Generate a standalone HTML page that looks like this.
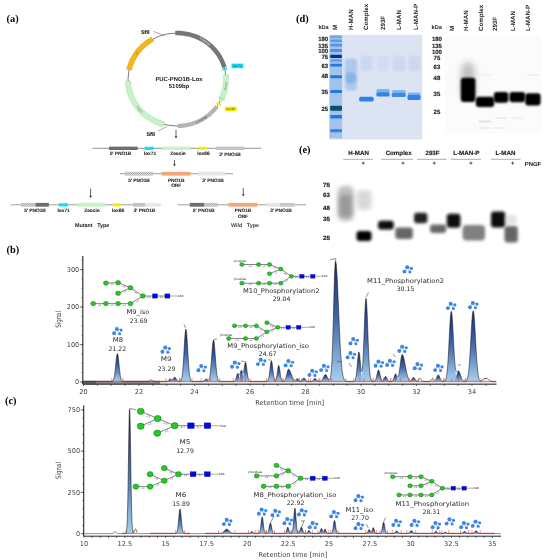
<!DOCTYPE html>
<html><head><meta charset="utf-8"><title>Figure</title>
<style>html,body{margin:0;padding:0;background:#fff;} body{width:550px;height:560px;overflow:hidden;} svg{display:block;}</style>
</head><body>
<svg width="550" height="560" viewBox="0 0 550 560" text-rendering="geometricPrecision">
<rect width="550" height="560" fill="#fff"/>

<defs>
<filter id="b05" x="-50%" y="-50%" width="200%" height="200%"><feGaussianBlur stdDeviation="0.5"/></filter>
<filter id="b07" x="-50%" y="-50%" width="200%" height="200%"><feGaussianBlur stdDeviation="0.7"/></filter>
<filter id="b08" x="-50%" y="-50%" width="200%" height="200%"><feGaussianBlur stdDeviation="0.8"/></filter>
<filter id="b1" x="-50%" y="-50%" width="200%" height="200%"><feGaussianBlur stdDeviation="1.1"/></filter>
<filter id="b13" x="-50%" y="-50%" width="200%" height="200%"><feGaussianBlur stdDeviation="1.35"/></filter>
<filter id="b2" x="-50%" y="-50%" width="200%" height="200%"><feGaussianBlur stdDeviation="2"/></filter>
<filter id="b3" x="-80%" y="-80%" width="260%" height="260%"><feGaussianBlur stdDeviation="3"/></filter>
<linearGradient id="pk" x1="0" y1="0" x2="0" y2="1">
  <stop offset="0" stop-color="#1b2870"/>
  <stop offset="0.45" stop-color="#3f63a8"/>
  <stop offset="1" stop-color="#a6d2ee"/>
</linearGradient>
<pattern id="chk" width="2" height="2" patternUnits="userSpaceOnUse">
  <rect width="2" height="2" fill="#d8d8d8"/>
  <rect width="1" height="1" fill="#b0b0b0"/>
  <rect x="1" y="1" width="1" height="1" fill="#b0b0b0"/>
</pattern>
<pattern id="chk2" width="2" height="2" patternUnits="userSpaceOnUse">
  <rect width="2" height="2" fill="#f0f0f0"/>
  <rect width="1" height="1" fill="#dcdcdc"/>
  <rect x="1" y="1" width="1" height="1" fill="#dcdcdc"/>
</pattern>
</defs>

<text x="6.5" y="22.0" font-size="10.4" font-weight="bold" text-anchor="start" fill="#000" font-family="'Liberation Serif', 'Times New Roman', serif" >(a)</text>
<text x="6.5" y="252.5" font-size="10.4" font-weight="bold" text-anchor="start" fill="#000" font-family="'Liberation Serif', 'Times New Roman', serif" >(b)</text>
<text x="5.0" y="404.0" font-size="10.4" font-weight="bold" text-anchor="start" fill="#000" font-family="'Liberation Serif', 'Times New Roman', serif" >(c)</text>
<text x="296.0" y="22.0" font-size="10.4" font-weight="bold" text-anchor="start" fill="#000" font-family="'Liberation Serif', 'Times New Roman', serif" >(d)</text>
<text x="299.0" y="153.0" font-size="10.4" font-weight="bold" text-anchor="start" fill="#000" font-family="'Liberation Serif', 'Times New Roman', serif" >(e)</text>
<ellipse cx="177" cy="79.5" rx="49" ry="46.5" fill="none" stroke="#5a5a5a" stroke-width="0.8"/>
<path d="M175.21,30.73 L176.93,30.70 L178.66,30.73 L180.38,30.81 L182.10,30.94 L183.81,31.13 L185.51,31.38 L187.21,31.68 L188.89,32.03 L190.56,32.44 L192.21,32.90 L193.85,33.41 L195.47,33.97 L197.07,34.59 L198.64,35.25 L200.19,35.97 L201.71,36.74 L203.21,37.55 L204.68,38.41 L206.11,39.32 L207.51,40.27 L208.88,41.27 L210.21,42.31 L211.51,43.39 L212.76,44.51 L213.98,45.68 L215.15,46.88 L216.28,48.12 L217.37,49.39 L218.41,50.70 L219.40,52.04 L220.35,53.41 L221.25,54.81 L222.09,56.23 L222.89,57.69 L223.63,59.17 L224.33,60.67 L224.96,62.19 L225.55,63.73 L226.08,65.29 L226.55,66.87 L222.11,68.06 L221.68,66.63 L221.20,65.22 L220.66,63.82 L220.08,62.44 L219.45,61.08 L218.78,59.74 L218.05,58.43 L217.28,57.13 L216.46,55.87 L215.60,54.62 L214.70,53.41 L213.75,52.23 L212.76,51.07 L211.73,49.95 L210.66,48.87 L209.56,47.81 L208.41,46.80 L207.24,45.82 L206.02,44.87 L204.78,43.97 L203.50,43.11 L202.19,42.28 L200.86,41.50 L199.50,40.77 L198.11,40.07 L196.70,39.42 L195.27,38.82 L193.81,38.26 L192.34,37.75 L190.85,37.29 L189.34,36.87 L187.82,36.50 L186.29,36.18 L184.75,35.91 L183.20,35.69 L181.64,35.52 L180.07,35.40 L178.51,35.32 L176.94,35.30 L175.37,35.33 Z" fill="#767676" stroke="none" stroke-width="0.4"/>
<path d="M228.22,74.38 L228.28,75.02 L228.34,75.66 L228.39,76.30 L228.43,76.94 L228.46,77.58 L228.48,78.22 L228.50,78.86 L228.50,79.50 L228.50,80.14 L228.48,80.78 L228.46,81.42 L228.43,82.06 L228.39,82.70 L228.34,83.34 L228.28,83.98 L228.22,84.62 L228.14,85.26 L228.06,85.90 L227.97,86.53 L227.87,87.17 L227.76,87.80 L227.64,88.43 L227.51,89.06 L227.37,89.69 L227.23,90.31 L227.08,90.94 L226.92,91.56 L226.75,92.18 L226.57,92.80 L226.38,93.42 L226.18,94.03 L225.98,94.64 L225.77,95.25 L225.55,95.86 L225.32,96.46 L225.08,97.06 L224.83,97.66 L224.58,98.25 L224.32,98.84 L224.05,99.43 L219.48,97.40 L219.72,96.87 L219.96,96.34 L220.19,95.80 L220.41,95.27 L220.63,94.73 L220.83,94.19 L221.03,93.64 L221.22,93.10 L221.41,92.55 L221.59,92.00 L221.75,91.44 L221.92,90.89 L222.07,90.33 L222.22,89.77 L222.35,89.21 L222.48,88.65 L222.61,88.08 L222.72,87.52 L222.83,86.95 L222.93,86.38 L223.02,85.81 L223.10,85.24 L223.18,84.67 L223.25,84.10 L223.30,83.53 L223.36,82.95 L223.40,82.38 L223.44,81.80 L223.46,81.23 L223.48,80.65 L223.50,80.08 L223.50,79.50 L223.50,78.92 L223.48,78.35 L223.46,77.77 L223.44,77.20 L223.40,76.62 L223.36,76.05 L223.30,75.47 L223.25,74.90 Z" fill="#c9f2c9" stroke="#8ccf8c" stroke-width="0.4"/>
<path d="M224.87,99.80 L220.06,101.69 L218.66,97.03 Z" fill="#c9f2c9" stroke="#8ccf8c" stroke-width="0.4"/>
<path d="M218.86,107.38 L218.16,108.31 L217.43,109.22 L216.68,110.12 L215.91,111.00 L215.12,111.86 L214.31,112.71 L213.48,113.53 L212.63,114.34 L211.75,115.13 L210.86,115.90 L209.95,116.65 L209.02,117.38 L208.07,118.08 L207.11,118.77 L206.13,119.43 L205.13,120.07 L204.12,120.69 L203.09,121.29 L202.05,121.86 L200.99,122.41 L199.92,122.94 L198.84,123.44 L197.74,123.92 L196.64,124.37 L195.52,124.80 L194.39,125.20 L193.26,125.58 L192.11,125.93 L190.96,126.25 L189.79,126.55 L188.63,126.83 L187.45,127.07 L186.27,127.29 L185.08,127.49 L183.89,127.66 L182.70,127.80 L181.50,127.91 L180.30,128.00 L179.10,128.06 L177.89,128.09 L177.82,123.89 L178.92,123.86 L180.03,123.81 L181.13,123.73 L182.23,123.62 L183.32,123.49 L184.42,123.34 L185.51,123.16 L186.59,122.96 L187.67,122.74 L188.74,122.49 L189.81,122.21 L190.87,121.91 L191.92,121.59 L192.96,121.25 L194.00,120.88 L195.02,120.49 L196.04,120.08 L197.04,119.64 L198.04,119.18 L199.02,118.70 L199.99,118.20 L200.94,117.68 L201.89,117.13 L202.82,116.57 L203.73,115.98 L204.63,115.37 L205.52,114.75 L206.39,114.10 L207.24,113.44 L208.08,112.75 L208.90,112.05 L209.70,111.33 L210.48,110.59 L211.24,109.84 L211.99,109.07 L212.72,108.28 L213.42,107.47 L214.11,106.65 L214.77,105.82 L215.42,104.97 Z" fill="#b4b4b4" stroke="none" stroke-width="0.4"/>
<path d="M162.78,126.70 L161.23,126.25 L159.69,125.76 L158.17,125.21 L156.67,124.63 L155.19,124.00 L153.73,123.33 L152.30,122.61 L150.89,121.85 L149.50,121.05 L148.15,120.21 L146.82,119.32 L145.52,118.40 L144.25,117.44 L143.01,116.44 L141.81,115.41 L140.64,114.34 L139.51,113.24 L138.41,112.10 L137.36,110.93 L136.34,109.73 L135.36,108.50 L134.42,107.24 L133.53,105.95 L132.68,104.64 L131.87,103.30 L131.11,101.94 L130.39,100.56 L129.72,99.16 L129.09,97.73 L128.51,96.29 L127.98,94.84 L127.50,93.36 L127.07,91.88 L126.68,90.38 L126.35,88.87 L126.06,87.35 L125.83,85.82 L125.65,84.29 L125.51,82.75 L125.43,81.21 L130.63,81.03 L130.70,82.41 L130.82,83.78 L130.99,85.15 L131.20,86.52 L131.45,87.88 L131.75,89.23 L132.10,90.57 L132.49,91.89 L132.92,93.21 L133.40,94.51 L133.92,95.80 L134.48,97.08 L135.09,98.33 L135.73,99.57 L136.42,100.78 L137.14,101.98 L137.91,103.15 L138.71,104.30 L139.56,105.43 L140.44,106.53 L141.35,107.60 L142.30,108.65 L143.29,109.66 L144.30,110.65 L145.36,111.61 L146.44,112.53 L147.55,113.42 L148.69,114.28 L149.86,115.11 L151.05,115.89 L152.27,116.65 L153.52,117.36 L154.79,118.04 L156.08,118.68 L157.39,119.29 L158.72,119.85 L160.07,120.37 L161.44,120.86 L162.82,121.30 L164.21,121.70 Z" fill="#c9f2c9" stroke="#8ccf8c" stroke-width="0.4"/>
<path d="M126.63,69.31 L126.86,68.31 L127.12,67.31 L127.40,66.32 L127.70,65.34 L128.02,64.36 L128.36,63.39 L128.73,62.42 L129.12,61.46 L129.52,60.51 L129.95,59.57 L130.40,58.64 L130.87,57.71 L131.36,56.80 L131.87,55.89 L132.40,55.00 L132.95,54.12 L133.52,53.24 L134.10,52.38 L134.71,51.54 L135.34,50.70 L135.98,49.87 L136.64,49.06 L137.32,48.27 L138.01,47.48 L138.73,46.71 L139.46,45.96 L140.20,45.22 L140.97,44.49 L141.75,43.78 L142.54,43.09 L143.35,42.41 L144.17,41.74 L145.01,41.10 L145.86,40.47 L146.73,39.86 L147.61,39.26 L148.50,38.69 L149.40,38.13 L150.32,37.59 L151.25,37.06 L153.75,41.39 L152.91,41.86 L152.08,42.35 L151.27,42.85 L150.46,43.37 L149.67,43.90 L148.89,44.45 L148.12,45.02 L147.36,45.60 L146.62,46.19 L145.89,46.80 L145.17,47.43 L144.47,48.06 L143.78,48.71 L143.10,49.38 L142.44,50.06 L141.80,50.75 L141.17,51.45 L140.56,52.17 L139.96,52.90 L139.38,53.64 L138.82,54.39 L138.27,55.15 L137.74,55.92 L137.23,56.71 L136.73,57.50 L136.25,58.30 L135.79,59.11 L135.35,59.94 L134.93,60.77 L134.52,61.60 L134.13,62.45 L133.77,63.30 L133.42,64.16 L133.09,65.03 L132.78,65.90 L132.48,66.78 L132.21,67.67 L131.96,68.56 L131.73,69.45 L131.52,70.35 Z" fill="#f2b61e" stroke="#d99a00" stroke-width="0.4"/>
<path d="M227.02,67.46 L227.04,67.51 L227.05,67.56 L227.06,67.61 L227.08,67.65 L227.09,67.70 L227.10,67.75 L227.11,67.80 L227.13,67.85 L227.14,67.90 L227.15,67.95 L227.17,68.00 L227.18,68.05 L227.19,68.10 L227.20,68.15 L227.22,68.20 L227.23,68.25 L227.24,68.30 L227.25,68.35 L227.27,68.40 L227.28,68.45 L227.29,68.51 L227.30,68.56 L227.31,68.61 L227.33,68.66 L227.34,68.71 L227.35,68.76 L227.36,68.81 L227.37,68.86 L227.38,68.91 L227.40,68.96 L227.41,69.01 L227.42,69.06 L227.43,69.11 L227.44,69.16 L227.45,69.21 L227.46,69.26 L227.48,69.31 L227.49,69.36 L227.50,69.41 L227.51,69.46 L222.42,70.52 L222.41,70.48 L222.40,70.43 L222.39,70.39 L222.38,70.34 L222.37,70.30 L222.36,70.25 L222.35,70.21 L222.34,70.16 L222.33,70.12 L222.32,70.07 L222.31,70.03 L222.30,69.98 L222.29,69.94 L222.28,69.89 L222.26,69.85 L222.25,69.80 L222.24,69.76 L222.23,69.71 L222.22,69.67 L222.21,69.62 L222.20,69.58 L222.19,69.54 L222.18,69.49 L222.17,69.45 L222.16,69.40 L222.14,69.36 L222.13,69.31 L222.12,69.27 L222.11,69.22 L222.10,69.18 L222.09,69.13 L222.08,69.09 L222.06,69.04 L222.05,69.00 L222.04,68.95 L222.03,68.91 L222.02,68.86 L222.01,68.82 L221.99,68.78 L221.98,68.73 Z" fill="#12e0f6" stroke="none" stroke-width="0.4"/>
<path d="M221.37,104.37 L221.34,104.42 L221.31,104.47 L221.28,104.52 L221.25,104.57 L221.22,104.62 L221.19,104.67 L221.16,104.72 L221.13,104.77 L221.09,104.82 L221.06,104.87 L221.03,104.91 L221.00,104.96 L220.97,105.01 L220.94,105.06 L220.91,105.11 L220.87,105.16 L220.84,105.21 L220.81,105.26 L220.78,105.31 L220.75,105.36 L220.71,105.41 L220.68,105.46 L220.65,105.50 L220.62,105.55 L220.58,105.60 L220.55,105.65 L220.52,105.70 L220.49,105.75 L220.46,105.80 L220.42,105.85 L220.39,105.89 L220.36,105.94 L220.32,105.99 L220.29,106.04 L220.26,106.09 L220.23,106.14 L220.19,106.19 L220.16,106.23 L220.13,106.28 L220.09,106.33 L215.91,103.59 L215.94,103.55 L215.97,103.51 L216.00,103.46 L216.03,103.42 L216.06,103.38 L216.09,103.33 L216.12,103.29 L216.15,103.24 L216.18,103.20 L216.21,103.16 L216.24,103.11 L216.27,103.07 L216.29,103.03 L216.32,102.98 L216.35,102.94 L216.38,102.89 L216.41,102.85 L216.44,102.81 L216.47,102.76 L216.50,102.72 L216.53,102.67 L216.56,102.63 L216.59,102.59 L216.61,102.54 L216.64,102.50 L216.67,102.45 L216.70,102.41 L216.73,102.37 L216.76,102.32 L216.78,102.28 L216.81,102.23 L216.84,102.19 L216.87,102.14 L216.90,102.10 L216.93,102.05 L216.95,102.01 L216.98,101.97 L217.01,101.92 L217.04,101.88 L217.07,101.83 Z" fill="#f4ec10" stroke="none" stroke-width="0.4"/>
<text x="141.0" y="33.5" font-size="5.4" font-weight="bold" text-anchor="start" fill="#222" font-family="'Liberation Sans', Arial, sans-serif" stroke="#222" stroke-width="0.15">SfiI</text>
<line x1="153.5" y1="31.5" x2="164" y2="35.2" stroke="#555" stroke-width="0.5"/>
<text x="146.5" y="136.0" font-size="5.4" font-weight="bold" text-anchor="start" fill="#222" font-family="'Liberation Sans', Arial, sans-serif" stroke="#222" stroke-width="0.15">SfiI</text>
<line x1="158" y1="131" x2="167" y2="126.5" stroke="#555" stroke-width="0.5"/>
<text x="179.0" y="81.0" font-size="5.9" font-weight="bold" text-anchor="middle" fill="#222" font-family="'Liberation Sans', Arial, sans-serif" >PUC-PNO1B-Lox</text>
<text x="179.0" y="87.6" font-size="5.9" font-weight="bold" text-anchor="middle" fill="#222" font-family="'Liberation Sans', Arial, sans-serif" >5109bp</text>
<rect x="231.5" y="63.6" width="12" height="4.6" fill="#12e0f6"/>
<text x="237.5" y="67.3" font-size="3.2" font-weight="normal" text-anchor="middle" fill="#1a4050" font-family="'Liberation Sans', Arial, sans-serif" >lox 71</text>
<rect x="224.8" y="106.6" width="12" height="4.6" fill="#f4ec10"/>
<text x="230.8" y="110.3" font-size="3.2" font-weight="normal" text-anchor="middle" fill="#404010" font-family="'Liberation Sans', Arial, sans-serif" >lox 66</text>
<text x="205.1" y="42.4" font-size="2.8" fill="#eee" text-anchor="middle" font-family="'Liberation Sans', Arial, sans-serif" transform="rotate(35 205.1 41.4)">5' PNO1B</text>
<text x="201.5" y="120.8" font-size="2.8" fill="#555" text-anchor="middle" font-family="'Liberation Sans', Arial, sans-serif" transform="rotate(-30 201.5 119.8)">3' PNO1B</text>
<text x="136.9" y="53.8" font-size="2.8" fill="#7a5a00" text-anchor="middle" font-family="'Liberation Sans', Arial, sans-serif" transform="rotate(-55 136.9 52.8)">ori</text>
<text x="139.5" y="110.4" font-size="2.8" fill="#4a7a4a" text-anchor="middle" font-family="'Liberation Sans', Arial, sans-serif" transform="rotate(50 139.5 109.4)">AmpR</text>
<text x="225.5" y="87.0" font-size="2.8" fill="#4a7a4a" text-anchor="middle" font-family="'Liberation Sans', Arial, sans-serif" transform="rotate(-80 225.5 86.0)">Zeocin</text>
<line x1="176" y1="130" x2="176" y2="136.7" stroke="#222" stroke-width="0.7"/>
<path d="M174.8,136.3 L177.2,136.3 L176,138.5 Z" fill="#222"/>
<line x1="92.5" y1="148.3" x2="261" y2="148.3" stroke="#666" stroke-width="0.7"/>
<rect x="109" y="146.60000000000002" width="28.599999999999994" height="3.4" fill="#6e6e6e"/>
<path d="M144.5,146.70000000000002 L152.0,146.70000000000002 L152.0,146.10000000000002 L154.5,148.3 L152.0,150.5 L152.0,149.9 L144.5,149.9 Z" fill="#12e0f6"/>
<rect x="162.4" y="146.60000000000002" width="27.599999999999994" height="3.4" fill="#c6f3c6"/>
<path d="M198.2,146.70000000000002 L204.8,146.70000000000002 L204.8,146.10000000000002 L207.3,148.3 L204.8,150.5 L204.8,149.9 L198.2,149.9 Z" fill="#f4ec10"/>
<rect x="216" y="146.60000000000002" width="28.5" height="3.4" fill="#c4c4c4"/>
<text x="120.5" y="155.2" font-size="4.8" font-weight="bold" text-anchor="middle" fill="#2a2a2a" font-family="'Liberation Sans', Arial, sans-serif" stroke="#2a2a2a" stroke-width="0.12">5' PNO1B</text>
<text x="150.0" y="155.0" font-size="4.8" font-weight="bold" text-anchor="middle" fill="#2a2a2a" font-family="'Liberation Sans', Arial, sans-serif" stroke="#2a2a2a" stroke-width="0.12">lox71</text>
<text x="178.0" y="155.2" font-size="4.8" font-weight="bold" text-anchor="middle" fill="#2a2a2a" font-family="'Liberation Sans', Arial, sans-serif" stroke="#2a2a2a" stroke-width="0.12">Zeocin</text>
<text x="203.5" y="155.0" font-size="4.8" font-weight="bold" text-anchor="middle" fill="#2a2a2a" font-family="'Liberation Sans', Arial, sans-serif" stroke="#2a2a2a" stroke-width="0.12">lox66</text>
<text x="230.0" y="155.5" font-size="4.8" font-weight="bold" text-anchor="middle" fill="#2a2a2a" font-family="'Liberation Sans', Arial, sans-serif" stroke="#2a2a2a" stroke-width="0.12">3' PNO1B</text>
<line x1="174.5" y1="160" x2="174.5" y2="164.7" stroke="#222" stroke-width="0.7"/>
<path d="M173.3,164.3 L175.7,164.3 L174.5,166.5 Z" fill="#222"/>
<line x1="120" y1="173.7" x2="233" y2="173.7" stroke="#777" stroke-width="0.7"/>
<rect x="124.7" y="171.79999999999998" width="28.299999999999997" height="3.8" fill="url(#chk)"/>
<rect x="161.5" y="171.79999999999998" width="28.900000000000006" height="3.8" fill="#f2a87a"/>
<rect x="198" y="171.79999999999998" width="27.400000000000006" height="3.8" fill="url(#chk2)"/>
<text x="139.0" y="181.5" font-size="4.8" font-weight="bold" text-anchor="middle" fill="#2a2a2a" font-family="'Liberation Sans', Arial, sans-serif" stroke="#2a2a2a" stroke-width="0.12">5' PNO1B</text>
<text x="176.2" y="181.5" font-size="4.8" font-weight="bold" text-anchor="middle" fill="#2a2a2a" font-family="'Liberation Sans', Arial, sans-serif" stroke="#2a2a2a" stroke-width="0.12">PNO1B</text>
<text x="176.2" y="187.0" font-size="4.8" font-weight="bold" text-anchor="middle" fill="#2a2a2a" font-family="'Liberation Sans', Arial, sans-serif" stroke="#2a2a2a" stroke-width="0.12">ORF</text>
<text x="213.0" y="181.5" font-size="4.8" font-weight="bold" text-anchor="middle" fill="#2a2a2a" font-family="'Liberation Sans', Arial, sans-serif" stroke="#2a2a2a" stroke-width="0.12">3' PNO1B</text>
<line x1="90.6" y1="188.5" x2="90.6" y2="196.2" stroke="#222" stroke-width="0.7"/>
<path d="M89.39999999999999,195.8 L91.8,195.8 L90.6,198 Z" fill="#222"/>
<line x1="243.3" y1="188" x2="243.3" y2="194.7" stroke="#222" stroke-width="0.7"/>
<path d="M242.10000000000002,194.3 L244.5,194.3 L243.3,196.5 Z" fill="#222"/>
<line x1="10.8" y1="204.8" x2="160.7" y2="204.8" stroke="#777" stroke-width="0.7"/>
<rect x="21" y="202.9" width="14.5" height="3.8" fill="url(#chk)"/>
<rect x="35.5" y="202.9" width="13.299999999999997" height="3.8" fill="#6e6e6e"/>
<path d="M58.7,203.20000000000002 L66.1,203.20000000000002 L66.1,202.60000000000002 L68.6,204.8 L66.1,207.0 L66.1,206.4 L58.7,206.4 Z" fill="#12e0f6"/>
<rect x="77.3" y="202.9" width="27.799999999999997" height="3.8" fill="#c6f3c6"/>
<path d="M112.8,203.20000000000002 L119.6,203.20000000000002 L119.6,202.60000000000002 L122.1,204.8 L119.6,207.0 L119.6,206.4 L112.8,206.4 Z" fill="#f4ec10"/>
<rect x="133" y="202.9" width="12.300000000000011" height="3.8" fill="#c4c4c4"/>
<rect x="145.3" y="202.9" width="13.899999999999977" height="3.8" fill="#e8e8e8"/>
<text x="35.0" y="212.0" font-size="4.8" font-weight="bold" text-anchor="middle" fill="#2a2a2a" font-family="'Liberation Sans', Arial, sans-serif" stroke="#2a2a2a" stroke-width="0.12">5' PNO1B</text>
<text x="63.6" y="212.0" font-size="4.8" font-weight="bold" text-anchor="middle" fill="#2a2a2a" font-family="'Liberation Sans', Arial, sans-serif" stroke="#2a2a2a" stroke-width="0.12">lox71</text>
<text x="92.0" y="212.0" font-size="4.8" font-weight="bold" text-anchor="middle" fill="#2a2a2a" font-family="'Liberation Sans', Arial, sans-serif" stroke="#2a2a2a" stroke-width="0.12">Zeocin</text>
<text x="118.0" y="212.0" font-size="4.8" font-weight="bold" text-anchor="middle" fill="#2a2a2a" font-family="'Liberation Sans', Arial, sans-serif" stroke="#2a2a2a" stroke-width="0.12">lox66</text>
<text x="144.5" y="212.0" font-size="4.8" font-weight="bold" text-anchor="middle" fill="#2a2a2a" font-family="'Liberation Sans', Arial, sans-serif" stroke="#2a2a2a" stroke-width="0.12">3' PNO1B</text>
<text x="75.0" y="226.6" font-size="5.4" font-weight="bold" text-anchor="start" fill="#222" font-family="'Liberation Sans', Arial, sans-serif" >Mutant&#160;&#160;&#160;Type</text>
<line x1="177.6" y1="204.8" x2="306" y2="204.8" stroke="#777" stroke-width="0.7"/>
<rect x="189.8" y="202.9" width="14.599999999999994" height="3.8" fill="#6e6e6e"/>
<rect x="204.4" y="202.9" width="13.400000000000006" height="3.8" fill="url(#chk)"/>
<rect x="228.5" y="202.9" width="28.80000000000001" height="3.8" fill="#f2a87a"/>
<rect x="266.7" y="202.9" width="13.300000000000011" height="3.8" fill="url(#chk2)"/>
<rect x="280" y="202.9" width="14.699999999999989" height="3.8" fill="#c8c8c8"/>
<text x="203.7" y="212.0" font-size="4.8" font-weight="bold" text-anchor="middle" fill="#2a2a2a" font-family="'Liberation Sans', Arial, sans-serif" stroke="#2a2a2a" stroke-width="0.12">5' PNO1B</text>
<text x="243.0" y="212.0" font-size="4.8" font-weight="bold" text-anchor="middle" fill="#2a2a2a" font-family="'Liberation Sans', Arial, sans-serif" stroke="#2a2a2a" stroke-width="0.12">PNO1B</text>
<text x="243.0" y="217.7" font-size="4.8" font-weight="bold" text-anchor="middle" fill="#2a2a2a" font-family="'Liberation Sans', Arial, sans-serif" stroke="#2a2a2a" stroke-width="0.12">ORF</text>
<text x="281.0" y="212.0" font-size="4.8" font-weight="bold" text-anchor="middle" fill="#2a2a2a" font-family="'Liberation Sans', Arial, sans-serif" stroke="#2a2a2a" stroke-width="0.12">3' PNO1B</text>
<text x="231.0" y="227.2" font-size="5.4" font-weight="bold" text-anchor="start" fill="#444" font-family="'Liberation Sans', Arial, sans-serif" >Wild&#160;&#160;&#160;Type</text>
<rect x="329" y="34.8" width="93.2" height="104.8" fill="#dce3f2"/>
<rect x="329.6" y="35.5" width="12.6" height="103" fill="#a3c2ec" filter="url(#b05)"/>
<rect x="330.2" y="35.599999999999994" width="11.8" height="2.4" rx="1" fill="#6ea6e8" filter="url(#b05)"/>
<rect x="330.2" y="39.400000000000006" width="11.8" height="2.6" rx="1" fill="#5e9ce8" filter="url(#b05)"/>
<rect x="330.2" y="43.7" width="11.8" height="2.8" rx="1" fill="#5596e6" filter="url(#b05)"/>
<rect x="330.2" y="49.1" width="11.8" height="2.8" rx="1" fill="#4a90e6" filter="url(#b05)"/>
<rect x="330.2" y="54.8" width="11.8" height="3.2" rx="1" fill="#0d2f96" filter="url(#b05)"/>
<rect x="330.2" y="59.4" width="11.8" height="2.0" rx="1" fill="#5a9ae4" filter="url(#b05)"/>
<rect x="330.2" y="63.699999999999996" width="11.8" height="2.8" rx="1" fill="#1f7ce6" filter="url(#b05)"/>
<rect x="330.2" y="75.3" width="11.8" height="3.0" rx="1" fill="#1c7ae6" filter="url(#b05)"/>
<rect x="330.2" y="89.9" width="11.8" height="3.0" rx="1" fill="#1c7ae6" filter="url(#b05)"/>
<rect x="330.2" y="105.8" width="11.8" height="5.0" rx="1" fill="#08506c" filter="url(#b05)"/>
<rect x="330.2" y="115.1" width="11.8" height="3.4" rx="1" fill="#2078e2" filter="url(#b05)"/>
<rect x="330.2" y="129.3" width="11.8" height="3.0" rx="1" fill="#3080e2" filter="url(#b05)"/>
<rect x="345" y="58.5" width="12" height="32" rx="4" fill="#a6c4ee" opacity="0.85" filter="url(#b1)"/>
<ellipse cx="350.8" cy="78" rx="5.4" ry="6" fill="#7eace8" opacity="0.75" filter="url(#b1)"/>
<rect x="376.3" y="89.10000000000001" width="13.4" height="3.6" rx="1.5" fill="#7fb2ee" filter="url(#b07)"/>
<rect x="391.8" y="90.1" width="14" height="3.0" rx="1.5" fill="#86b6ee" filter="url(#b07)"/>
<rect x="407.5" y="92.39999999999999" width="13" height="2.8" rx="1.5" fill="#86b6ee" filter="url(#b07)"/>
<rect x="359.2" y="96.8" width="14.4" height="4.6" rx="1.5" fill="#2a82ea" filter="url(#b07)"/>
<rect x="376.3" y="92.30000000000001" width="13.4" height="4.2" rx="1.5" fill="#2f84ea" filter="url(#b07)"/>
<rect x="391.8" y="92.7" width="14" height="4.4" rx="1.5" fill="#3a8aea" filter="url(#b07)"/>
<rect x="407.5" y="94.80000000000001" width="13" height="5.2" rx="1.5" fill="#2f84ea" filter="url(#b07)"/>
<rect x="360.6" y="56" width="12" height="15" rx="3" fill="#b4c8ec" opacity="0.4" filter="url(#b1)"/>
<rect x="377" y="56" width="12" height="15" rx="3" fill="#b4c8ec" opacity="0.22" filter="url(#b1)"/>
<rect x="393" y="56" width="12" height="15" rx="3" fill="#b4c8ec" opacity="0.4" filter="url(#b1)"/>
<rect x="408.5" y="56" width="12" height="15" rx="3" fill="#b4c8ec" opacity="0.4" filter="url(#b1)"/>
<text x="328.2" y="40.9" font-size="6.0" font-weight="bold" text-anchor="end" fill="#222" font-family="'Liberation Sans', Arial, sans-serif" stroke="#222" stroke-width="0.15">180</text>
<text x="328.2" y="47.5" font-size="6.0" font-weight="bold" text-anchor="end" fill="#222" font-family="'Liberation Sans', Arial, sans-serif" stroke="#222" stroke-width="0.15">135</text>
<text x="328.2" y="53.2" font-size="6.0" font-weight="bold" text-anchor="end" fill="#222" font-family="'Liberation Sans', Arial, sans-serif" stroke="#222" stroke-width="0.15">100</text>
<text x="328.2" y="59.3" font-size="6.0" font-weight="bold" text-anchor="end" fill="#222" font-family="'Liberation Sans', Arial, sans-serif" stroke="#222" stroke-width="0.15">75</text>
<text x="328.2" y="68.1" font-size="6.0" font-weight="bold" text-anchor="end" fill="#222" font-family="'Liberation Sans', Arial, sans-serif" stroke="#222" stroke-width="0.15">63</text>
<text x="328.2" y="77.8" font-size="6.0" font-weight="bold" text-anchor="end" fill="#222" font-family="'Liberation Sans', Arial, sans-serif" stroke="#222" stroke-width="0.15">48</text>
<text x="328.2" y="94.2" font-size="6.0" font-weight="bold" text-anchor="end" fill="#222" font-family="'Liberation Sans', Arial, sans-serif" stroke="#222" stroke-width="0.15">35</text>
<text x="328.2" y="110.8" font-size="6.0" font-weight="bold" text-anchor="end" fill="#222" font-family="'Liberation Sans', Arial, sans-serif" stroke="#222" stroke-width="0.15">25</text>
<text x="318.4" y="29.0" font-size="5.6" font-weight="bold" text-anchor="start" fill="#222" font-family="'Liberation Sans', Arial, sans-serif" >kDa</text>
<text x="337.4" y="30" font-size="6.2" font-weight="bold" fill="#222" font-family="'Liberation Sans', Arial, sans-serif" transform="rotate(-90 337.4 30)">M</text>
<text x="353.3" y="30" font-size="6.2" font-weight="bold" fill="#222" font-family="'Liberation Sans', Arial, sans-serif" transform="rotate(-90 353.3 30)">H-MAN</text>
<text x="368.3" y="30" font-size="6.2" font-weight="bold" fill="#222" font-family="'Liberation Sans', Arial, sans-serif" transform="rotate(-90 368.3 30)">Complex</text>
<text x="385" y="30" font-size="6.2" font-weight="bold" fill="#222" font-family="'Liberation Sans', Arial, sans-serif" transform="rotate(-90 385 30)">293F</text>
<text x="401.1" y="30" font-size="6.2" font-weight="bold" fill="#222" font-family="'Liberation Sans', Arial, sans-serif" transform="rotate(-90 401.1 30)">L-MAN</text>
<text x="417.6" y="30" font-size="6.2" font-weight="bold" fill="#222" font-family="'Liberation Sans', Arial, sans-serif" transform="rotate(-90 417.6 30)">L-MAN-P</text>
<rect x="445" y="36" width="96" height="97" fill="#fbfbfb"/>
<path d="M461,72 C462,58 474,58 475,72 L475,96 L461,96 Z" fill="#888" opacity="0.5" filter="url(#b3)"/>
<rect x="460.8" y="77.8" width="14.6" height="24.2" rx="3" fill="#000" filter="url(#b1)"/>
<rect x="475.8" y="96.8" width="18.4" height="10.2" rx="3" fill="#000" filter="url(#b1)"/>
<rect x="493.8" y="92.0" width="14.6" height="10.8" rx="3" fill="#000" filter="url(#b1)"/>
<rect x="509.4" y="92.0" width="15.8" height="10.2" rx="3" fill="#000" filter="url(#b1)"/>
<rect x="525.2" y="93.2" width="15.4" height="12.4" rx="3" fill="#000" filter="url(#b1)"/>
<rect x="479" y="120.5" width="12" height="2" fill="#888" opacity="0.22" filter="url(#b05)"/>
<rect x="495" y="117" width="12" height="2" fill="#888" opacity="0.1" filter="url(#b05)"/>
<rect x="511" y="117" width="12" height="2" fill="#888" opacity="0.08" filter="url(#b05)"/>
<rect x="479" y="127" width="12" height="2" fill="#888" opacity="0.1" filter="url(#b05)"/>
<rect x="494" y="127" width="12" height="2" fill="#888" opacity="0.08" filter="url(#b05)"/>
<rect x="527" y="74" width="12" height="2" fill="#888" opacity="0.08" filter="url(#b05)"/>
<rect x="479" y="74" width="12" height="2" fill="#888" opacity="0.06" filter="url(#b05)"/>
<text x="436.9" y="41.4" font-size="6.0" font-weight="bold" text-anchor="middle" fill="#222" font-family="'Liberation Sans', Arial, sans-serif" stroke="#222" stroke-width="0.15">180</text>
<text x="436.9" y="47.5" font-size="6.0" font-weight="bold" text-anchor="middle" fill="#222" font-family="'Liberation Sans', Arial, sans-serif" stroke="#222" stroke-width="0.15">135</text>
<text x="436.9" y="53.7" font-size="6.0" font-weight="bold" text-anchor="middle" fill="#222" font-family="'Liberation Sans', Arial, sans-serif" stroke="#222" stroke-width="0.15">100</text>
<text x="436.9" y="59.8" font-size="6.0" font-weight="bold" text-anchor="middle" fill="#222" font-family="'Liberation Sans', Arial, sans-serif" stroke="#222" stroke-width="0.15">75</text>
<text x="436.9" y="69.0" font-size="6.0" font-weight="bold" text-anchor="middle" fill="#222" font-family="'Liberation Sans', Arial, sans-serif" stroke="#222" stroke-width="0.15">63</text>
<text x="436.9" y="79.8" font-size="6.0" font-weight="bold" text-anchor="middle" fill="#222" font-family="'Liberation Sans', Arial, sans-serif" stroke="#222" stroke-width="0.15">48</text>
<text x="436.9" y="96.2" font-size="6.0" font-weight="bold" text-anchor="middle" fill="#222" font-family="'Liberation Sans', Arial, sans-serif" stroke="#222" stroke-width="0.15">35</text>
<text x="436.9" y="113.9" font-size="6.0" font-weight="bold" text-anchor="middle" fill="#222" font-family="'Liberation Sans', Arial, sans-serif" stroke="#222" stroke-width="0.15">25</text>
<text x="431.6" y="29.2" font-size="5.6" font-weight="bold" text-anchor="start" fill="#222" font-family="'Liberation Sans', Arial, sans-serif" >kDa</text>
<text x="454" y="31" font-size="6.2" font-weight="bold" fill="#222" font-family="'Liberation Sans', Arial, sans-serif" transform="rotate(-90 454 31)">M</text>
<text x="468.4" y="31" font-size="6.2" font-weight="bold" fill="#222" font-family="'Liberation Sans', Arial, sans-serif" transform="rotate(-90 468.4 31)">H-MAN</text>
<text x="483.2" y="31" font-size="6.2" font-weight="bold" fill="#222" font-family="'Liberation Sans', Arial, sans-serif" transform="rotate(-90 483.2 31)">Complex</text>
<text x="497.4" y="31" font-size="6.2" font-weight="bold" fill="#222" font-family="'Liberation Sans', Arial, sans-serif" transform="rotate(-90 497.4 31)">293F</text>
<text x="514.9" y="31" font-size="6.2" font-weight="bold" fill="#222" font-family="'Liberation Sans', Arial, sans-serif" transform="rotate(-90 514.9 31)">L-MAN</text>
<text x="529.6" y="31" font-size="6.2" font-weight="bold" fill="#222" font-family="'Liberation Sans', Arial, sans-serif" transform="rotate(-90 529.6 31)">L-MAN-P</text>
<text x="358.6" y="155.2" font-size="6.2" font-weight="bold" text-anchor="middle" fill="#222" font-family="'Liberation Sans', Arial, sans-serif" stroke="#222" stroke-width="0.15">H-MAN</text>
<text x="398.7" y="155.2" font-size="6.2" font-weight="bold" text-anchor="middle" fill="#222" font-family="'Liberation Sans', Arial, sans-serif" stroke="#222" stroke-width="0.15">Complex</text>
<text x="432.5" y="155.2" font-size="6.2" font-weight="bold" text-anchor="middle" fill="#222" font-family="'Liberation Sans', Arial, sans-serif" stroke="#222" stroke-width="0.15">293F</text>
<text x="466.3" y="155.2" font-size="6.2" font-weight="bold" text-anchor="middle" fill="#222" font-family="'Liberation Sans', Arial, sans-serif" stroke="#222" stroke-width="0.15">L-MAN-P</text>
<text x="505.4" y="155.2" font-size="6.2" font-weight="bold" text-anchor="middle" fill="#222" font-family="'Liberation Sans', Arial, sans-serif" stroke="#222" stroke-width="0.15">L-MAN</text>
<line x1="343.2" y1="159.3" x2="372.7" y2="159.3" stroke="#777" stroke-width="0.6"/>
<line x1="381" y1="159.3" x2="413" y2="159.3" stroke="#777" stroke-width="0.6"/>
<line x1="417" y1="159.3" x2="446.6" y2="159.3" stroke="#777" stroke-width="0.6"/>
<line x1="450.7" y1="159.3" x2="481" y2="159.3" stroke="#777" stroke-width="0.6"/>
<line x1="490.8" y1="159.3" x2="520.6" y2="159.3" stroke="#777" stroke-width="0.6"/>
<text x="363.3" y="165.0" font-size="5.8" font-weight="bold" text-anchor="middle" fill="#222" font-family="'Liberation Sans', Arial, sans-serif" >+</text>
<text x="403.0" y="165.0" font-size="5.8" font-weight="bold" text-anchor="middle" fill="#222" font-family="'Liberation Sans', Arial, sans-serif" >+</text>
<text x="434.3" y="165.0" font-size="5.8" font-weight="bold" text-anchor="middle" fill="#222" font-family="'Liberation Sans', Arial, sans-serif" >+</text>
<text x="471.0" y="165.0" font-size="5.8" font-weight="bold" text-anchor="middle" fill="#222" font-family="'Liberation Sans', Arial, sans-serif" >+</text>
<text x="512.8" y="165.0" font-size="5.8" font-weight="bold" text-anchor="middle" fill="#222" font-family="'Liberation Sans', Arial, sans-serif" >+</text>
<text x="524.8" y="165.9" font-size="5.9" font-weight="bold" text-anchor="start" fill="#222" font-family="'Liberation Sans', Arial, sans-serif" >PNGF</text>
<text x="323.0" y="187.1" font-size="6.2" font-weight="bold" text-anchor="start" fill="#222" font-family="'Liberation Sans', Arial, sans-serif" stroke="#222" stroke-width="0.2">75</text>
<text x="323.0" y="196.7" font-size="6.2" font-weight="bold" text-anchor="start" fill="#222" font-family="'Liberation Sans', Arial, sans-serif" stroke="#222" stroke-width="0.2">63</text>
<text x="323.0" y="210.1" font-size="6.2" font-weight="bold" text-anchor="start" fill="#222" font-family="'Liberation Sans', Arial, sans-serif" stroke="#222" stroke-width="0.2">48</text>
<text x="323.0" y="221.1" font-size="6.2" font-weight="bold" text-anchor="start" fill="#222" font-family="'Liberation Sans', Arial, sans-serif" stroke="#222" stroke-width="0.2">35</text>
<text x="323.0" y="239.8" font-size="6.2" font-weight="bold" text-anchor="start" fill="#222" font-family="'Liberation Sans', Arial, sans-serif" stroke="#222" stroke-width="0.2">25</text>
<rect x="337.5" y="186" width="16.3" height="35" rx="6" fill="#8a8a8a" opacity="0.55" filter="url(#b2)"/>
<rect x="339" y="195" width="13" height="22" rx="4" fill="#666" opacity="0.4" filter="url(#b2)"/>
<rect x="356.5" y="190" width="15" height="20" rx="5" fill="#aaa" opacity="0.45" filter="url(#b2)"/>
<rect x="356.5" y="231" width="15" height="10" rx="3" fill="#000" filter="url(#b13)"/>
<rect x="378" y="220.7" width="15.8" height="8.7" rx="3" fill="#0a0a0a" filter="url(#b13)"/>
<rect x="395.3" y="227.5" width="17.5" height="11.5" rx="3" fill="#666" filter="url(#b13)"/>
<rect x="414" y="212.8" width="13.4" height="10.5" rx="3" fill="#222" filter="url(#b13)"/>
<rect x="430" y="224.6" width="16.2" height="8.5" rx="3" fill="#666" filter="url(#b13)"/>
<rect x="446.8" y="213.8" width="13.6" height="14" rx="3" fill="#111" filter="url(#b13)"/>
<rect x="462.6" y="225" width="22.4" height="15.6" rx="4" fill="#808080" filter="url(#b13)"/>
<rect x="491" y="211.6" width="14.2" height="16" rx="3" fill="#111" filter="url(#b13)"/>
<rect x="504.5" y="226" width="13.3" height="16.6" rx="3" fill="#666" filter="url(#b13)"/>
<rect x="505" y="215" width="12" height="10" rx="3" fill="#ccc" opacity="0.5" filter="url(#b13)"/>
<rect x="82.8" y="381.6" width="413.7" height="2.599999999999966" fill="#e6e6e6"/>
<rect x="82.8" y="380.8" width="77.2" height="3.3999999999999657" fill="#8c8c8c"/>
<rect x="82.8" y="380.8" width="13.200000000000003" height="3.3999999999999657" fill="#666"/>
<path d="M112.12,381.6 L112.12,381.43 L112.47,381.28 L112.82,381.00 L113.18,380.54 L113.53,379.81 L113.88,378.71 L114.23,377.15 L114.58,375.05 L114.94,372.39 L115.29,369.21 L115.64,365.69 L115.99,362.08 L116.34,358.70 L116.70,355.94 L117.05,354.13 L117.40,353.50 L117.75,354.13 L118.10,355.94 L118.46,358.70 L118.81,362.08 L119.16,365.69 L119.51,369.21 L119.86,372.39 L120.22,375.05 L120.57,377.15 L120.92,378.71 L121.27,379.81 L121.62,380.54 L121.98,381.00 L122.33,381.28 L122.68,381.43 L122.68,381.6 Z" fill="url(#pk)"/>
<path d="M166.14,381.6 L166.14,381.59 L166.42,381.57 L166.69,381.55 L166.97,381.51 L167.25,381.45 L167.53,381.36 L167.80,381.24 L168.08,381.06 L168.36,380.85 L168.64,380.59 L168.91,380.30 L169.19,380.00 L169.47,379.73 L169.75,379.50 L170.02,379.35 L170.30,379.30 L170.58,379.35 L170.85,379.50 L171.13,379.73 L171.41,380.00 L171.69,380.30 L171.96,380.59 L172.24,380.85 L172.52,381.06 L172.80,381.24 L173.07,381.36 L173.35,381.45 L173.63,381.51 L173.91,381.55 L174.18,381.57 L174.46,381.59 L174.46,381.6 Z" fill="url(#pk)"/>
<path d="M169.90,381.6 L169.90,381.57 L170.22,381.55 L170.54,381.51 L170.86,381.44 L171.18,381.33 L171.50,381.16 L171.82,380.92 L172.14,380.60 L172.46,380.19 L172.78,379.70 L173.10,379.17 L173.42,378.61 L173.74,378.10 L174.06,377.67 L174.38,377.40 L174.70,377.30 L175.02,377.40 L175.34,377.67 L175.66,378.10 L175.98,378.61 L176.30,379.17 L176.62,379.70 L176.94,380.19 L177.26,380.60 L177.58,380.92 L177.90,381.16 L178.22,381.33 L178.54,381.44 L178.86,381.51 L179.18,381.55 L179.50,381.57 L179.50,381.6 Z" fill="url(#pk)"/>
<path d="M180.14,381.6 L180.14,381.29 L180.52,380.99 L180.91,380.48 L181.29,379.61 L181.68,378.25 L182.06,376.20 L182.44,373.27 L182.83,369.34 L183.21,364.35 L183.60,358.41 L183.98,351.82 L184.36,345.05 L184.75,338.74 L185.13,333.58 L185.52,330.18 L185.90,329.00 L186.28,330.18 L186.67,333.58 L187.05,338.74 L187.44,345.05 L187.82,351.82 L188.20,358.41 L188.59,364.35 L188.97,369.34 L189.36,373.27 L189.74,376.20 L190.12,378.25 L190.51,379.61 L190.89,380.48 L191.28,380.99 L191.66,381.29 L191.66,381.6 Z" fill="url(#pk)"/>
<path d="M201.42,381.6 L201.42,381.59 L201.72,381.57 L202.02,381.55 L202.32,381.51 L202.61,381.45 L202.91,381.36 L203.21,381.24 L203.51,381.06 L203.81,380.85 L204.11,380.59 L204.41,380.30 L204.71,380.00 L205.00,379.73 L205.30,379.50 L205.60,379.35 L205.90,379.30 L206.20,379.35 L206.50,379.50 L206.80,379.73 L207.09,380.00 L207.39,380.30 L207.69,380.59 L207.99,380.85 L208.29,381.06 L208.59,381.24 L208.89,381.36 L209.19,381.45 L209.48,381.51 L209.78,381.55 L210.08,381.57 L210.38,381.59 L210.38,381.6 Z" fill="url(#pk)"/>
<path d="M207.74,381.6 L207.74,381.35 L208.12,381.12 L208.51,380.71 L208.89,380.03 L209.28,378.95 L209.66,377.33 L210.04,375.01 L210.43,371.90 L210.81,367.96 L211.20,363.26 L211.58,358.05 L211.96,352.70 L212.35,347.70 L212.73,343.62 L213.12,340.94 L213.50,340.00 L213.88,340.94 L214.27,343.62 L214.65,347.70 L215.04,352.70 L215.42,358.05 L215.80,363.26 L216.19,367.96 L216.57,371.90 L216.96,375.01 L217.34,377.33 L217.72,378.95 L218.11,380.03 L218.49,380.71 L218.88,381.12 L219.26,381.35 L219.26,381.6 Z" fill="url(#pk)"/>
<path d="M233.64,381.6 L233.64,381.55 L233.92,381.51 L234.19,381.43 L234.47,381.29 L234.75,381.08 L235.03,380.77 L235.30,380.32 L235.58,379.71 L235.86,378.94 L236.14,378.03 L236.41,377.01 L236.69,375.97 L236.97,375.00 L237.25,374.20 L237.52,373.68 L237.80,373.50 L238.08,373.68 L238.35,374.20 L238.63,375.00 L238.91,375.97 L239.19,377.01 L239.46,378.03 L239.74,378.94 L240.02,379.71 L240.30,380.32 L240.57,380.77 L240.85,381.08 L241.13,381.29 L241.41,381.43 L241.68,381.51 L241.96,381.55 L241.96,381.6 Z" fill="url(#pk)"/>
<path d="M237.56,381.6 L237.56,381.53 L237.82,381.47 L238.07,381.36 L238.33,381.18 L238.58,380.89 L238.84,380.46 L239.10,379.84 L239.35,379.01 L239.61,377.96 L239.86,376.71 L240.12,375.32 L240.38,373.89 L240.63,372.56 L240.89,371.47 L241.14,370.75 L241.40,370.50 L241.66,370.75 L241.91,371.47 L242.17,372.56 L242.42,373.89 L242.68,375.32 L242.94,376.71 L243.19,377.96 L243.45,379.01 L243.70,379.84 L243.96,380.46 L244.22,380.89 L244.47,381.18 L244.73,381.36 L244.98,381.47 L245.24,381.53 L245.24,381.6 Z" fill="url(#pk)"/>
<path d="M241.02,381.6 L241.02,381.49 L241.32,381.38 L241.62,381.19 L241.92,380.88 L242.21,380.38 L242.51,379.64 L242.81,378.58 L243.11,377.15 L243.41,375.34 L243.71,373.18 L244.01,370.79 L244.31,368.33 L244.60,366.04 L244.90,364.16 L245.20,362.93 L245.50,362.50 L245.80,362.93 L246.10,364.16 L246.40,366.04 L246.69,368.33 L246.99,370.79 L247.29,373.18 L247.59,375.34 L247.89,377.15 L248.19,378.58 L248.49,379.64 L248.79,380.38 L249.08,380.88 L249.38,381.19 L249.68,381.38 L249.98,381.49 L249.98,381.6 Z" fill="url(#pk)"/>
<path d="M266.92,381.6 L266.92,381.48 L267.22,381.36 L267.52,381.16 L267.82,380.82 L268.11,380.29 L268.41,379.48 L268.71,378.34 L269.01,376.80 L269.31,374.85 L269.61,372.52 L269.91,369.94 L270.21,367.29 L270.50,364.81 L270.80,362.79 L271.10,361.46 L271.40,361.00 L271.70,361.46 L272.00,362.79 L272.30,364.81 L272.59,367.29 L272.89,369.94 L273.19,372.52 L273.49,374.85 L273.79,376.80 L274.09,378.34 L274.39,379.48 L274.69,380.29 L274.98,380.82 L275.28,381.16 L275.58,381.36 L275.88,381.48 L275.88,381.6 Z" fill="url(#pk)"/>
<path d="M274.54,381.6 L274.54,381.50 L274.82,381.41 L275.09,381.26 L275.37,380.99 L275.65,380.57 L275.93,379.95 L276.20,379.05 L276.48,377.85 L276.76,376.32 L277.04,374.50 L277.31,372.48 L277.59,370.41 L277.87,368.48 L278.15,366.90 L278.42,365.86 L278.70,365.50 L278.98,365.86 L279.25,366.90 L279.53,368.48 L279.81,370.41 L280.09,372.48 L280.36,374.50 L280.64,376.32 L280.92,377.85 L281.20,379.05 L281.47,379.95 L281.75,380.57 L282.03,380.99 L282.31,381.26 L282.58,381.41 L282.86,381.50 L282.86,381.6 Z" fill="url(#pk)"/>
<path d="M283.06,381.6 L283.06,381.53 L283.53,381.43 L284.00,381.23 L284.47,380.85 L284.95,380.21 L285.42,379.20 L285.89,377.79 L286.36,375.98 L286.83,373.94 L287.30,371.92 L287.77,370.28 L288.25,369.34 L288.72,369.24 L289.19,369.59 L289.66,370.28 L290.13,371.24 L290.60,372.40 L291.07,373.68 L291.55,374.98 L292.02,376.23 L292.49,377.37 L292.96,378.37 L293.43,379.20 L293.90,379.88 L294.38,380.40 L294.85,380.78 L295.32,381.06 L295.79,381.26 L296.26,381.39 L296.73,381.47 L297.20,381.53 L297.20,381.6 Z" fill="url(#pk)"/>
<path d="M293.14,381.6 L293.14,381.58 L293.42,381.57 L293.69,381.54 L293.97,381.49 L294.25,381.42 L294.53,381.31 L294.80,381.16 L295.08,380.95 L295.36,380.68 L295.64,380.37 L295.91,380.01 L296.19,379.65 L296.47,379.32 L296.75,379.04 L297.02,378.86 L297.30,378.80 L297.58,378.86 L297.85,379.04 L298.13,379.32 L298.41,379.65 L298.69,380.01 L298.96,380.37 L299.24,380.68 L299.52,380.95 L299.80,381.16 L300.07,381.31 L300.35,381.42 L300.63,381.49 L300.91,381.54 L301.18,381.57 L301.46,381.58 L301.46,381.6 Z" fill="url(#pk)"/>
<path d="M299.84,381.6 L299.84,381.58 L300.12,381.56 L300.39,381.52 L300.67,381.46 L300.95,381.37 L301.23,381.23 L301.50,381.03 L301.78,380.76 L302.06,380.42 L302.34,380.01 L302.61,379.56 L302.89,379.10 L303.17,378.67 L303.45,378.31 L303.72,378.08 L304.00,378.00 L304.28,378.08 L304.55,378.31 L304.83,378.67 L305.11,379.10 L305.39,379.56 L305.66,380.01 L305.94,380.42 L306.22,380.76 L306.50,381.03 L306.77,381.23 L307.05,381.37 L307.33,381.46 L307.61,381.52 L307.88,381.56 L308.16,381.58 L308.16,381.6 Z" fill="url(#pk)"/>
<path d="M310.52,381.6 L310.52,381.58 L310.82,381.56 L311.12,381.53 L311.42,381.48 L311.71,381.40 L312.01,381.28 L312.31,381.11 L312.61,380.88 L312.91,380.58 L313.21,380.23 L313.51,379.84 L313.81,379.45 L314.10,379.07 L314.40,378.77 L314.70,378.57 L315.00,378.50 L315.30,378.57 L315.60,378.77 L315.90,379.07 L316.19,379.45 L316.49,379.84 L316.79,380.23 L317.09,380.58 L317.39,380.88 L317.69,381.11 L317.99,381.28 L318.29,381.40 L318.58,381.48 L318.88,381.53 L319.18,381.56 L319.48,381.58 L319.48,381.6 Z" fill="url(#pk)"/>
<path d="M319.32,381.6 L319.32,381.56 L319.73,381.52 L320.13,381.45 L320.54,381.33 L320.94,381.15 L321.35,380.87 L321.75,380.48 L322.16,379.95 L322.56,379.27 L322.97,378.47 L323.37,377.58 L323.78,376.67 L324.18,375.81 L324.59,375.12 L324.99,374.66 L325.40,374.50 L325.81,374.66 L326.21,375.12 L326.62,375.81 L327.02,376.67 L327.43,377.58 L327.83,378.47 L328.24,379.27 L328.64,379.95 L329.05,380.48 L329.45,380.87 L329.86,381.15 L330.26,381.33 L330.67,381.45 L331.07,381.52 L331.48,381.56 L331.48,381.6 Z" fill="url(#pk)"/>
<path d="M329.42,381.6 L329.42,380.88 L329.95,379.92 L330.47,377.95 L331.00,374.29 L331.53,368.04 L332.05,358.30 L332.58,344.53 L333.11,326.98 L333.64,307.09 L334.16,287.47 L334.69,271.49 L335.22,262.34 L335.74,261.39 L336.27,264.81 L336.80,271.49 L337.32,280.87 L337.85,292.17 L338.38,304.55 L338.90,317.19 L339.43,329.35 L339.96,340.46 L340.49,350.17 L341.01,358.30 L341.54,364.84 L342.07,369.90 L342.59,373.67 L343.12,376.39 L343.65,378.28 L344.17,379.54 L344.70,380.36 L345.23,380.88 L345.23,381.6 Z" fill="url(#pk)"/>
<path d="M354.10,381.6 L354.10,381.42 L354.42,381.26 L354.74,380.97 L355.06,380.48 L355.38,379.71 L355.70,378.56 L356.02,376.91 L356.34,374.70 L356.66,371.89 L356.98,368.55 L357.30,364.84 L357.62,361.03 L357.94,357.48 L358.26,354.58 L358.58,352.67 L358.90,352.00 L359.22,352.67 L359.54,354.58 L359.86,357.48 L360.18,361.03 L360.50,364.84 L360.82,368.55 L361.14,371.89 L361.46,374.70 L361.78,376.91 L362.10,378.56 L362.42,379.71 L362.74,380.48 L363.06,380.97 L363.38,381.26 L363.70,381.42 L363.70,381.6 Z" fill="url(#pk)"/>
<path d="M360.24,381.6 L360.24,381.10 L360.62,380.64 L361.01,379.82 L361.39,378.46 L361.78,376.29 L362.16,373.04 L362.54,368.41 L362.93,362.18 L363.31,354.29 L363.70,344.88 L364.08,334.44 L364.46,323.72 L364.85,313.73 L365.23,305.55 L365.62,300.17 L366.00,298.30 L366.38,300.17 L366.77,305.55 L367.15,313.73 L367.54,323.72 L367.92,334.44 L368.30,344.88 L368.69,354.29 L369.07,362.18 L369.46,368.41 L369.84,373.04 L370.22,376.29 L370.61,378.46 L370.99,379.82 L371.38,380.64 L371.76,381.10 L371.76,381.6 Z" fill="url(#pk)"/>
<path d="M373.70,381.6 L373.70,381.53 L374.02,381.47 L374.34,381.35 L374.66,381.16 L374.98,380.86 L375.30,380.41 L375.62,379.76 L375.94,378.90 L376.26,377.80 L376.58,376.49 L376.90,375.03 L377.22,373.54 L377.54,372.15 L377.86,371.01 L378.18,370.26 L378.50,370.00 L378.82,370.26 L379.14,371.01 L379.46,372.15 L379.78,373.54 L380.10,375.03 L380.42,376.49 L380.74,377.80 L381.06,378.90 L381.38,379.76 L381.70,380.41 L382.02,380.86 L382.34,381.16 L382.66,381.35 L382.98,381.47 L383.30,381.53 L383.30,381.6 Z" fill="url(#pk)"/>
<path d="M381.12,381.6 L381.12,381.57 L381.42,381.54 L381.72,381.49 L382.02,381.41 L382.31,381.28 L382.61,381.08 L382.91,380.79 L383.21,380.41 L383.51,379.93 L383.81,379.35 L384.11,378.71 L384.41,378.06 L384.70,377.44 L385.00,376.94 L385.30,376.61 L385.60,376.50 L385.90,376.61 L386.20,376.94 L386.50,377.44 L386.79,378.06 L387.09,378.71 L387.39,379.35 L387.69,379.93 L387.99,380.41 L388.29,380.79 L388.59,381.08 L388.89,381.28 L389.18,381.41 L389.48,381.49 L389.78,381.54 L390.08,381.57 L390.08,381.6 Z" fill="url(#pk)"/>
<path d="M391.12,381.6 L391.12,381.55 L391.42,381.51 L391.72,381.44 L392.02,381.31 L392.31,381.12 L392.61,380.82 L392.91,380.40 L393.21,379.83 L393.51,379.11 L393.81,378.25 L394.11,377.30 L394.41,376.32 L394.70,375.41 L395.00,374.66 L395.30,374.17 L395.60,374.00 L395.90,374.17 L396.20,374.66 L396.50,375.41 L396.79,376.32 L397.09,377.30 L397.39,378.25 L397.69,379.11 L397.99,379.83 L398.29,380.40 L398.59,380.82 L398.89,381.12 L399.18,381.31 L399.48,381.44 L399.78,381.51 L400.08,381.55 L400.08,381.6 Z" fill="url(#pk)"/>
<path d="M395.80,381.6 L395.80,381.44 L396.33,381.23 L396.87,380.83 L397.40,380.08 L397.93,378.82 L398.47,376.85 L399.00,374.07 L399.53,370.46 L400.07,366.26 L400.60,361.92 L401.13,358.09 L401.67,355.45 L402.20,354.50 L402.73,354.92 L403.27,356.16 L403.80,358.09 L404.33,360.55 L404.87,363.34 L405.40,366.26 L405.93,369.11 L406.47,371.74 L407.00,374.07 L407.53,376.02 L408.07,377.60 L408.60,378.82 L409.13,379.72 L409.67,380.38 L410.20,380.83 L410.73,381.13 L411.27,381.32 L411.80,381.44 L411.80,381.6 Z" fill="url(#pk)"/>
<path d="M409.12,381.6 L409.12,381.58 L409.42,381.55 L409.72,381.51 L410.02,381.45 L410.31,381.34 L410.61,381.18 L410.91,380.95 L411.21,380.64 L411.51,380.26 L411.81,379.79 L412.11,379.28 L412.41,378.75 L412.70,378.26 L413.00,377.86 L413.30,377.59 L413.60,377.50 L413.90,377.59 L414.20,377.86 L414.50,378.26 L414.79,378.75 L415.09,379.28 L415.39,379.79 L415.69,380.26 L415.99,380.64 L416.29,380.95 L416.59,381.18 L416.89,381.34 L417.18,381.45 L417.48,381.51 L417.78,381.55 L418.08,381.58 L418.08,381.6 Z" fill="url(#pk)"/>
<path d="M433.18,381.6 L433.18,381.56 L433.52,381.52 L433.86,381.46 L434.20,381.35 L434.55,381.18 L434.89,380.92 L435.23,380.56 L435.57,380.06 L435.91,379.44 L436.25,378.69 L436.59,377.86 L436.93,377.01 L437.28,376.22 L437.62,375.57 L437.96,375.15 L438.30,375.00 L438.64,375.15 L438.98,375.57 L439.32,376.22 L439.67,377.01 L440.01,377.86 L440.35,378.69 L440.69,379.44 L441.03,380.06 L441.37,380.56 L441.71,380.92 L442.05,381.18 L442.40,381.35 L442.74,381.46 L443.08,381.52 L443.42,381.56 L443.42,381.6 Z" fill="url(#pk)"/>
<path d="M444.58,381.6 L444.58,381.18 L445.03,380.79 L445.48,380.10 L445.92,378.94 L446.37,377.11 L446.82,374.37 L447.27,370.45 L447.72,365.19 L448.16,358.52 L448.61,350.57 L449.06,341.74 L449.51,332.68 L449.96,324.24 L450.40,317.32 L450.85,312.78 L451.30,311.20 L451.75,312.78 L452.20,317.32 L452.64,324.24 L453.09,332.68 L453.54,341.74 L453.99,350.57 L454.44,358.52 L454.88,365.19 L455.33,370.45 L455.78,374.37 L456.23,377.11 L456.68,378.94 L457.12,380.10 L457.57,380.79 L458.02,381.18 L458.02,381.6 Z" fill="url(#pk)"/>
<path d="M452.10,381.6 L452.10,381.54 L452.53,381.48 L452.95,381.37 L453.38,381.20 L453.81,380.92 L454.23,380.51 L454.66,379.92 L455.09,379.13 L455.51,378.12 L455.94,376.93 L456.37,375.60 L456.79,374.23 L457.22,372.96 L457.65,371.92 L458.07,371.24 L458.50,371.00 L458.93,371.24 L459.35,371.92 L459.78,372.96 L460.21,374.23 L460.63,375.60 L461.06,376.93 L461.49,378.12 L461.91,379.13 L462.34,379.92 L462.77,380.51 L463.19,380.92 L463.62,381.20 L464.05,381.37 L464.47,381.48 L464.90,381.54 L464.90,381.6 Z" fill="url(#pk)"/>
<path d="M465.84,381.6 L465.84,381.18 L466.33,380.78 L466.82,380.08 L467.31,378.92 L467.80,377.08 L468.29,374.32 L468.78,370.38 L469.27,365.07 L469.77,358.35 L470.26,350.35 L470.75,341.46 L471.24,332.34 L471.73,323.83 L472.22,316.87 L472.71,312.30 L473.20,310.70 L473.69,312.30 L474.18,316.87 L474.67,323.83 L475.16,332.34 L475.65,341.46 L476.14,350.35 L476.63,358.35 L477.13,365.07 L477.62,370.38 L478.11,374.32 L478.60,377.08 L479.09,378.92 L479.58,380.08 L480.07,380.78 L480.56,381.18 L480.56,381.6 Z" fill="url(#pk)"/>
<line x1="96" y1="381.3" x2="496" y2="381.3" stroke="#e05050" stroke-width="0.9"/>
<path d="M83.80,381.60 L84.05,381.60 L84.30,381.60 L84.55,381.60 L84.80,381.60 L85.05,381.60 L85.30,381.60 L85.55,381.60 L85.80,381.60 L86.05,381.60 L86.30,381.60 L86.55,381.60 L86.80,381.60 L87.05,381.60 L87.30,381.60 L87.55,381.60 L87.80,381.60 L88.05,381.60 L88.30,381.60 L88.55,381.60 L88.80,381.60 L89.05,381.60 L89.30,381.60 L89.55,381.60 L89.80,381.60 L90.05,381.60 L90.30,381.60 L90.55,381.60 L90.80,381.60 L91.05,381.60 L91.30,381.60 L91.55,381.60 L91.80,381.60 L92.05,381.60 L92.30,381.60 L92.55,381.60 L92.80,381.60 L93.05,381.60 L93.30,381.60 L93.55,381.60 L93.80,381.60 L94.05,381.60 L94.30,381.60 L94.55,381.60 L94.80,381.60 L95.05,381.60 L95.30,381.60 L95.55,381.60 L95.80,381.60 L96.05,381.60 L96.30,381.60 L96.55,381.60 L96.80,381.60 L97.05,381.60 L97.30,381.60 L97.55,381.60 L97.80,381.60 L98.05,381.60 L98.30,381.60 L98.55,381.60 L98.80,381.60 L99.05,381.60 L99.30,381.60 L99.55,381.60 L99.80,381.60 L100.05,381.60 L100.30,381.60 L100.55,381.60 L100.80,381.60 L101.05,381.60 L101.30,381.60 L101.55,381.60 L101.80,381.60 L102.05,381.60 L102.30,381.60 L102.55,381.60 L102.80,381.60 L103.05,381.60 L103.30,381.60 L103.55,381.60 L103.80,381.60 L104.05,381.60 L104.30,381.60 L104.55,381.60 L104.80,381.60 L105.05,381.60 L105.30,381.60 L105.55,381.60 L105.80,381.60 L106.05,381.60 L106.30,381.60 L106.55,381.60 L106.80,381.60 L107.05,381.60 L107.30,381.60 L107.55,381.60 L107.80,381.60 L108.05,381.60 L108.30,381.60 L108.55,381.60 L108.80,381.60 L109.05,381.60 L109.30,381.60 L109.55,381.60 L109.80,381.60 L110.05,381.60 L110.30,381.60 L110.55,381.59 L110.80,381.59 L111.05,381.58 L111.30,381.57 L111.55,381.55 L111.80,381.51 L112.05,381.45 L112.30,381.36 L112.55,381.23 L112.80,381.02 L113.05,380.73 L113.30,380.32 L113.55,379.75 L113.80,379.00 L114.05,378.02 L114.30,376.79 L114.55,375.28 L114.80,373.48 L115.05,371.41 L115.30,369.10 L115.55,366.61 L115.80,364.04 L116.05,361.49 L116.30,359.10 L116.55,356.99 L116.80,355.30 L117.05,354.13 L117.30,353.55 L117.55,353.62 L117.80,354.31 L118.05,355.60 L118.30,357.38 L118.55,359.56 L118.80,361.99 L119.05,364.56 L119.30,367.12 L119.55,369.58 L119.80,371.84 L120.05,373.86 L120.30,375.60 L120.55,377.06 L120.80,378.24 L121.05,379.17 L121.30,379.88 L121.55,380.41 L121.80,380.80 L122.05,381.07 L122.30,381.26 L122.55,381.38 L122.80,381.47 L123.05,381.52 L123.30,381.55 L123.55,381.57 L123.80,381.58 L124.05,381.59 L124.30,381.60 L124.55,381.60 L124.80,381.60 L125.05,381.60 L125.30,381.60 L125.55,381.60 L125.80,381.60 L126.05,381.60 L126.30,381.60 L126.55,381.60 L126.80,381.60 L127.05,381.60 L127.30,381.60 L127.55,381.60 L127.80,381.60 L128.05,381.60 L128.30,381.60 L128.55,381.60 L128.80,381.60 L129.05,381.60 L129.30,381.60 L129.55,381.60 L129.80,381.60 L130.05,381.60 L130.30,381.60 L130.55,381.60 L130.80,381.60 L131.05,381.60 L131.30,381.60 L131.55,381.60 L131.80,381.60 L132.05,381.60 L132.30,381.60 L132.55,381.60 L132.80,381.60 L133.05,381.60 L133.30,381.60 L133.55,381.60 L133.80,381.60 L134.05,381.60 L134.30,381.60 L134.55,381.60 L134.80,381.60 L135.05,381.60 L135.30,381.60 L135.55,381.60 L135.80,381.60 L136.05,381.60 L136.30,381.60 L136.55,381.60 L136.80,381.60 L137.05,381.60 L137.30,381.60 L137.55,381.60 L137.80,381.60 L138.05,381.60 L138.30,381.60 L138.55,381.60 L138.80,381.60 L139.05,381.60 L139.30,381.60 L139.55,381.60 L139.80,381.60 L140.05,381.60 L140.30,381.60 L140.55,381.60 L140.80,381.60 L141.05,381.60 L141.30,381.60 L141.55,381.60 L141.80,381.60 L142.05,381.60 L142.30,381.60 L142.55,381.60 L142.80,381.60 L143.05,381.60 L143.30,381.60 L143.55,381.60 L143.80,381.60 L144.05,381.60 L144.30,381.60 L144.55,381.60 L144.80,381.60 L145.05,381.60 L145.30,381.60 L145.55,381.60 L145.80,381.60 L146.05,381.59 L146.30,381.59 L146.55,381.58 L146.80,381.57 L147.05,381.55 L147.30,381.52 L147.55,381.49 L147.80,381.44 L148.05,381.37 L148.30,381.28 L148.55,381.18 L148.80,381.05 L149.05,380.91 L149.30,380.76 L149.55,380.60 L149.80,380.44 L150.05,380.29 L150.30,380.17 L150.55,380.07 L150.80,380.01 L151.05,380.00 L151.30,380.03 L151.55,380.10 L151.80,380.21 L152.05,380.35 L152.30,380.50 L152.55,380.66 L152.80,380.82 L153.05,380.97 L153.30,381.11 L153.55,381.22 L153.80,381.32 L154.05,381.40 L154.30,381.46 L154.55,381.50 L154.80,381.54 L155.05,381.56 L155.30,381.57 L155.55,381.58 L155.80,381.59 L156.05,381.59 L156.30,381.60 L156.55,381.60 L156.80,381.60 L157.05,381.60 L157.30,381.60 L157.55,381.60 L157.80,381.60 L158.05,381.60 L158.30,381.60 L158.55,381.60 L158.80,381.60 L159.05,381.60 L159.30,381.60 L159.55,381.60 L159.80,381.60 L160.05,381.60 L160.30,381.60 L160.55,381.60 L160.80,381.60 L161.05,381.60 L161.30,381.60 L161.55,381.60 L161.80,381.60 L162.05,381.60 L162.30,381.60 L162.55,381.60 L162.80,381.60 L163.05,381.60 L163.30,381.60 L163.55,381.60 L163.80,381.60 L164.05,381.60 L164.30,381.60 L164.55,381.60 L164.80,381.60 L165.05,381.60 L165.30,381.60 L165.55,381.60 L165.80,381.59 L166.05,381.59 L166.30,381.58 L166.55,381.56 L166.80,381.54 L167.05,381.50 L167.30,381.44 L167.55,381.35 L167.80,381.24 L168.05,381.09 L168.30,380.90 L168.55,380.67 L168.80,380.42 L169.05,380.15 L169.30,379.88 L169.55,379.64 L169.80,379.44 L170.05,379.31 L170.30,379.24 L170.55,379.25 L170.80,379.32 L171.05,379.43 L171.30,379.56 L171.55,379.68 L171.80,379.75 L172.05,379.77 L172.30,379.70 L172.55,379.55 L172.80,379.31 L173.05,379.01 L173.30,378.66 L173.55,378.29 L173.80,377.95 L174.05,377.65 L174.30,377.43 L174.55,377.31 L174.80,377.30 L175.05,377.41 L175.30,377.63 L175.55,377.94 L175.80,378.31 L176.05,378.73 L176.30,379.17 L176.55,379.59 L176.80,379.99 L177.05,380.34 L177.30,380.64 L177.55,380.89 L177.80,381.09 L178.05,381.24 L178.30,381.35 L178.55,381.43 L178.80,381.48 L179.05,381.50 L179.30,381.50 L179.55,381.47 L179.80,381.42 L180.05,381.33 L180.30,381.18 L180.55,380.96 L180.80,380.65 L181.05,380.20 L181.30,379.59 L181.55,378.76 L181.80,377.67 L182.05,376.26 L182.30,374.48 L182.55,372.29 L182.80,369.66 L183.05,366.58 L183.30,363.07 L183.55,359.17 L183.80,354.97 L184.05,350.58 L184.30,346.17 L184.55,341.90 L184.80,337.96 L185.05,334.55 L185.30,331.84 L185.55,329.99 L185.80,329.08 L186.05,329.18 L186.30,330.28 L186.55,332.32 L186.80,335.18 L187.05,338.71 L187.30,342.73 L187.55,347.04 L187.80,351.47 L188.05,355.83 L188.30,359.98 L188.55,363.80 L188.80,367.23 L189.05,370.22 L189.30,372.76 L189.55,374.87 L189.80,376.57 L190.05,377.91 L190.30,378.95 L190.55,379.73 L190.80,380.31 L191.05,380.72 L191.30,381.02 L191.55,381.22 L191.80,381.36 L192.05,381.45 L192.30,381.51 L192.55,381.54 L192.80,381.57 L193.05,381.58 L193.30,381.59 L193.55,381.59 L193.80,381.60 L194.05,381.60 L194.30,381.60 L194.55,381.60 L194.80,381.60 L195.05,381.60 L195.30,381.60 L195.55,381.60 L195.80,381.60 L196.05,381.60 L196.30,381.60 L196.55,381.60 L196.80,381.60 L197.05,381.60 L197.30,381.60 L197.55,381.60 L197.80,381.60 L198.05,381.60 L198.30,381.60 L198.55,381.60 L198.80,381.60 L199.05,381.60 L199.30,381.60 L199.55,381.60 L199.80,381.60 L200.05,381.60 L200.30,381.60 L200.55,381.60 L200.80,381.60 L201.05,381.59 L201.30,381.59 L201.55,381.58 L201.80,381.57 L202.05,381.55 L202.30,381.52 L202.55,381.47 L202.80,381.40 L203.05,381.31 L203.30,381.19 L203.55,381.04 L203.80,380.85 L204.05,380.64 L204.30,380.40 L204.55,380.16 L204.80,379.91 L205.05,379.69 L205.30,379.50 L205.55,379.37 L205.80,379.30 L206.05,379.31 L206.30,379.38 L206.55,379.51 L206.80,379.69 L207.05,379.89 L207.30,380.09 L207.55,380.28 L207.80,380.41 L208.05,380.47 L208.30,380.43 L208.55,380.27 L208.80,379.95 L209.05,379.46 L209.30,378.75 L209.55,377.78 L209.80,376.52 L210.05,374.94 L210.30,373.02 L210.55,370.73 L210.80,368.09 L211.05,365.12 L211.30,361.89 L211.55,358.47 L211.80,354.97 L212.05,351.53 L212.30,348.29 L212.55,345.41 L212.80,343.03 L213.05,341.28 L213.30,340.26 L213.55,340.02 L213.80,340.57 L214.05,341.90 L214.30,343.91 L214.55,346.51 L214.80,349.55 L215.05,352.89 L215.30,356.37 L215.55,359.85 L215.80,363.21 L216.05,366.35 L216.30,369.19 L216.55,371.70 L216.80,373.85 L217.05,375.65 L217.30,377.12 L217.55,378.29 L217.80,379.20 L218.05,379.90 L218.30,380.41 L218.55,380.79 L218.80,381.05 L219.05,381.24 L219.30,381.37 L219.55,381.45 L219.80,381.51 L220.05,381.54 L220.30,381.57 L220.55,381.58 L220.80,381.59 L221.05,381.59 L221.30,381.60 L221.55,381.60 L221.80,381.60 L222.05,381.60 L222.30,381.60 L222.55,381.60 L222.80,381.60 L223.05,381.60 L223.30,381.60 L223.55,381.60 L223.80,381.60 L224.05,381.60 L224.30,381.60 L224.55,381.60 L224.80,381.60 L225.05,381.60 L225.30,381.60 L225.55,381.60 L225.80,381.60 L226.05,381.60 L226.30,381.60 L226.55,381.60 L226.80,381.60 L227.05,381.60 L227.30,381.60 L227.55,381.60 L227.80,381.60 L228.05,381.60 L228.30,381.60 L228.55,381.60 L228.80,381.60 L229.05,381.60 L229.30,381.60 L229.55,381.60 L229.80,381.60 L230.05,381.60 L230.30,381.60 L230.55,381.60 L230.80,381.60 L231.05,381.60 L231.30,381.60 L231.55,381.60 L231.80,381.60 L232.05,381.60 L232.30,381.60 L232.55,381.60 L232.80,381.60 L233.05,381.59 L233.30,381.58 L233.55,381.56 L233.80,381.53 L234.05,381.47 L234.30,381.38 L234.55,381.24 L234.80,381.03 L235.05,380.74 L235.30,380.33 L235.55,379.79 L235.80,379.12 L236.05,378.33 L236.30,377.44 L236.55,376.50 L236.80,375.57 L237.05,374.73 L237.30,374.05 L237.55,373.58 L237.80,373.38 L238.05,373.42 L238.30,373.68 L238.55,374.08 L238.80,374.51 L239.05,374.87 L239.30,375.04 L239.55,374.94 L239.80,374.55 L240.05,373.88 L240.30,373.01 L240.55,372.06 L240.80,371.17 L241.05,370.48 L241.30,370.11 L241.55,370.10 L241.80,370.45 L242.05,371.06 L242.30,371.80 L242.55,372.50 L242.80,373.00 L243.05,373.15 L243.30,372.87 L243.55,372.13 L243.80,370.96 L244.05,369.46 L244.30,367.77 L244.55,366.07 L244.80,364.54 L245.05,363.35 L245.30,362.64 L245.55,362.48 L245.80,362.92 L246.05,363.91 L246.30,365.37 L246.55,367.18 L246.80,369.19 L247.05,371.25 L247.30,373.24 L247.55,375.06 L247.80,376.65 L248.05,377.96 L248.30,379.02 L248.55,379.82 L248.80,380.41 L249.05,380.83 L249.30,381.12 L249.55,381.31 L249.80,381.43 L250.05,381.50 L250.30,381.55 L250.55,381.57 L250.80,381.59 L251.05,381.59 L251.30,381.60 L251.55,381.60 L251.80,381.60 L252.05,381.60 L252.30,381.60 L252.55,381.60 L252.80,381.60 L253.05,381.60 L253.30,381.60 L253.55,381.60 L253.80,381.60 L254.05,381.60 L254.30,381.60 L254.55,381.60 L254.80,381.60 L255.05,381.60 L255.30,381.60 L255.55,381.60 L255.80,381.60 L256.05,381.60 L256.30,381.60 L256.55,381.60 L256.80,381.60 L257.05,381.60 L257.30,381.60 L257.55,381.60 L257.80,381.60 L258.05,381.60 L258.30,381.60 L258.55,381.60 L258.80,381.60 L259.05,381.60 L259.30,381.60 L259.55,381.60 L259.80,381.60 L260.05,381.60 L260.30,381.60 L260.55,381.60 L260.80,381.60 L261.05,381.60 L261.30,381.60 L261.55,381.60 L261.80,381.60 L262.05,381.60 L262.30,381.60 L262.55,381.60 L262.80,381.60 L263.05,381.60 L263.30,381.60 L263.55,381.60 L263.80,381.60 L264.05,381.60 L264.30,381.60 L264.55,381.60 L264.80,381.60 L265.05,381.60 L265.30,381.60 L265.55,381.60 L265.80,381.59 L266.05,381.59 L266.30,381.57 L266.55,381.55 L266.80,381.51 L267.05,381.44 L267.30,381.32 L267.55,381.13 L267.80,380.84 L268.05,380.42 L268.30,379.83 L268.55,379.01 L268.80,377.93 L269.05,376.56 L269.30,374.91 L269.55,373.00 L269.80,370.88 L270.05,368.66 L270.30,366.47 L270.55,364.47 L270.80,362.81 L271.05,361.63 L271.30,361.05 L271.55,361.12 L271.80,361.82 L272.05,363.10 L272.30,364.85 L272.55,366.90 L272.80,369.10 L273.05,371.31 L273.30,373.40 L273.55,375.26 L273.80,376.85 L274.05,378.14 L274.30,379.14 L274.55,379.86 L274.80,380.34 L275.05,380.60 L275.30,380.65 L275.55,380.49 L275.80,380.12 L276.05,379.50 L276.30,378.63 L276.55,377.48 L276.80,376.05 L277.05,374.40 L277.30,372.58 L277.55,370.71 L277.80,368.93 L278.05,367.39 L278.30,366.24 L278.55,365.61 L278.80,365.55 L279.05,366.07 L279.30,367.13 L279.55,368.60 L279.80,370.34 L280.05,372.21 L280.30,374.05 L280.55,375.75 L280.80,377.23 L281.05,378.46 L281.30,379.42 L281.55,380.14 L281.80,380.66 L282.05,381.01 L282.30,381.24 L282.55,381.37 L282.80,381.44 L283.05,381.47 L283.30,381.45 L283.55,381.41 L283.80,381.32 L284.05,381.19 L284.30,381.01 L284.55,380.77 L284.80,380.44 L285.05,380.02 L285.30,379.49 L285.55,378.85 L285.80,378.09 L286.05,377.21 L286.30,376.23 L286.55,375.18 L286.80,374.08 L287.05,372.98 L287.30,371.93 L287.55,370.99 L287.80,370.21 L288.05,369.63 L288.30,369.29 L288.55,369.20 L288.80,369.28 L289.05,369.45 L289.30,369.72 L289.55,370.09 L289.80,370.54 L290.05,371.06 L290.30,371.64 L290.55,372.27 L290.80,372.93 L291.05,373.61 L291.30,374.30 L291.55,374.99 L291.80,375.66 L292.05,376.31 L292.30,376.93 L292.55,377.50 L292.80,378.04 L293.05,378.53 L293.30,378.96 L293.55,379.34 L293.80,379.67 L294.05,379.93 L294.30,380.13 L294.55,380.26 L294.80,380.31 L295.05,380.29 L295.30,380.20 L295.55,380.04 L295.80,379.82 L296.05,379.57 L296.30,379.31 L296.55,379.07 L296.80,378.88 L297.05,378.76 L297.30,378.73 L297.55,378.80 L297.80,378.96 L298.05,379.20 L298.30,379.50 L298.55,379.82 L298.80,380.15 L299.05,380.46 L299.30,380.73 L299.55,380.96 L299.80,381.14 L300.05,381.26 L300.30,381.34 L300.55,381.37 L300.80,381.35 L301.05,381.28 L301.30,381.16 L301.55,380.98 L301.80,380.73 L302.05,380.43 L302.30,380.07 L302.55,379.67 L302.80,379.25 L303.05,378.84 L303.30,378.49 L303.55,378.21 L303.80,378.04 L304.05,378.00 L304.30,378.09 L304.55,378.31 L304.80,378.62 L305.05,379.00 L305.30,379.42 L305.55,379.83 L305.80,380.22 L306.05,380.56 L306.30,380.85 L306.55,381.07 L306.80,381.25 L307.05,381.37 L307.30,381.46 L307.55,381.51 L307.80,381.55 L308.05,381.57 L308.30,381.58 L308.55,381.59 L308.80,381.60 L309.05,381.60 L309.30,381.60 L309.55,381.60 L309.80,381.60 L310.05,381.59 L310.30,381.59 L310.55,381.58 L310.80,381.57 L311.05,381.54 L311.30,381.51 L311.55,381.45 L311.80,381.37 L312.05,381.26 L312.30,381.12 L312.55,380.93 L312.80,380.70 L313.05,380.42 L313.30,380.12 L313.55,379.79 L313.80,379.45 L314.05,379.14 L314.30,378.86 L314.55,378.66 L314.80,378.53 L315.05,378.50 L315.30,378.57 L315.55,378.73 L315.80,378.97 L316.05,379.26 L316.30,379.59 L316.55,379.92 L316.80,380.24 L317.05,380.54 L317.30,380.80 L317.55,381.01 L317.80,381.18 L318.05,381.31 L318.30,381.40 L318.55,381.46 L318.80,381.51 L319.05,381.53 L319.30,381.53 L319.55,381.52 L319.80,381.50 L320.05,381.46 L320.30,381.40 L320.55,381.33 L320.80,381.22 L321.05,381.08 L321.30,380.91 L321.55,380.69 L321.80,380.42 L322.05,380.10 L322.30,379.72 L322.55,379.29 L322.80,378.82 L323.05,378.30 L323.30,377.75 L323.55,377.18 L323.80,376.62 L324.05,376.08 L324.30,375.60 L324.55,375.18 L324.80,374.85 L325.05,374.62 L325.30,374.51 L325.55,374.52 L325.80,374.66 L326.05,374.90 L326.30,375.25 L326.55,375.69 L326.80,376.18 L327.05,376.72 L327.30,377.28 L327.55,377.84 L327.80,378.37 L328.05,378.86 L328.30,379.29 L328.55,379.65 L328.80,379.93 L329.05,380.10 L329.30,380.15 L329.55,380.05 L329.80,379.77 L330.05,379.27 L330.30,378.49 L330.55,377.37 L330.80,375.82 L331.05,373.75 L331.30,371.06 L331.55,367.67 L331.80,363.47 L332.05,358.39 L332.30,352.39 L332.55,345.46 L332.80,337.66 L333.05,329.08 L333.30,319.91 L333.55,310.38 L333.80,300.78 L334.05,291.47 L334.30,282.81 L334.55,275.17 L334.80,268.91 L335.05,264.34 L335.30,261.67 L335.55,261.02 L335.80,261.59 L336.05,262.96 L336.30,265.10 L336.55,267.98 L336.80,271.54 L337.05,275.70 L337.30,280.39 L337.55,285.53 L337.80,291.02 L338.05,296.77 L338.30,302.69 L338.55,308.69 L338.80,314.69 L339.05,320.61 L339.30,326.39 L339.55,331.95 L339.80,337.25 L340.05,342.25 L340.30,346.93 L340.55,351.25 L340.80,355.22 L341.05,358.82 L341.30,362.06 L341.55,364.95 L341.80,367.51 L342.05,369.76 L342.30,371.72 L342.55,373.41 L342.80,374.85 L343.05,376.08 L343.30,377.11 L343.55,377.98 L343.80,378.70 L344.05,379.29 L344.30,379.77 L344.55,380.16 L344.80,380.48 L345.05,380.73 L345.30,380.93 L345.55,381.09 L345.80,381.21 L346.05,381.31 L346.30,381.38 L346.55,381.44 L346.80,381.48 L347.05,381.51 L347.30,381.54 L347.55,381.55 L347.80,381.57 L348.05,381.58 L348.30,381.58 L348.55,381.59 L348.80,381.59 L349.05,381.59 L349.30,381.60 L349.55,381.60 L349.80,381.60 L350.05,381.60 L350.30,381.60 L350.55,381.60 L350.80,381.60 L351.05,381.60 L351.30,381.60 L351.55,381.60 L351.80,381.60 L352.05,381.60 L352.30,381.60 L352.55,381.60 L352.80,381.59 L353.05,381.59 L353.30,381.57 L353.55,381.55 L353.80,381.51 L354.05,381.44 L354.30,381.33 L354.55,381.16 L354.80,380.89 L355.05,380.50 L355.30,379.94 L355.55,379.16 L355.80,378.10 L356.05,376.73 L356.30,375.01 L356.55,372.92 L356.80,370.49 L357.05,367.76 L357.30,364.84 L357.55,361.86 L357.80,358.98 L358.05,356.39 L358.30,354.27 L358.55,352.78 L358.80,352.04 L359.05,352.10 L359.30,352.95 L359.55,354.52 L359.80,356.66 L360.05,359.18 L360.30,361.90 L360.55,364.59 L360.80,367.05 L361.05,369.10 L361.30,370.61 L361.55,371.46 L361.80,371.56 L362.05,370.84 L362.30,369.26 L362.55,366.80 L362.80,363.44 L363.05,359.21 L363.30,354.16 L363.55,348.37 L363.80,341.99 L364.05,335.20 L364.30,328.23 L364.55,321.36 L364.80,314.89 L365.05,309.12 L365.30,304.36 L365.55,300.86 L365.80,298.81 L366.05,298.33 L366.30,299.45 L366.55,302.10 L366.80,306.13 L367.05,311.33 L367.30,317.42 L367.55,324.11 L367.80,331.08 L368.05,338.05 L368.30,344.78 L368.55,351.06 L368.80,356.76 L369.05,361.78 L369.30,366.08 L369.55,369.69 L369.80,372.63 L370.05,374.97 L370.30,376.80 L370.55,378.19 L370.80,379.22 L371.05,379.97 L371.30,380.51 L371.55,380.88 L371.80,381.14 L372.05,381.31 L372.30,381.42 L372.55,381.48 L372.80,381.53 L373.05,381.55 L373.30,381.55 L373.55,381.54 L373.80,381.51 L374.05,381.45 L374.30,381.37 L374.55,381.24 L374.80,381.05 L375.05,380.78 L375.30,380.41 L375.55,379.92 L375.80,379.30 L376.05,378.54 L376.30,377.64 L376.55,376.62 L376.80,375.50 L377.05,374.33 L377.30,373.18 L377.55,372.11 L377.80,371.20 L378.05,370.51 L378.30,370.10 L378.55,370.01 L378.80,370.23 L379.05,370.75 L379.30,371.54 L379.55,372.52 L379.80,373.63 L380.05,374.80 L380.30,375.95 L380.55,377.03 L380.80,378.01 L381.05,378.84 L381.30,379.52 L381.55,380.05 L381.80,380.44 L382.05,380.69 L382.30,380.81 L382.55,380.82 L382.80,380.72 L383.05,380.51 L383.30,380.21 L383.55,379.81 L383.80,379.35 L384.05,378.82 L384.30,378.28 L384.55,377.75 L384.80,377.27 L385.05,376.88 L385.30,376.62 L385.55,376.50 L385.80,376.55 L386.05,376.76 L386.30,377.10 L386.55,377.55 L386.80,378.07 L387.05,378.62 L387.30,379.16 L387.55,379.67 L387.80,380.12 L388.05,380.50 L388.30,380.81 L388.55,381.05 L388.80,381.23 L389.05,381.36 L389.30,381.44 L389.55,381.50 L389.80,381.54 L390.05,381.56 L390.30,381.58 L390.55,381.58 L390.80,381.57 L391.05,381.56 L391.30,381.53 L391.55,381.48 L391.80,381.41 L392.05,381.29 L392.30,381.13 L392.55,380.89 L392.80,380.57 L393.05,380.15 L393.30,379.63 L393.55,379.00 L393.80,378.27 L394.05,377.48 L394.30,376.65 L394.55,375.85 L394.80,375.12 L395.05,374.52 L395.30,374.10 L395.55,373.90 L395.80,373.92 L396.05,374.14 L396.30,374.54 L396.55,375.06 L396.80,375.63 L397.05,376.17 L397.30,376.62 L397.55,376.90 L397.80,376.98 L398.05,376.81 L398.30,376.37 L398.55,375.65 L398.80,374.65 L399.05,373.40 L399.30,371.90 L399.55,370.19 L399.80,368.32 L400.05,366.34 L400.30,364.31 L400.55,362.30 L400.80,360.38 L401.05,358.63 L401.30,357.11 L401.55,355.89 L401.80,355.04 L402.05,354.58 L402.30,354.51 L402.55,354.68 L402.80,355.04 L403.05,355.57 L403.30,356.26 L403.55,357.11 L403.80,358.09 L404.05,359.19 L404.30,360.39 L404.55,361.66 L404.80,362.98 L405.05,364.34 L405.30,365.71 L405.55,367.07 L405.80,368.41 L406.05,369.71 L406.30,370.95 L406.55,372.13 L406.80,373.24 L407.05,374.26 L407.30,375.21 L407.55,376.07 L407.80,376.85 L408.05,377.55 L408.30,378.17 L408.55,378.71 L408.80,379.18 L409.05,379.58 L409.30,379.92 L409.55,380.19 L409.80,380.40 L410.05,380.55 L410.30,380.64 L410.55,380.65 L410.80,380.60 L411.05,380.47 L411.30,380.26 L411.55,379.99 L411.80,379.64 L412.05,379.26 L412.30,378.84 L412.55,378.43 L412.80,378.06 L413.05,377.77 L413.30,377.56 L413.55,377.48 L413.80,377.53 L414.05,377.70 L414.30,377.97 L414.55,378.34 L414.80,378.76 L415.05,379.20 L415.30,379.63 L415.55,380.04 L415.80,380.40 L416.05,380.70 L416.30,380.93 L416.55,381.10 L416.80,381.20 L417.05,381.24 L417.30,381.21 L417.55,381.11 L417.80,380.94 L418.05,380.69 L418.30,380.38 L418.55,380.00 L418.80,379.59 L419.05,379.19 L419.30,378.82 L419.55,378.52 L419.80,378.35 L420.05,378.30 L420.30,378.40 L420.55,378.63 L420.80,378.96 L421.05,379.35 L421.30,379.76 L421.55,380.17 L421.80,380.53 L422.05,380.83 L422.30,381.07 L422.55,381.25 L422.80,381.38 L423.05,381.47 L423.30,381.52 L423.55,381.56 L423.80,381.58 L424.05,381.59 L424.30,381.59 L424.55,381.60 L424.80,381.60 L425.05,381.60 L425.30,381.60 L425.55,381.60 L425.80,381.60 L426.05,381.60 L426.30,381.60 L426.55,381.60 L426.80,381.60 L427.05,381.60 L427.30,381.60 L427.55,381.60 L427.80,381.60 L428.05,381.60 L428.30,381.59 L428.55,381.59 L428.80,381.57 L429.05,381.55 L429.30,381.51 L429.55,381.45 L429.80,381.35 L430.05,381.21 L430.30,381.02 L430.55,380.77 L430.80,380.46 L431.05,380.11 L431.30,379.72 L431.55,379.33 L431.80,378.98 L432.05,378.71 L432.30,378.54 L432.55,378.49 L432.80,378.58 L433.05,378.78 L433.30,379.07 L433.55,379.41 L433.80,379.75 L434.05,380.06 L434.30,380.30 L434.55,380.46 L434.80,380.50 L435.05,380.44 L435.30,380.26 L435.55,379.97 L435.80,379.58 L436.05,379.11 L436.30,378.56 L436.55,377.96 L436.80,377.34 L437.05,376.73 L437.30,376.17 L437.55,375.69 L437.80,375.31 L438.05,375.08 L438.30,375.00 L438.55,375.08 L438.80,375.31 L439.05,375.69 L439.30,376.17 L439.55,376.74 L439.80,377.35 L440.05,377.97 L440.30,378.58 L440.55,379.14 L440.80,379.65 L441.05,380.09 L441.30,380.46 L441.55,380.76 L441.80,380.99 L442.05,381.17 L442.30,381.30 L442.55,381.39 L442.80,381.45 L443.05,381.49 L443.30,381.50 L443.55,381.49 L443.80,381.46 L444.05,381.41 L444.30,381.32 L444.55,381.19 L444.80,381.01 L445.05,380.76 L445.30,380.41 L445.55,379.94 L445.80,379.32 L446.05,378.51 L446.30,377.46 L446.55,376.15 L446.80,374.51 L447.05,372.52 L447.30,370.13 L447.55,367.31 L447.80,364.05 L448.05,360.34 L448.30,356.22 L448.55,351.73 L448.80,346.94 L449.05,341.94 L449.30,336.87 L449.55,331.85 L449.80,327.05 L450.05,322.63 L450.30,318.74 L450.55,315.55 L450.80,313.16 L451.05,311.69 L451.30,311.18 L451.55,311.67 L451.80,313.13 L452.05,315.49 L452.30,318.66 L452.55,322.50 L452.80,326.87 L453.05,331.59 L453.30,336.51 L453.55,341.45 L453.80,346.27 L454.05,350.84 L454.30,355.06 L454.55,358.84 L454.80,362.13 L455.05,364.91 L455.30,367.18 L455.55,368.95 L455.80,370.25 L456.05,371.14 L456.30,371.68 L456.55,371.92 L456.80,371.93 L457.05,371.79 L457.30,371.56 L457.55,371.29 L457.80,371.04 L458.05,370.86 L458.30,370.78 L458.55,370.82 L458.80,371.00 L459.05,371.32 L459.30,371.77 L459.55,372.33 L459.80,373.00 L460.05,373.74 L460.30,374.52 L460.55,375.33 L460.80,376.13 L461.05,376.90 L461.30,377.62 L461.55,378.29 L461.80,378.88 L462.05,379.41 L462.30,379.86 L462.55,380.23 L462.80,380.55 L463.05,380.80 L463.30,381.00 L463.55,381.15 L463.80,381.27 L464.05,381.35 L464.30,381.40 L464.55,381.43 L464.80,381.44 L465.05,381.42 L465.30,381.37 L465.55,381.30 L465.80,381.19 L466.05,381.03 L466.30,380.81 L466.55,380.51 L466.80,380.12 L467.05,379.61 L467.30,378.96 L467.55,378.13 L467.80,377.10 L468.05,375.82 L468.30,374.27 L468.55,372.42 L468.80,370.23 L469.05,367.68 L469.30,364.76 L469.55,361.47 L469.80,357.82 L470.05,353.84 L470.30,349.58 L470.55,345.09 L470.80,340.47 L471.05,335.80 L471.30,331.20 L471.55,326.79 L471.80,322.69 L472.05,319.03 L472.30,315.93 L472.55,313.48 L472.80,311.76 L473.05,310.85 L473.30,310.77 L473.55,311.52 L473.80,313.07 L474.05,315.38 L474.30,318.36 L474.55,321.92 L474.80,325.94 L475.05,330.29 L475.30,334.87 L475.55,339.53 L475.80,344.17 L476.05,348.70 L476.30,353.01 L476.55,357.05 L476.80,360.77 L477.05,364.12 L477.30,367.11 L477.55,369.73 L477.80,371.98 L478.05,373.89 L478.30,375.49 L478.55,376.81 L478.80,377.87 L479.05,378.72 L479.30,379.38 L479.55,379.88 L479.80,380.25 L480.05,380.52 L480.30,380.70 L480.55,380.80 L480.80,380.85 L481.05,380.85 L481.30,380.81 L481.55,380.74 L481.80,380.64 L482.05,380.52 L482.30,380.37 L482.55,380.21 L482.80,380.04 L483.05,379.86 L483.30,379.67 L483.55,379.48 L483.80,379.29 L484.05,379.11 L484.30,378.93 L484.55,378.77 L484.80,378.63 L485.05,378.51 L485.30,378.42 L485.55,378.35 L485.80,378.31 L486.05,378.30 L486.30,378.32 L486.55,378.37 L486.80,378.45 L487.05,378.56 L487.30,378.69 L487.55,378.84 L487.80,379.00 L488.05,379.18 L488.30,379.37 L488.55,379.56 L488.80,379.75 L489.05,379.94 L489.30,380.13 L489.55,380.30 L489.80,380.47 L490.05,380.62 L490.30,380.76 L490.55,380.89 L490.80,381.00 L491.05,381.10 L491.30,381.19 L491.55,381.26 L491.80,381.33 L492.05,381.38 L492.30,381.42 L492.55,381.46 L492.80,381.49 L493.05,381.52 L493.30,381.54 L493.55,381.55 L493.80,381.56 L494.05,381.57 L494.30,381.58 L494.55,381.59 L494.80,381.59 L495.05,381.59 L495.30,381.59 L495.55,381.60 L495.80,381.60 L496.05,381.60 L496.30,381.60" fill="none" stroke="#151515" stroke-width="0.55"/>
<line x1="111.79" y1="378.1" x2="111.79" y2="381.6" stroke="#d83030" stroke-width="0.5"/>
<line x1="123.01" y1="378.1" x2="123.01" y2="381.6" stroke="#d83030" stroke-width="0.5"/>
<line x1="165.88" y1="378.1" x2="165.88" y2="381.6" stroke="#d83030" stroke-width="0.5"/>
<line x1="174.72" y1="378.1" x2="174.72" y2="381.6" stroke="#d83030" stroke-width="0.5"/>
<line x1="169.60" y1="378.1" x2="169.60" y2="381.6" stroke="#d83030" stroke-width="0.5"/>
<line x1="179.80" y1="378.1" x2="179.80" y2="381.6" stroke="#d83030" stroke-width="0.5"/>
<line x1="179.78" y1="378.1" x2="179.78" y2="381.6" stroke="#d83030" stroke-width="0.5"/>
<line x1="192.02" y1="378.1" x2="192.02" y2="381.6" stroke="#d83030" stroke-width="0.5"/>
<line x1="201.14" y1="378.1" x2="201.14" y2="381.6" stroke="#d83030" stroke-width="0.5"/>
<line x1="210.66" y1="378.1" x2="210.66" y2="381.6" stroke="#d83030" stroke-width="0.5"/>
<line x1="207.38" y1="378.1" x2="207.38" y2="381.6" stroke="#d83030" stroke-width="0.5"/>
<line x1="219.62" y1="378.1" x2="219.62" y2="381.6" stroke="#d83030" stroke-width="0.5"/>
<line x1="233.38" y1="378.1" x2="233.38" y2="381.6" stroke="#d83030" stroke-width="0.5"/>
<line x1="242.22" y1="378.1" x2="242.22" y2="381.6" stroke="#d83030" stroke-width="0.5"/>
<line x1="237.32" y1="378.1" x2="237.32" y2="381.6" stroke="#d83030" stroke-width="0.5"/>
<line x1="245.48" y1="378.1" x2="245.48" y2="381.6" stroke="#d83030" stroke-width="0.5"/>
<line x1="240.74" y1="378.1" x2="240.74" y2="381.6" stroke="#d83030" stroke-width="0.5"/>
<line x1="250.26" y1="378.1" x2="250.26" y2="381.6" stroke="#d83030" stroke-width="0.5"/>
<line x1="266.64" y1="378.1" x2="266.64" y2="381.6" stroke="#d83030" stroke-width="0.5"/>
<line x1="276.16" y1="378.1" x2="276.16" y2="381.6" stroke="#d83030" stroke-width="0.5"/>
<line x1="274.28" y1="378.1" x2="274.28" y2="381.6" stroke="#d83030" stroke-width="0.5"/>
<line x1="283.12" y1="378.1" x2="283.12" y2="381.6" stroke="#d83030" stroke-width="0.5"/>
<line x1="282.72" y1="378.1" x2="282.72" y2="381.6" stroke="#d83030" stroke-width="0.5"/>
<line x1="297.75" y1="378.1" x2="297.75" y2="381.6" stroke="#d83030" stroke-width="0.5"/>
<line x1="292.88" y1="378.1" x2="292.88" y2="381.6" stroke="#d83030" stroke-width="0.5"/>
<line x1="301.72" y1="378.1" x2="301.72" y2="381.6" stroke="#d83030" stroke-width="0.5"/>
<line x1="299.58" y1="378.1" x2="299.58" y2="381.6" stroke="#d83030" stroke-width="0.5"/>
<line x1="308.42" y1="378.1" x2="308.42" y2="381.6" stroke="#d83030" stroke-width="0.5"/>
<line x1="310.24" y1="378.1" x2="310.24" y2="381.6" stroke="#d83030" stroke-width="0.5"/>
<line x1="319.76" y1="378.1" x2="319.76" y2="381.6" stroke="#d83030" stroke-width="0.5"/>
<line x1="318.94" y1="378.1" x2="318.94" y2="381.6" stroke="#d83030" stroke-width="0.5"/>
<line x1="331.86" y1="378.1" x2="331.86" y2="381.6" stroke="#d83030" stroke-width="0.5"/>
<line x1="329.04" y1="378.1" x2="329.04" y2="381.6" stroke="#d83030" stroke-width="0.5"/>
<line x1="345.84" y1="378.1" x2="345.84" y2="381.6" stroke="#d83030" stroke-width="0.5"/>
<line x1="353.80" y1="378.1" x2="353.80" y2="381.6" stroke="#d83030" stroke-width="0.5"/>
<line x1="364.00" y1="378.1" x2="364.00" y2="381.6" stroke="#d83030" stroke-width="0.5"/>
<line x1="359.88" y1="378.1" x2="359.88" y2="381.6" stroke="#d83030" stroke-width="0.5"/>
<line x1="372.12" y1="378.1" x2="372.12" y2="381.6" stroke="#d83030" stroke-width="0.5"/>
<line x1="373.40" y1="378.1" x2="373.40" y2="381.6" stroke="#d83030" stroke-width="0.5"/>
<line x1="383.60" y1="378.1" x2="383.60" y2="381.6" stroke="#d83030" stroke-width="0.5"/>
<line x1="380.84" y1="378.1" x2="380.84" y2="381.6" stroke="#d83030" stroke-width="0.5"/>
<line x1="390.36" y1="378.1" x2="390.36" y2="381.6" stroke="#d83030" stroke-width="0.5"/>
<line x1="390.84" y1="378.1" x2="390.84" y2="381.6" stroke="#d83030" stroke-width="0.5"/>
<line x1="400.36" y1="378.1" x2="400.36" y2="381.6" stroke="#d83030" stroke-width="0.5"/>
<line x1="395.40" y1="378.1" x2="395.40" y2="381.6" stroke="#d83030" stroke-width="0.5"/>
<line x1="412.40" y1="378.1" x2="412.40" y2="381.6" stroke="#d83030" stroke-width="0.5"/>
<line x1="408.84" y1="378.1" x2="408.84" y2="381.6" stroke="#d83030" stroke-width="0.5"/>
<line x1="418.36" y1="378.1" x2="418.36" y2="381.6" stroke="#d83030" stroke-width="0.5"/>
<line x1="432.86" y1="378.1" x2="432.86" y2="381.6" stroke="#d83030" stroke-width="0.5"/>
<line x1="443.74" y1="378.1" x2="443.74" y2="381.6" stroke="#d83030" stroke-width="0.5"/>
<line x1="444.16" y1="378.1" x2="444.16" y2="381.6" stroke="#d83030" stroke-width="0.5"/>
<line x1="458.44" y1="378.1" x2="458.44" y2="381.6" stroke="#d83030" stroke-width="0.5"/>
<line x1="451.70" y1="378.1" x2="451.70" y2="381.6" stroke="#d83030" stroke-width="0.5"/>
<line x1="465.30" y1="378.1" x2="465.30" y2="381.6" stroke="#d83030" stroke-width="0.5"/>
<line x1="465.38" y1="378.1" x2="465.38" y2="381.6" stroke="#d83030" stroke-width="0.5"/>
<line x1="481.02" y1="378.1" x2="481.02" y2="381.6" stroke="#d83030" stroke-width="0.5"/>
<line x1="82.8" y1="384.2" x2="496.5" y2="384.2" stroke="#222" stroke-width="1.0"/>
<line x1="82.8" y1="256" x2="82.8" y2="384.2" stroke="#222" stroke-width="1.1"/>
<line x1="83.50" y1="384.2" x2="83.50" y2="386.0" stroke="#222" stroke-width="0.6"/>
<line x1="97.38" y1="384.2" x2="97.38" y2="386.0" stroke="#222" stroke-width="0.6"/>
<line x1="111.25" y1="384.2" x2="111.25" y2="386.0" stroke="#222" stroke-width="0.6"/>
<line x1="125.12" y1="384.2" x2="125.12" y2="386.0" stroke="#222" stroke-width="0.6"/>
<line x1="139.00" y1="384.2" x2="139.00" y2="386.0" stroke="#222" stroke-width="0.6"/>
<line x1="152.88" y1="384.2" x2="152.88" y2="386.0" stroke="#222" stroke-width="0.6"/>
<line x1="166.75" y1="384.2" x2="166.75" y2="386.0" stroke="#222" stroke-width="0.6"/>
<line x1="180.62" y1="384.2" x2="180.62" y2="386.0" stroke="#222" stroke-width="0.6"/>
<line x1="194.50" y1="384.2" x2="194.50" y2="386.0" stroke="#222" stroke-width="0.6"/>
<line x1="208.38" y1="384.2" x2="208.38" y2="386.0" stroke="#222" stroke-width="0.6"/>
<line x1="222.25" y1="384.2" x2="222.25" y2="386.0" stroke="#222" stroke-width="0.6"/>
<line x1="236.12" y1="384.2" x2="236.12" y2="386.0" stroke="#222" stroke-width="0.6"/>
<line x1="250.00" y1="384.2" x2="250.00" y2="386.0" stroke="#222" stroke-width="0.6"/>
<line x1="263.88" y1="384.2" x2="263.88" y2="386.0" stroke="#222" stroke-width="0.6"/>
<line x1="277.75" y1="384.2" x2="277.75" y2="386.0" stroke="#222" stroke-width="0.6"/>
<line x1="291.62" y1="384.2" x2="291.62" y2="386.0" stroke="#222" stroke-width="0.6"/>
<line x1="305.50" y1="384.2" x2="305.50" y2="386.0" stroke="#222" stroke-width="0.6"/>
<line x1="319.38" y1="384.2" x2="319.38" y2="386.0" stroke="#222" stroke-width="0.6"/>
<line x1="333.25" y1="384.2" x2="333.25" y2="386.0" stroke="#222" stroke-width="0.6"/>
<line x1="347.12" y1="384.2" x2="347.12" y2="386.0" stroke="#222" stroke-width="0.6"/>
<line x1="361.00" y1="384.2" x2="361.00" y2="386.0" stroke="#222" stroke-width="0.6"/>
<line x1="374.88" y1="384.2" x2="374.88" y2="386.0" stroke="#222" stroke-width="0.6"/>
<line x1="388.75" y1="384.2" x2="388.75" y2="386.0" stroke="#222" stroke-width="0.6"/>
<line x1="402.62" y1="384.2" x2="402.62" y2="386.0" stroke="#222" stroke-width="0.6"/>
<line x1="416.50" y1="384.2" x2="416.50" y2="386.0" stroke="#222" stroke-width="0.6"/>
<line x1="430.38" y1="384.2" x2="430.38" y2="386.0" stroke="#222" stroke-width="0.6"/>
<line x1="444.25" y1="384.2" x2="444.25" y2="386.0" stroke="#222" stroke-width="0.6"/>
<line x1="458.12" y1="384.2" x2="458.12" y2="386.0" stroke="#222" stroke-width="0.6"/>
<line x1="472.00" y1="384.2" x2="472.00" y2="386.0" stroke="#222" stroke-width="0.6"/>
<line x1="485.88" y1="384.2" x2="485.88" y2="386.0" stroke="#222" stroke-width="0.6"/>
<line x1="81.3" y1="382.00" x2="82.8" y2="382.00" stroke="#222" stroke-width="0.5"/>
<line x1="81.3" y1="372.62" x2="82.8" y2="372.62" stroke="#222" stroke-width="0.5"/>
<line x1="81.3" y1="363.25" x2="82.8" y2="363.25" stroke="#222" stroke-width="0.5"/>
<line x1="81.3" y1="353.88" x2="82.8" y2="353.88" stroke="#222" stroke-width="0.5"/>
<line x1="81.3" y1="344.50" x2="82.8" y2="344.50" stroke="#222" stroke-width="0.5"/>
<line x1="81.3" y1="335.12" x2="82.8" y2="335.12" stroke="#222" stroke-width="0.5"/>
<line x1="81.3" y1="325.75" x2="82.8" y2="325.75" stroke="#222" stroke-width="0.5"/>
<line x1="81.3" y1="316.38" x2="82.8" y2="316.38" stroke="#222" stroke-width="0.5"/>
<line x1="81.3" y1="307.00" x2="82.8" y2="307.00" stroke="#222" stroke-width="0.5"/>
<line x1="81.3" y1="297.62" x2="82.8" y2="297.62" stroke="#222" stroke-width="0.5"/>
<line x1="81.3" y1="288.25" x2="82.8" y2="288.25" stroke="#222" stroke-width="0.5"/>
<line x1="81.3" y1="278.88" x2="82.8" y2="278.88" stroke="#222" stroke-width="0.5"/>
<line x1="81.3" y1="269.50" x2="82.8" y2="269.50" stroke="#222" stroke-width="0.5"/>
<line x1="81.3" y1="260.12" x2="82.8" y2="260.12" stroke="#222" stroke-width="0.5"/>
<line x1="79.8" y1="382.00" x2="82.8" y2="382.00" stroke="#222" stroke-width="0.6"/>
<text x="79.3" y="384.3" font-size="6.6" text-anchor="end" fill="#444" font-family="'DejaVu Sans', 'Liberation Sans', sans-serif">0</text>
<line x1="79.8" y1="344.60" x2="82.8" y2="344.60" stroke="#222" stroke-width="0.6"/>
<text x="79.3" y="346.9" font-size="6.6" text-anchor="end" fill="#444" font-family="'DejaVu Sans', 'Liberation Sans', sans-serif">100</text>
<line x1="79.8" y1="307.10" x2="82.8" y2="307.10" stroke="#222" stroke-width="0.6"/>
<text x="79.3" y="309.4" font-size="6.6" text-anchor="end" fill="#444" font-family="'DejaVu Sans', 'Liberation Sans', sans-serif">200</text>
<line x1="79.8" y1="269.60" x2="82.8" y2="269.60" stroke="#222" stroke-width="0.6"/>
<text x="79.3" y="271.9" font-size="6.6" text-anchor="end" fill="#444" font-family="'DejaVu Sans', 'Liberation Sans', sans-serif">300</text>
<text x="83.5" y="393.7" font-size="6.6" text-anchor="middle" fill="#444" font-family="'DejaVu Sans', 'Liberation Sans', sans-serif">20</text>
<text x="139.0" y="393.7" font-size="6.6" text-anchor="middle" fill="#444" font-family="'DejaVu Sans', 'Liberation Sans', sans-serif">22</text>
<text x="194.5" y="393.7" font-size="6.6" text-anchor="middle" fill="#444" font-family="'DejaVu Sans', 'Liberation Sans', sans-serif">24</text>
<text x="250.0" y="393.7" font-size="6.6" text-anchor="middle" fill="#444" font-family="'DejaVu Sans', 'Liberation Sans', sans-serif">26</text>
<text x="305.5" y="393.7" font-size="6.6" text-anchor="middle" fill="#444" font-family="'DejaVu Sans', 'Liberation Sans', sans-serif">28</text>
<text x="361.0" y="393.7" font-size="6.6" text-anchor="middle" fill="#444" font-family="'DejaVu Sans', 'Liberation Sans', sans-serif">30</text>
<text x="416.5" y="393.7" font-size="6.6" text-anchor="middle" fill="#444" font-family="'DejaVu Sans', 'Liberation Sans', sans-serif">32</text>
<text x="472.0" y="393.7" font-size="6.6" text-anchor="middle" fill="#444" font-family="'DejaVu Sans', 'Liberation Sans', sans-serif">34</text>
<text x="289.7" y="404.6" font-size="6.8" text-anchor="middle" fill="#444" font-family="'DejaVu Sans', 'Liberation Sans', sans-serif" textLength="69" lengthAdjust="spacingAndGlyphs">Retention time [min]</text>
<text x="60.6" y="319.4" font-size="7.4" text-anchor="middle" fill="#444" font-family="'DejaVu Sans', 'Liberation Sans', sans-serif" textLength="16.8" lengthAdjust="spacingAndGlyphs" transform="rotate(-90 60.6 319.4)">Signal</text>
<path d="M126.08,533.6 L126.08,532.85 L126.31,532.15 L126.55,530.92 L126.78,528.87 L127.02,525.62 L127.25,520.73 L127.49,513.76 L127.72,504.39 L127.96,492.51 L128.19,478.37 L128.43,462.66 L128.66,446.54 L128.90,431.50 L129.13,419.20 L129.37,411.12 L129.60,408.30 L129.83,411.12 L130.07,419.20 L130.30,431.50 L130.54,446.54 L130.77,462.66 L131.01,478.37 L131.24,492.51 L131.48,504.39 L131.71,513.76 L131.95,520.73 L132.18,525.62 L132.42,528.87 L132.65,530.92 L132.89,532.15 L133.12,532.85 L133.12,533.6 Z" fill="url(#pk)"/>
<path d="M175.84,533.6 L175.84,533.45 L176.12,533.32 L176.39,533.07 L176.67,532.67 L176.95,532.03 L177.23,531.07 L177.50,529.71 L177.78,527.87 L178.06,525.53 L178.34,522.76 L178.61,519.67 L178.89,516.51 L179.17,513.56 L179.45,511.14 L179.72,509.55 L180.00,509.00 L180.28,509.55 L180.55,511.14 L180.83,513.56 L181.11,516.51 L181.39,519.67 L181.66,522.76 L181.94,525.53 L182.22,527.87 L182.50,529.71 L182.77,531.07 L183.05,532.03 L183.33,532.67 L183.61,533.07 L183.88,533.32 L184.16,533.45 L184.16,533.6 Z" fill="url(#pk)"/>
<path d="M219.02,533.6 L219.02,533.57 L219.53,533.55 L220.04,533.51 L220.56,533.43 L221.07,533.32 L221.58,533.15 L222.09,532.90 L222.60,532.57 L223.12,532.16 L223.63,531.66 L224.14,531.11 L224.65,530.54 L225.16,530.01 L225.68,529.58 L226.19,529.30 L226.70,529.20 L227.21,529.30 L227.72,529.58 L228.24,530.01 L228.75,530.54 L229.26,531.11 L229.77,531.66 L230.28,532.16 L230.80,532.57 L231.31,532.90 L231.82,533.15 L232.33,533.32 L232.84,533.43 L233.36,533.51 L233.87,533.55 L234.38,533.57 L234.38,533.6 Z" fill="url(#pk)"/>
<path d="M248.60,533.6 L248.60,533.59 L248.81,533.58 L249.03,533.56 L249.24,533.52 L249.45,533.47 L249.67,533.38 L249.88,533.27 L250.09,533.11 L250.31,532.91 L250.52,532.67 L250.73,532.41 L250.95,532.14 L251.16,531.89 L251.37,531.68 L251.59,531.55 L251.80,531.50 L252.01,531.55 L252.23,531.68 L252.44,531.89 L252.65,532.14 L252.87,532.41 L253.08,532.67 L253.29,532.91 L253.51,533.11 L253.72,533.27 L253.93,533.38 L254.15,533.47 L254.36,533.52 L254.57,533.56 L254.79,533.58 L255.00,533.59 L255.00,533.6 Z" fill="url(#pk)"/>
<path d="M258.68,533.6 L258.68,533.50 L258.91,533.41 L259.15,533.24 L259.38,532.97 L259.62,532.53 L259.85,531.87 L260.09,530.94 L260.32,529.68 L260.56,528.09 L260.79,526.19 L261.03,524.09 L261.26,521.93 L261.50,519.91 L261.73,518.26 L261.97,517.18 L262.20,516.80 L262.43,517.18 L262.67,518.26 L262.90,519.91 L263.14,521.93 L263.37,524.09 L263.61,526.19 L263.84,528.09 L264.08,529.68 L264.31,530.94 L264.55,531.87 L264.78,532.53 L265.02,532.97 L265.25,533.24 L265.49,533.41 L265.72,533.50 L265.72,533.6 Z" fill="url(#pk)"/>
<path d="M266.56,533.6 L266.56,533.54 L266.82,533.48 L267.07,533.38 L267.33,533.20 L267.58,532.93 L267.84,532.52 L268.10,531.94 L268.35,531.15 L268.61,530.16 L268.86,528.97 L269.12,527.66 L269.38,526.30 L269.63,525.04 L269.89,524.01 L270.14,523.34 L270.40,523.10 L270.66,523.34 L270.91,524.01 L271.17,525.04 L271.42,526.30 L271.68,527.66 L271.94,528.97 L272.19,530.16 L272.45,531.15 L272.70,531.94 L272.96,532.52 L273.22,532.93 L273.47,533.20 L273.73,533.38 L273.98,533.48 L274.24,533.54 L274.24,533.6 Z" fill="url(#pk)"/>
<path d="M284.60,533.6 L284.60,533.56 L284.81,533.53 L285.03,533.46 L285.24,533.36 L285.45,533.19 L285.67,532.94 L285.88,532.59 L286.09,532.11 L286.31,531.50 L286.52,530.78 L286.73,529.98 L286.95,529.15 L287.16,528.39 L287.37,527.76 L287.59,527.34 L287.80,527.20 L288.01,527.34 L288.23,527.76 L288.44,528.39 L288.65,529.15 L288.87,529.98 L289.08,530.78 L289.29,531.50 L289.51,532.11 L289.72,532.59 L289.93,532.94 L290.15,533.19 L290.36,533.36 L290.57,533.46 L290.79,533.53 L291.00,533.56 L291.00,533.6 Z" fill="url(#pk)"/>
<path d="M291.38,533.6 L291.38,533.45 L291.61,533.31 L291.85,533.06 L292.08,532.64 L292.32,531.98 L292.55,530.98 L292.79,529.56 L293.02,527.66 L293.26,525.24 L293.49,522.36 L293.73,519.16 L293.96,515.88 L294.20,512.82 L294.43,510.32 L294.67,508.67 L294.90,508.10 L295.13,508.67 L295.37,510.32 L295.60,512.82 L295.84,515.88 L296.07,519.16 L296.31,522.36 L296.54,525.24 L296.78,527.66 L297.01,529.56 L297.25,530.98 L297.48,531.98 L297.72,532.64 L297.95,533.06 L298.19,533.31 L298.42,533.45 L298.42,533.6 Z" fill="url(#pk)"/>
<path d="M297.56,533.6 L297.56,533.56 L297.82,533.53 L298.07,533.46 L298.33,533.36 L298.58,533.19 L298.84,532.94 L299.10,532.59 L299.35,532.11 L299.61,531.50 L299.86,530.78 L300.12,529.98 L300.38,529.15 L300.63,528.39 L300.89,527.76 L301.14,527.34 L301.40,527.20 L301.66,527.34 L301.91,527.76 L302.17,528.39 L302.42,529.15 L302.68,529.98 L302.94,530.78 L303.19,531.50 L303.45,532.11 L303.70,532.59 L303.96,532.94 L304.22,533.19 L304.47,533.36 L304.73,533.46 L304.98,533.53 L305.24,533.56 L305.24,533.6 Z" fill="url(#pk)"/>
<path d="M305.80,533.6 L305.80,533.58 L306.01,533.56 L306.23,533.53 L306.44,533.48 L306.65,533.40 L306.87,533.28 L307.08,533.11 L307.29,532.88 L307.51,532.58 L307.72,532.23 L307.93,531.84 L308.15,531.45 L308.36,531.07 L308.57,530.77 L308.79,530.57 L309.00,530.50 L309.21,530.57 L309.43,530.77 L309.64,531.07 L309.85,531.45 L310.07,531.84 L310.28,532.23 L310.49,532.58 L310.71,532.88 L310.92,533.11 L311.13,533.28 L311.35,533.40 L311.56,533.48 L311.77,533.53 L311.99,533.56 L312.20,533.58 L312.20,533.6 Z" fill="url(#pk)"/>
<path d="M318.20,533.6 L318.20,533.57 L318.41,533.54 L318.63,533.49 L318.84,533.41 L319.05,533.28 L319.27,533.08 L319.48,532.79 L319.69,532.41 L319.91,531.93 L320.12,531.35 L320.33,530.71 L320.55,530.06 L320.76,529.44 L320.97,528.94 L321.19,528.61 L321.40,528.50 L321.61,528.61 L321.83,528.94 L322.04,529.44 L322.25,530.06 L322.47,530.71 L322.68,531.35 L322.89,531.93 L323.11,532.41 L323.32,532.79 L323.53,533.08 L323.75,533.28 L323.96,533.41 L324.17,533.49 L324.39,533.54 L324.60,533.57 L324.60,533.6 Z" fill="url(#pk)"/>
<path d="M321.80,533.6 L321.80,533.57 L322.01,533.55 L322.23,533.51 L322.44,533.43 L322.65,533.32 L322.87,533.15 L323.08,532.90 L323.29,532.57 L323.51,532.16 L323.72,531.66 L323.93,531.11 L324.15,530.54 L324.36,530.01 L324.57,529.58 L324.79,529.30 L325.00,529.20 L325.21,529.30 L325.43,529.58 L325.64,530.01 L325.85,530.54 L326.07,531.11 L326.28,531.66 L326.49,532.16 L326.71,532.57 L326.92,532.90 L327.13,533.15 L327.35,533.32 L327.56,533.43 L327.77,533.51 L327.99,533.55 L328.20,533.57 L328.20,533.6 Z" fill="url(#pk)"/>
<path d="M330.98,533.6 L330.98,533.52 L331.21,533.45 L331.45,533.32 L331.68,533.10 L331.92,532.76 L332.15,532.24 L332.39,531.51 L332.62,530.52 L332.86,529.27 L333.09,527.78 L333.33,526.13 L333.56,524.43 L333.80,522.84 L334.03,521.55 L334.27,520.70 L334.50,520.40 L334.73,520.70 L334.97,521.55 L335.20,522.84 L335.44,524.43 L335.67,526.13 L335.91,527.78 L336.14,529.27 L336.38,530.52 L336.61,531.51 L336.85,532.24 L337.08,532.76 L337.32,533.10 L337.55,533.32 L337.79,533.45 L338.02,533.52 L338.02,533.6 Z" fill="url(#pk)"/>
<path d="M365.90,533.6 L365.90,533.58 L366.11,533.55 L366.33,533.51 L366.54,533.45 L366.75,533.34 L366.97,533.18 L367.18,532.95 L367.39,532.64 L367.61,532.26 L367.82,531.79 L368.03,531.28 L368.25,530.75 L368.46,530.26 L368.67,529.86 L368.89,529.59 L369.10,529.50 L369.31,529.59 L369.53,529.86 L369.74,530.26 L369.95,530.75 L370.17,531.28 L370.38,531.79 L370.59,532.26 L370.81,532.64 L371.02,532.95 L371.23,533.18 L371.45,533.34 L371.66,533.45 L371.87,533.51 L372.09,533.55 L372.30,533.58 L372.30,533.6 Z" fill="url(#pk)"/>
<path d="M370.10,533.6 L370.10,533.56 L370.31,533.53 L370.53,533.47 L370.74,533.38 L370.95,533.22 L371.17,532.99 L371.38,532.67 L371.59,532.22 L371.81,531.67 L372.02,531.00 L372.23,530.26 L372.45,529.50 L372.66,528.79 L372.87,528.21 L373.09,527.83 L373.30,527.70 L373.51,527.83 L373.73,528.21 L373.94,528.79 L374.15,529.50 L374.37,530.26 L374.58,531.00 L374.79,531.67 L375.01,532.22 L375.22,532.67 L375.43,532.99 L375.65,533.22 L375.86,533.38 L376.07,533.47 L376.29,533.53 L376.50,533.56 L376.50,533.6 Z" fill="url(#pk)"/>
<path d="M380.08,533.6 L380.08,533.53 L380.31,533.47 L380.55,533.36 L380.78,533.17 L381.02,532.87 L381.25,532.43 L381.49,531.80 L381.72,530.94 L381.96,529.86 L382.19,528.58 L382.43,527.15 L382.66,525.68 L382.90,524.31 L383.13,523.19 L383.37,522.46 L383.60,522.20 L383.83,522.46 L384.07,523.19 L384.30,524.31 L384.54,525.68 L384.77,527.15 L385.01,528.58 L385.24,529.86 L385.48,530.94 L385.71,531.80 L385.95,532.43 L386.18,532.87 L386.42,533.17 L386.65,533.36 L386.89,533.47 L387.12,533.53 L387.12,533.6 Z" fill="url(#pk)"/>
<path d="M392.54,533.6 L392.54,533.58 L392.82,533.57 L393.09,533.54 L393.37,533.50 L393.65,533.43 L393.93,533.33 L394.20,533.19 L394.48,532.99 L394.76,532.75 L395.04,532.45 L395.31,532.13 L395.59,531.79 L395.87,531.48 L396.15,531.23 L396.42,531.06 L396.70,531.00 L396.98,531.06 L397.25,531.23 L397.53,531.48 L397.81,531.79 L398.09,532.13 L398.36,532.45 L398.64,532.75 L398.92,532.99 L399.20,533.19 L399.47,533.33 L399.75,533.43 L400.03,533.50 L400.31,533.54 L400.58,533.57 L400.86,533.58 L400.86,533.6 Z" fill="url(#pk)"/>
<path d="M407.14,533.6 L407.14,533.58 L407.42,533.57 L407.69,533.54 L407.97,533.49 L408.25,533.42 L408.53,533.30 L408.80,533.14 L409.08,532.92 L409.36,532.65 L409.64,532.32 L409.91,531.96 L410.19,531.58 L410.47,531.24 L410.75,530.95 L411.02,530.77 L411.30,530.70 L411.58,530.77 L411.85,530.95 L412.13,531.24 L412.41,531.58 L412.69,531.96 L412.96,532.32 L413.24,532.65 L413.52,532.92 L413.80,533.14 L414.07,533.30 L414.35,533.42 L414.63,533.49 L414.91,533.54 L415.18,533.57 L415.46,533.58 L415.46,533.6 Z" fill="url(#pk)"/>
<path d="M432.48,533.6 L432.48,533.59 L432.71,533.57 L432.95,533.55 L433.18,533.52 L433.42,533.46 L433.65,533.37 L433.89,533.25 L434.12,533.09 L434.36,532.88 L434.59,532.63 L434.83,532.35 L435.06,532.07 L435.30,531.81 L435.53,531.59 L435.77,531.45 L436.00,531.40 L436.23,531.45 L436.47,531.59 L436.70,531.81 L436.94,532.07 L437.17,532.35 L437.41,532.63 L437.64,532.88 L437.88,533.09 L438.11,533.25 L438.35,533.37 L438.58,533.46 L438.82,533.52 L439.05,533.55 L439.29,533.57 L439.52,533.59 L439.52,533.6 Z" fill="url(#pk)"/>
<path d="M442.10,533.6 L442.10,533.59 L442.31,533.58 L442.53,533.57 L442.74,533.55 L442.95,533.51 L443.17,533.46 L443.38,533.38 L443.59,533.27 L443.81,533.14 L444.02,532.98 L444.23,532.81 L444.45,532.63 L444.66,532.46 L444.87,532.32 L445.09,532.23 L445.30,532.20 L445.51,532.23 L445.73,532.32 L445.94,532.46 L446.15,532.63 L446.37,532.81 L446.58,532.98 L446.79,533.14 L447.01,533.27 L447.22,533.38 L447.43,533.46 L447.65,533.51 L447.86,533.55 L448.07,533.57 L448.29,533.58 L448.50,533.59 L448.50,533.6 Z" fill="url(#pk)"/>
<path d="M460.66,533.6 L460.66,533.59 L460.92,533.57 L461.17,533.55 L461.43,533.52 L461.68,533.46 L461.94,533.37 L462.20,533.25 L462.45,533.09 L462.71,532.88 L462.96,532.63 L463.22,532.35 L463.48,532.07 L463.73,531.81 L463.99,531.59 L464.24,531.45 L464.50,531.40 L464.76,531.45 L465.01,531.59 L465.27,531.81 L465.52,532.07 L465.78,532.35 L466.04,532.63 L466.29,532.88 L466.55,533.09 L466.80,533.25 L467.06,533.37 L467.32,533.46 L467.57,533.52 L467.83,533.55 L468.08,533.57 L468.34,533.59 L468.34,533.6 Z" fill="url(#pk)"/>
<path d="M472.26,533.6 L472.26,533.58 L472.52,533.57 L472.77,533.54 L473.03,533.49 L473.28,533.42 L473.54,533.30 L473.80,533.14 L474.05,532.92 L474.31,532.65 L474.56,532.32 L474.82,531.96 L475.08,531.58 L475.33,531.24 L475.59,530.95 L475.84,530.77 L476.10,530.70 L476.36,530.77 L476.61,530.95 L476.87,531.24 L477.12,531.58 L477.38,531.96 L477.64,532.32 L477.89,532.65 L478.15,532.92 L478.40,533.14 L478.66,533.30 L478.92,533.42 L479.17,533.49 L479.43,533.54 L479.68,533.57 L479.94,533.58 L479.94,533.6 Z" fill="url(#pk)"/>
<line x1="122" y1="533.3000000000001" x2="137" y2="533.3000000000001" stroke="#e05050" stroke-width="0.9"/>
<line x1="150" y1="533.3000000000001" x2="190" y2="533.3000000000001" stroke="#e05050" stroke-width="0.9"/>
<line x1="205" y1="533.3000000000001" x2="495" y2="533.3000000000001" stroke="#e05050" stroke-width="0.9"/>
<path d="M84.70,533.60 L84.95,533.60 L85.20,533.60 L85.45,533.60 L85.70,533.60 L85.95,533.60 L86.20,533.60 L86.45,533.60 L86.70,533.60 L86.95,533.60 L87.20,533.60 L87.45,533.60 L87.70,533.60 L87.95,533.60 L88.20,533.60 L88.45,533.60 L88.70,533.60 L88.95,533.60 L89.20,533.60 L89.45,533.60 L89.70,533.60 L89.95,533.60 L90.20,533.60 L90.45,533.60 L90.70,533.60 L90.95,533.60 L91.20,533.60 L91.45,533.60 L91.70,533.60 L91.95,533.60 L92.20,533.60 L92.45,533.60 L92.70,533.60 L92.95,533.60 L93.20,533.60 L93.45,533.60 L93.70,533.60 L93.95,533.60 L94.20,533.60 L94.45,533.60 L94.70,533.60 L94.95,533.60 L95.20,533.60 L95.45,533.60 L95.70,533.60 L95.95,533.60 L96.20,533.60 L96.45,533.60 L96.70,533.60 L96.95,533.60 L97.20,533.60 L97.45,533.60 L97.70,533.60 L97.95,533.60 L98.20,533.60 L98.45,533.60 L98.70,533.60 L98.95,533.60 L99.20,533.60 L99.45,533.60 L99.70,533.60 L99.95,533.60 L100.20,533.60 L100.45,533.60 L100.70,533.60 L100.95,533.60 L101.20,533.60 L101.45,533.60 L101.70,533.60 L101.95,533.60 L102.20,533.60 L102.45,533.60 L102.70,533.60 L102.95,533.60 L103.20,533.60 L103.45,533.60 L103.70,533.60 L103.95,533.60 L104.20,533.60 L104.45,533.60 L104.70,533.60 L104.95,533.60 L105.20,533.60 L105.45,533.60 L105.70,533.60 L105.95,533.60 L106.20,533.60 L106.45,533.60 L106.70,533.60 L106.95,533.60 L107.20,533.60 L107.45,533.60 L107.70,533.60 L107.95,533.60 L108.20,533.60 L108.45,533.60 L108.70,533.60 L108.95,533.60 L109.20,533.60 L109.45,533.60 L109.70,533.60 L109.95,533.60 L110.20,533.60 L110.45,533.60 L110.70,533.59 L110.95,533.59 L111.20,533.58 L111.45,533.56 L111.70,533.54 L111.95,533.50 L112.20,533.44 L112.45,533.37 L112.70,533.27 L112.95,533.14 L113.20,532.99 L113.45,532.81 L113.70,532.63 L113.95,532.45 L114.20,532.28 L114.45,532.14 L114.70,532.04 L114.95,532.00 L115.20,532.02 L115.45,532.09 L115.70,532.22 L115.95,532.37 L116.20,532.56 L116.45,532.74 L116.70,532.92 L116.95,533.08 L117.20,533.22 L117.45,533.33 L117.70,533.41 L117.95,533.48 L118.20,533.52 L118.45,533.55 L118.70,533.57 L118.95,533.58 L119.20,533.59 L119.45,533.60 L119.70,533.60 L119.95,533.60 L120.20,533.60 L120.45,533.60 L120.70,533.60 L120.95,533.60 L121.20,533.60 L121.45,533.60 L121.70,533.60 L121.95,533.60 L122.20,533.60 L122.45,533.60 L122.70,533.60 L122.95,533.60 L123.20,533.60 L123.45,533.60 L123.70,533.60 L123.95,533.60 L124.20,533.60 L124.45,533.60 L124.70,533.59 L124.95,533.58 L125.20,533.56 L125.45,533.50 L125.70,533.37 L125.95,533.09 L126.20,532.54 L126.45,531.52 L126.70,529.72 L126.95,526.72 L127.20,522.01 L127.45,515.05 L127.70,505.41 L127.95,492.92 L128.20,477.85 L128.45,461.05 L128.70,443.94 L128.95,428.37 L129.20,416.32 L129.45,409.46 L129.70,408.82 L129.95,414.48 L130.20,425.62 L130.45,440.64 L130.70,457.60 L130.95,474.60 L131.20,490.10 L131.45,503.14 L131.70,513.34 L131.95,520.80 L132.20,525.91 L132.45,529.19 L132.70,531.14 L132.95,532.20 L133.20,532.67 L133.45,532.74 L133.70,532.53 L133.95,532.11 L134.20,531.52 L134.45,530.83 L134.70,530.11 L134.95,529.47 L135.20,529.01 L135.45,528.81 L135.70,528.90 L135.95,529.26 L136.20,529.84 L136.45,530.54 L136.70,531.26 L136.95,531.92 L137.20,532.47 L137.45,532.88 L137.70,533.17 L137.95,533.36 L138.20,533.47 L138.45,533.54 L138.70,533.57 L138.95,533.59 L139.20,533.59 L139.45,533.60 L139.70,533.60 L139.95,533.60 L140.20,533.60 L140.45,533.60 L140.70,533.60 L140.95,533.60 L141.20,533.60 L141.45,533.60 L141.70,533.60 L141.95,533.60 L142.20,533.60 L142.45,533.60 L142.70,533.60 L142.95,533.60 L143.20,533.60 L143.45,533.60 L143.70,533.60 L143.95,533.60 L144.20,533.60 L144.45,533.60 L144.70,533.60 L144.95,533.60 L145.20,533.60 L145.45,533.60 L145.70,533.60 L145.95,533.60 L146.20,533.60 L146.45,533.60 L146.70,533.60 L146.95,533.60 L147.20,533.60 L147.45,533.60 L147.70,533.60 L147.95,533.60 L148.20,533.60 L148.45,533.60 L148.70,533.60 L148.95,533.60 L149.20,533.60 L149.45,533.60 L149.70,533.60 L149.95,533.60 L150.20,533.60 L150.45,533.60 L150.70,533.60 L150.95,533.60 L151.20,533.60 L151.45,533.60 L151.70,533.60 L151.95,533.60 L152.20,533.60 L152.45,533.60 L152.70,533.60 L152.95,533.60 L153.20,533.60 L153.45,533.60 L153.70,533.60 L153.95,533.60 L154.20,533.60 L154.45,533.60 L154.70,533.60 L154.95,533.60 L155.20,533.60 L155.45,533.60 L155.70,533.60 L155.95,533.60 L156.20,533.60 L156.45,533.60 L156.70,533.60 L156.95,533.60 L157.20,533.60 L157.45,533.60 L157.70,533.60 L157.95,533.60 L158.20,533.60 L158.45,533.60 L158.70,533.60 L158.95,533.60 L159.20,533.60 L159.45,533.60 L159.70,533.60 L159.95,533.60 L160.20,533.60 L160.45,533.60 L160.70,533.60 L160.95,533.60 L161.20,533.60 L161.45,533.60 L161.70,533.60 L161.95,533.60 L162.20,533.60 L162.45,533.60 L162.70,533.60 L162.95,533.60 L163.20,533.60 L163.45,533.60 L163.70,533.60 L163.95,533.60 L164.20,533.60 L164.45,533.60 L164.70,533.60 L164.95,533.60 L165.20,533.60 L165.45,533.60 L165.70,533.60 L165.95,533.60 L166.20,533.60 L166.45,533.60 L166.70,533.60 L166.95,533.60 L167.20,533.60 L167.45,533.60 L167.70,533.60 L167.95,533.60 L168.20,533.60 L168.45,533.60 L168.70,533.60 L168.95,533.60 L169.20,533.60 L169.45,533.60 L169.70,533.60 L169.95,533.60 L170.20,533.60 L170.45,533.60 L170.70,533.60 L170.95,533.60 L171.20,533.60 L171.45,533.60 L171.70,533.60 L171.95,533.60 L172.20,533.60 L172.45,533.60 L172.70,533.60 L172.95,533.60 L173.20,533.60 L173.45,533.60 L173.70,533.60 L173.95,533.60 L174.20,533.60 L174.45,533.60 L174.70,533.59 L174.95,533.59 L175.20,533.57 L175.45,533.55 L175.70,533.50 L175.95,533.41 L176.20,533.26 L176.45,533.01 L176.70,532.62 L176.95,532.03 L177.20,531.18 L177.45,530.01 L177.70,528.46 L177.95,526.50 L178.20,524.17 L178.45,521.52 L178.70,518.68 L178.95,515.85 L179.20,513.24 L179.45,511.11 L179.70,509.65 L179.95,509.02 L180.20,509.29 L180.45,510.43 L180.70,512.32 L180.95,514.76 L181.20,517.53 L181.45,520.39 L181.70,523.14 L181.95,525.61 L182.20,527.72 L182.45,529.43 L182.70,530.75 L182.95,531.73 L183.20,532.41 L183.45,532.87 L183.70,533.17 L183.95,533.36 L184.20,533.47 L184.45,533.53 L184.70,533.56 L184.95,533.58 L185.20,533.59 L185.45,533.60 L185.70,533.60 L185.95,533.60 L186.20,533.60 L186.45,533.60 L186.70,533.60 L186.95,533.60 L187.20,533.60 L187.45,533.60 L187.70,533.60 L187.95,533.60 L188.20,533.60 L188.45,533.60 L188.70,533.60 L188.95,533.60 L189.20,533.60 L189.45,533.60 L189.70,533.60 L189.95,533.60 L190.20,533.60 L190.45,533.60 L190.70,533.60 L190.95,533.60 L191.20,533.60 L191.45,533.60 L191.70,533.60 L191.95,533.60 L192.20,533.60 L192.45,533.60 L192.70,533.60 L192.95,533.60 L193.20,533.60 L193.45,533.60 L193.70,533.60 L193.95,533.60 L194.20,533.60 L194.45,533.60 L194.70,533.60 L194.95,533.60 L195.20,533.60 L195.45,533.60 L195.70,533.60 L195.95,533.60 L196.20,533.60 L196.45,533.60 L196.70,533.60 L196.95,533.60 L197.20,533.60 L197.45,533.60 L197.70,533.60 L197.95,533.60 L198.20,533.60 L198.45,533.60 L198.70,533.60 L198.95,533.60 L199.20,533.60 L199.45,533.60 L199.70,533.60 L199.95,533.60 L200.20,533.60 L200.45,533.60 L200.70,533.60 L200.95,533.60 L201.20,533.60 L201.45,533.60 L201.70,533.60 L201.95,533.60 L202.20,533.60 L202.45,533.60 L202.70,533.60 L202.95,533.60 L203.20,533.60 L203.45,533.60 L203.70,533.60 L203.95,533.60 L204.20,533.60 L204.45,533.60 L204.70,533.60 L204.95,533.60 L205.20,533.60 L205.45,533.60 L205.70,533.60 L205.95,533.60 L206.20,533.60 L206.45,533.60 L206.70,533.60 L206.95,533.60 L207.20,533.60 L207.45,533.60 L207.70,533.60 L207.95,533.60 L208.20,533.60 L208.45,533.60 L208.70,533.60 L208.95,533.60 L209.20,533.60 L209.45,533.60 L209.70,533.60 L209.95,533.60 L210.20,533.60 L210.45,533.60 L210.70,533.60 L210.95,533.60 L211.20,533.60 L211.45,533.60 L211.70,533.60 L211.95,533.60 L212.20,533.60 L212.45,533.60 L212.70,533.60 L212.95,533.60 L213.20,533.60 L213.45,533.60 L213.70,533.60 L213.95,533.60 L214.20,533.60 L214.45,533.60 L214.70,533.60 L214.95,533.60 L215.20,533.60 L215.45,533.60 L215.70,533.60 L215.95,533.60 L216.20,533.60 L216.45,533.60 L216.70,533.60 L216.95,533.60 L217.20,533.60 L217.45,533.60 L217.70,533.60 L217.95,533.59 L218.20,533.59 L218.45,533.59 L218.70,533.58 L218.95,533.58 L219.20,533.57 L219.45,533.55 L219.70,533.54 L219.95,533.52 L220.20,533.49 L220.45,533.45 L220.70,533.41 L220.95,533.35 L221.20,533.28 L221.45,533.20 L221.70,533.10 L221.95,532.98 L222.20,532.84 L222.45,532.68 L222.70,532.50 L222.95,532.30 L223.20,532.08 L223.45,531.84 L223.70,531.59 L223.95,531.32 L224.20,531.04 L224.45,530.76 L224.70,530.49 L224.95,530.23 L225.20,529.98 L225.45,529.76 L225.70,529.57 L225.95,529.41 L226.20,529.29 L226.45,529.22 L226.70,529.20 L226.95,529.22 L227.20,529.29 L227.45,529.41 L227.70,529.57 L227.95,529.76 L228.20,529.98 L228.45,530.23 L228.70,530.49 L228.95,530.76 L229.20,531.04 L229.45,531.32 L229.70,531.59 L229.95,531.84 L230.20,532.08 L230.45,532.30 L230.70,532.50 L230.95,532.68 L231.20,532.84 L231.45,532.98 L231.70,533.10 L231.95,533.20 L232.20,533.28 L232.45,533.35 L232.70,533.41 L232.95,533.45 L233.20,533.49 L233.45,533.52 L233.70,533.54 L233.95,533.55 L234.20,533.57 L234.45,533.58 L234.70,533.58 L234.95,533.59 L235.20,533.59 L235.45,533.59 L235.70,533.60 L235.95,533.60 L236.20,533.60 L236.45,533.60 L236.70,533.60 L236.95,533.60 L237.20,533.60 L237.45,533.60 L237.70,533.60 L237.95,533.60 L238.20,533.60 L238.45,533.60 L238.70,533.60 L238.95,533.60 L239.20,533.60 L239.45,533.60 L239.70,533.60 L239.95,533.60 L240.20,533.60 L240.45,533.60 L240.70,533.60 L240.95,533.60 L241.20,533.60 L241.45,533.60 L241.70,533.60 L241.95,533.60 L242.20,533.60 L242.45,533.60 L242.70,533.60 L242.95,533.60 L243.20,533.60 L243.45,533.60 L243.70,533.60 L243.95,533.60 L244.20,533.60 L244.45,533.60 L244.70,533.60 L244.95,533.60 L245.20,533.60 L245.45,533.60 L245.70,533.60 L245.95,533.60 L246.20,533.60 L246.45,533.60 L246.70,533.60 L246.95,533.60 L247.20,533.60 L247.45,533.60 L247.70,533.60 L247.95,533.60 L248.20,533.60 L248.45,533.59 L248.70,533.58 L248.95,533.56 L249.20,533.53 L249.45,533.47 L249.70,533.37 L249.95,533.22 L250.20,533.02 L250.45,532.76 L250.70,532.45 L250.95,532.14 L251.20,531.85 L251.45,531.62 L251.70,531.51 L251.95,531.52 L252.20,531.66 L252.45,531.90 L252.70,532.20 L252.95,532.52 L253.20,532.81 L253.45,533.06 L253.70,533.25 L253.95,533.39 L254.20,533.48 L254.45,533.54 L254.70,533.57 L254.95,533.59 L255.20,533.59 L255.45,533.60 L255.70,533.60 L255.95,533.60 L256.20,533.60 L256.45,533.60 L256.70,533.60 L256.95,533.60 L257.20,533.60 L257.45,533.60 L257.70,533.60 L257.95,533.59 L258.20,533.58 L258.45,533.55 L258.70,533.49 L258.95,533.39 L259.20,533.19 L259.45,532.86 L259.70,532.33 L259.95,531.53 L260.20,530.38 L260.45,528.86 L260.70,526.97 L260.95,524.79 L261.20,522.49 L261.45,520.28 L261.70,518.45 L261.95,517.23 L262.20,516.80 L262.45,517.23 L262.70,518.45 L262.95,520.28 L263.20,522.49 L263.45,524.79 L263.70,526.97 L263.95,528.86 L264.20,530.38 L264.45,531.53 L264.70,532.33 L264.95,532.86 L265.20,533.19 L265.45,533.38 L265.70,533.49 L265.95,533.54 L266.20,533.55 L266.45,533.54 L266.70,533.51 L266.95,533.43 L267.20,533.30 L267.45,533.09 L267.70,532.76 L267.95,532.29 L268.20,531.64 L268.45,530.80 L268.70,529.75 L268.95,528.54 L269.20,527.23 L269.45,525.92 L269.70,524.74 L269.95,523.81 L270.20,523.24 L270.45,523.11 L270.70,523.42 L270.95,524.15 L271.20,525.19 L271.45,526.44 L271.70,527.76 L271.95,529.04 L272.20,530.19 L272.45,531.16 L272.70,531.93 L272.95,532.50 L273.20,532.91 L273.45,533.18 L273.70,533.36 L273.95,533.47 L274.20,533.53 L274.45,533.56 L274.70,533.58 L274.95,533.59 L275.20,533.60 L275.45,533.60 L275.70,533.60 L275.95,533.60 L276.20,533.60 L276.45,533.60 L276.70,533.60 L276.95,533.60 L277.20,533.60 L277.45,533.60 L277.70,533.60 L277.95,533.60 L278.20,533.60 L278.45,533.60 L278.70,533.60 L278.95,533.60 L279.20,533.60 L279.45,533.60 L279.70,533.60 L279.95,533.60 L280.20,533.60 L280.45,533.60 L280.70,533.60 L280.95,533.60 L281.20,533.60 L281.45,533.60 L281.70,533.60 L281.95,533.60 L282.20,533.60 L282.45,533.60 L282.70,533.60 L282.95,533.60 L283.20,533.60 L283.45,533.60 L283.70,533.60 L283.95,533.60 L284.20,533.59 L284.45,533.58 L284.70,533.55 L284.95,533.49 L285.20,533.38 L285.45,533.20 L285.70,532.89 L285.95,532.44 L286.20,531.82 L286.45,531.03 L286.70,530.11 L286.95,529.14 L287.20,528.25 L287.45,527.58 L287.70,527.23 L287.95,527.27 L288.20,527.69 L288.45,528.42 L288.70,529.33 L288.95,530.30 L289.20,531.20 L289.45,531.96 L289.70,532.55 L289.95,532.96 L290.20,533.24 L290.45,533.40 L290.70,533.49 L290.95,533.51 L291.20,533.49 L291.45,533.41 L291.70,533.23 L291.95,532.90 L292.20,532.35 L292.45,531.47 L292.70,530.15 L292.95,528.30 L293.20,525.87 L293.45,522.90 L293.70,519.54 L293.95,516.04 L294.20,512.77 L294.45,510.15 L294.70,508.52 L294.95,508.13 L295.20,509.03 L295.45,511.10 L295.70,514.03 L295.95,517.43 L296.20,520.92 L296.45,524.15 L296.70,526.91 L296.95,529.10 L297.20,530.72 L297.45,531.84 L297.70,532.55 L297.95,532.95 L298.20,533.13 L298.45,533.15 L298.70,533.03 L298.95,532.77 L299.20,532.40 L299.45,531.89 L299.70,531.25 L299.95,530.52 L300.20,529.72 L300.45,528.92 L300.70,528.20 L300.95,527.63 L301.20,527.29 L301.45,527.21 L301.70,527.40 L301.95,527.84 L302.20,528.48 L302.45,529.24 L302.70,530.04 L302.95,530.82 L303.20,531.52 L303.45,532.11 L303.70,532.58 L303.95,532.93 L304.20,533.18 L304.45,533.35 L304.70,533.45 L304.95,533.52 L305.20,533.56 L305.45,533.57 L305.70,533.58 L305.95,533.57 L306.20,533.54 L306.45,533.48 L306.70,533.38 L306.95,533.22 L307.20,532.99 L307.45,532.67 L307.70,532.27 L307.95,531.81 L308.20,531.35 L308.45,530.94 L308.70,530.64 L308.95,530.50 L309.20,530.56 L309.45,530.80 L309.70,531.17 L309.95,531.63 L310.20,532.09 L310.45,532.52 L310.70,532.87 L310.95,533.14 L311.20,533.32 L311.45,533.45 L311.70,533.52 L311.95,533.56 L312.20,533.58 L312.45,533.59 L312.70,533.60 L312.95,533.60 L313.20,533.60 L313.45,533.60 L313.70,533.60 L313.95,533.60 L314.20,533.60 L314.45,533.60 L314.70,533.60 L314.95,533.60 L315.20,533.60 L315.45,533.60 L315.70,533.60 L315.95,533.60 L316.20,533.60 L316.45,533.60 L316.70,533.60 L316.95,533.60 L317.20,533.60 L317.45,533.60 L317.70,533.59 L317.95,533.59 L318.20,533.57 L318.45,533.53 L318.70,533.47 L318.95,533.35 L319.20,533.15 L319.45,532.84 L319.70,532.40 L319.95,531.82 L320.20,531.12 L320.45,530.35 L320.70,529.61 L320.95,528.99 L321.20,528.60 L321.45,528.50 L321.70,528.71 L321.95,529.17 L322.20,529.81 L322.45,530.49 L322.70,531.10 L322.95,531.53 L323.20,531.72 L323.45,531.65 L323.70,531.35 L323.95,530.87 L324.20,530.30 L324.45,529.77 L324.70,529.37 L324.95,529.20 L325.20,529.28 L325.45,529.62 L325.70,530.16 L325.95,530.80 L326.20,531.46 L326.45,532.06 L326.70,532.56 L326.95,532.94 L327.20,533.21 L327.45,533.38 L327.70,533.49 L327.95,533.54 L328.20,533.57 L328.45,533.59 L328.70,533.60 L328.95,533.60 L329.20,533.60 L329.45,533.60 L329.70,533.60 L329.95,533.60 L330.20,533.59 L330.45,533.58 L330.70,533.57 L330.95,533.53 L331.20,533.45 L331.45,533.32 L331.70,533.08 L331.95,532.70 L332.20,532.12 L332.45,531.28 L332.70,530.14 L332.95,528.71 L333.20,527.03 L333.45,525.23 L333.70,523.47 L333.95,521.95 L334.20,520.88 L334.45,520.41 L334.70,520.62 L334.95,521.46 L335.20,522.82 L335.45,524.51 L335.70,526.32 L335.95,528.06 L336.20,529.60 L336.45,530.86 L336.70,531.81 L336.95,532.50 L337.20,532.95 L337.45,533.24 L337.70,533.41 L337.95,533.50 L338.20,533.55 L338.45,533.58 L338.70,533.59 L338.95,533.60 L339.20,533.60 L339.45,533.60 L339.70,533.60 L339.95,533.60 L340.20,533.60 L340.45,533.60 L340.70,533.60 L340.95,533.60 L341.20,533.60 L341.45,533.60 L341.70,533.60 L341.95,533.60 L342.20,533.60 L342.45,533.60 L342.70,533.60 L342.95,533.60 L343.20,533.60 L343.45,533.60 L343.70,533.60 L343.95,533.60 L344.20,533.60 L344.45,533.60 L344.70,533.60 L344.95,533.60 L345.20,533.60 L345.45,533.60 L345.70,533.60 L345.95,533.60 L346.20,533.60 L346.45,533.60 L346.70,533.60 L346.95,533.60 L347.20,533.60 L347.45,533.60 L347.70,533.60 L347.95,533.60 L348.20,533.60 L348.45,533.60 L348.70,533.60 L348.95,533.60 L349.20,533.60 L349.45,533.60 L349.70,533.60 L349.95,533.60 L350.20,533.60 L350.45,533.60 L350.70,533.60 L350.95,533.60 L351.20,533.60 L351.45,533.60 L351.70,533.60 L351.95,533.60 L352.20,533.60 L352.45,533.60 L352.70,533.60 L352.95,533.60 L353.20,533.60 L353.45,533.60 L353.70,533.60 L353.95,533.60 L354.20,533.60 L354.45,533.60 L354.70,533.60 L354.95,533.60 L355.20,533.60 L355.45,533.60 L355.70,533.60 L355.95,533.60 L356.20,533.60 L356.45,533.60 L356.70,533.60 L356.95,533.60 L357.20,533.60 L357.45,533.60 L357.70,533.60 L357.95,533.60 L358.20,533.60 L358.45,533.60 L358.70,533.60 L358.95,533.60 L359.20,533.60 L359.45,533.60 L359.70,533.60 L359.95,533.60 L360.20,533.60 L360.45,533.60 L360.70,533.60 L360.95,533.60 L361.20,533.60 L361.45,533.60 L361.70,533.60 L361.95,533.60 L362.20,533.60 L362.45,533.60 L362.70,533.60 L362.95,533.60 L363.20,533.60 L363.45,533.60 L363.70,533.60 L363.95,533.60 L364.20,533.60 L364.45,533.60 L364.70,533.60 L364.95,533.60 L365.20,533.60 L365.45,533.59 L365.70,533.59 L365.95,533.57 L366.20,533.54 L366.45,533.48 L366.70,533.37 L366.95,533.19 L367.20,532.93 L367.45,532.55 L367.70,532.06 L367.95,531.48 L368.20,530.87 L368.45,530.28 L368.70,529.82 L368.95,529.55 L369.20,529.52 L369.45,529.74 L369.70,530.17 L369.95,530.72 L370.20,531.31 L370.45,531.85 L370.70,532.26 L370.95,532.49 L371.20,532.50 L371.45,532.28 L371.70,531.82 L371.95,531.16 L372.20,530.34 L372.45,529.47 L372.70,528.67 L372.95,528.05 L373.20,527.73 L373.45,527.77 L373.70,528.15 L373.95,528.82 L374.20,529.66 L374.45,530.55 L374.70,531.39 L374.95,532.09 L375.20,532.63 L375.45,533.02 L375.70,533.27 L375.95,533.42 L376.20,533.51 L376.45,533.56 L376.70,533.58 L376.95,533.59 L377.20,533.60 L377.45,533.60 L377.70,533.60 L377.95,533.60 L378.20,533.60 L378.45,533.60 L378.70,533.60 L378.95,533.60 L379.20,533.60 L379.45,533.59 L379.70,533.58 L379.95,533.55 L380.20,533.50 L380.45,533.41 L380.70,533.25 L380.95,532.97 L381.20,532.55 L381.45,531.91 L381.70,531.04 L381.95,529.90 L382.20,528.53 L382.45,527.00 L382.70,525.44 L382.95,524.03 L383.20,522.93 L383.45,522.31 L383.70,522.25 L383.95,522.76 L384.20,523.78 L384.45,525.14 L384.70,526.69 L384.95,528.23 L385.20,529.64 L385.45,530.83 L385.70,531.76 L385.95,532.44 L386.20,532.90 L386.45,533.20 L386.70,533.39 L386.95,533.49 L387.20,533.55 L387.45,533.58 L387.70,533.59 L387.95,533.60 L388.20,533.60 L388.45,533.60 L388.70,533.60 L388.95,533.60 L389.20,533.60 L389.45,533.60 L389.70,533.60 L389.95,533.60 L390.20,533.60 L390.45,533.60 L390.70,533.60 L390.95,533.60 L391.20,533.60 L391.45,533.60 L391.70,533.60 L391.95,533.60 L392.20,533.59 L392.45,533.59 L392.70,533.58 L392.95,533.56 L393.20,533.53 L393.45,533.49 L393.70,533.42 L393.95,533.32 L394.20,533.19 L394.45,533.02 L394.70,532.80 L394.95,532.55 L395.20,532.26 L395.45,531.96 L395.70,531.67 L395.95,531.40 L396.20,531.19 L396.45,531.05 L396.70,531.00 L396.95,531.05 L397.20,531.19 L397.45,531.40 L397.70,531.67 L397.95,531.96 L398.20,532.26 L398.45,532.55 L398.70,532.80 L398.95,533.02 L399.20,533.19 L399.45,533.32 L399.70,533.42 L399.95,533.49 L400.20,533.53 L400.45,533.56 L400.70,533.58 L400.95,533.59 L401.20,533.59 L401.45,533.60 L401.70,533.60 L401.95,533.60 L402.20,533.60 L402.45,533.60 L402.70,533.60 L402.95,533.60 L403.20,533.60 L403.45,533.60 L403.70,533.60 L403.95,533.60 L404.20,533.60 L404.45,533.60 L404.70,533.60 L404.95,533.60 L405.20,533.60 L405.45,533.60 L405.70,533.60 L405.95,533.60 L406.20,533.60 L406.45,533.60 L406.70,533.59 L406.95,533.59 L407.20,533.58 L407.45,533.56 L407.70,533.54 L407.95,533.50 L408.20,533.43 L408.45,533.34 L408.70,533.21 L408.95,533.03 L409.20,532.81 L409.45,532.55 L409.70,532.24 L409.95,531.91 L410.20,531.57 L410.45,531.26 L410.70,530.99 L410.95,530.80 L411.20,530.71 L411.45,530.72 L411.70,530.83 L411.95,531.04 L412.20,531.32 L412.45,531.64 L412.70,531.98 L412.95,532.30 L413.20,532.60 L413.45,532.86 L413.70,533.07 L413.95,533.24 L414.20,533.36 L414.45,533.45 L414.70,533.51 L414.95,533.54 L415.20,533.57 L415.45,533.58 L415.70,533.59 L415.95,533.60 L416.20,533.60 L416.45,533.60 L416.70,533.60 L416.95,533.60 L417.20,533.60 L417.45,533.60 L417.70,533.60 L417.95,533.60 L418.20,533.60 L418.45,533.60 L418.70,533.60 L418.95,533.60 L419.20,533.60 L419.45,533.60 L419.70,533.60 L419.95,533.60 L420.20,533.60 L420.45,533.60 L420.70,533.60 L420.95,533.60 L421.20,533.60 L421.45,533.60 L421.70,533.60 L421.95,533.60 L422.20,533.60 L422.45,533.60 L422.70,533.60 L422.95,533.60 L423.20,533.60 L423.45,533.60 L423.70,533.60 L423.95,533.60 L424.20,533.60 L424.45,533.60 L424.70,533.60 L424.95,533.60 L425.20,533.60 L425.45,533.60 L425.70,533.60 L425.95,533.60 L426.20,533.60 L426.45,533.60 L426.70,533.60 L426.95,533.60 L427.20,533.60 L427.45,533.60 L427.70,533.60 L427.95,533.60 L428.20,533.60 L428.45,533.60 L428.70,533.60 L428.95,533.60 L429.20,533.60 L429.45,533.60 L429.70,533.60 L429.95,533.60 L430.20,533.60 L430.45,533.60 L430.70,533.60 L430.95,533.60 L431.20,533.60 L431.45,533.60 L431.70,533.60 L431.95,533.60 L432.20,533.59 L432.45,533.59 L432.70,533.58 L432.95,533.55 L433.20,533.51 L433.45,533.45 L433.70,533.35 L433.95,533.21 L434.20,533.02 L434.45,532.78 L434.70,532.51 L434.95,532.21 L435.20,531.91 L435.45,531.66 L435.70,531.48 L435.95,531.40 L436.20,531.44 L436.45,531.58 L436.70,531.80 L436.95,532.08 L437.20,532.39 L437.45,532.68 L437.70,532.93 L437.95,533.14 L438.20,533.30 L438.45,533.42 L438.70,533.49 L438.95,533.54 L439.20,533.57 L439.45,533.58 L439.70,533.59 L439.95,533.60 L440.20,533.60 L440.45,533.60 L440.70,533.60 L440.95,533.60 L441.20,533.60 L441.45,533.60 L441.70,533.60 L441.95,533.59 L442.20,533.59 L442.45,533.58 L442.70,533.55 L442.95,533.51 L443.20,533.45 L443.45,533.35 L443.70,533.21 L443.95,533.04 L444.20,532.84 L444.45,532.62 L444.70,532.43 L444.95,532.28 L445.20,532.21 L445.45,532.22 L445.70,532.31 L445.95,532.47 L446.20,532.67 L446.45,532.88 L446.70,533.07 L446.95,533.24 L447.20,533.37 L447.45,533.46 L447.70,533.52 L447.95,533.56 L448.20,533.58 L448.45,533.59 L448.70,533.60 L448.95,533.60 L449.20,533.60 L449.45,533.60 L449.70,533.60 L449.95,533.60 L450.20,533.60 L450.45,533.60 L450.70,533.60 L450.95,533.60 L451.20,533.60 L451.45,533.60 L451.70,533.60 L451.95,533.60 L452.20,533.60 L452.45,533.60 L452.70,533.60 L452.95,533.60 L453.20,533.60 L453.45,533.60 L453.70,533.60 L453.95,533.60 L454.20,533.60 L454.45,533.60 L454.70,533.60 L454.95,533.60 L455.20,533.60 L455.45,533.60 L455.70,533.60 L455.95,533.60 L456.20,533.60 L456.45,533.60 L456.70,533.60 L456.95,533.60 L457.20,533.60 L457.45,533.60 L457.70,533.60 L457.95,533.60 L458.20,533.60 L458.45,533.60 L458.70,533.60 L458.95,533.60 L459.20,533.60 L459.45,533.60 L459.70,533.60 L459.95,533.60 L460.20,533.60 L460.45,533.59 L460.70,533.59 L460.95,533.57 L461.20,533.55 L461.45,533.51 L461.70,533.46 L461.95,533.37 L462.20,533.25 L462.45,533.09 L462.70,532.89 L462.95,532.64 L463.20,532.38 L463.45,532.10 L463.70,531.84 L463.95,531.62 L464.20,531.47 L464.45,531.40 L464.70,531.43 L464.95,531.55 L465.20,531.74 L465.45,531.99 L465.70,532.27 L465.95,532.54 L466.20,532.79 L466.45,533.01 L466.70,533.19 L466.95,533.33 L467.20,533.42 L467.45,533.49 L467.70,533.54 L467.95,533.56 L468.20,533.58 L468.45,533.59 L468.70,533.60 L468.95,533.60 L469.20,533.60 L469.45,533.60 L469.70,533.60 L469.95,533.60 L470.20,533.60 L470.45,533.60 L470.70,533.60 L470.95,533.60 L471.20,533.60 L471.45,533.60 L471.70,533.60 L471.95,533.59 L472.20,533.59 L472.45,533.57 L472.70,533.55 L472.95,533.51 L473.20,533.44 L473.45,533.35 L473.70,533.21 L473.95,533.02 L474.20,532.77 L474.45,532.47 L474.70,532.13 L474.95,531.77 L475.20,531.41 L475.45,531.10 L475.70,530.86 L475.95,530.72 L476.20,530.71 L476.45,530.82 L476.70,531.04 L476.95,531.34 L477.20,531.69 L477.45,532.06 L477.70,532.41 L477.95,532.72 L478.20,532.97 L478.45,533.17 L478.70,533.32 L478.95,533.43 L479.20,533.50 L479.45,533.54 L479.70,533.57 L479.95,533.58 L480.20,533.59 L480.45,533.60 L480.70,533.60 L480.95,533.60 L481.20,533.60 L481.45,533.60 L481.70,533.60 L481.95,533.60 L482.20,533.60 L482.45,533.60 L482.70,533.60 L482.95,533.60 L483.20,533.60 L483.45,533.60 L483.70,533.60 L483.95,533.60 L484.20,533.60 L484.45,533.60 L484.70,533.60 L484.95,533.60 L485.20,533.60 L485.45,533.60 L485.70,533.60 L485.95,533.60 L486.20,533.60 L486.45,533.60 L486.70,533.60 L486.95,533.60 L487.20,533.60 L487.45,533.60 L487.70,533.60 L487.95,533.60 L488.20,533.60 L488.45,533.60 L488.70,533.60 L488.95,533.60 L489.20,533.60 L489.45,533.60 L489.70,533.60 L489.95,533.60 L490.20,533.60 L490.45,533.60 L490.70,533.60 L490.95,533.60 L491.20,533.60 L491.45,533.60 L491.70,533.60 L491.95,533.60 L492.20,533.60 L492.45,533.60 L492.70,533.60 L492.95,533.60 L493.20,533.60 L493.45,533.60 L493.70,533.60 L493.95,533.60 L494.20,533.60 L494.45,533.60 L494.70,533.60 L494.95,533.60 L495.20,533.60 L495.45,533.60 L495.70,533.60 L495.95,533.60 L496.20,533.60 L496.45,533.60 L496.70,533.60 L496.95,533.60 L497.20,533.60 L497.45,533.60 L497.70,533.60 L497.95,533.60 L498.20,533.60 L498.45,533.60 L498.70,533.60 L498.95,533.60 L499.20,533.60 L499.45,533.60 L499.70,533.60 L499.95,533.60 L500.20,533.60 L500.45,533.60 L500.70,533.60 L500.95,533.60" fill="none" stroke="#151515" stroke-width="0.55"/>
<line x1="125.86" y1="530.1" x2="125.86" y2="533.6" stroke="#d83030" stroke-width="0.5"/>
<line x1="133.34" y1="530.1" x2="133.34" y2="533.6" stroke="#d83030" stroke-width="0.5"/>
<line x1="175.58" y1="530.1" x2="175.58" y2="533.6" stroke="#d83030" stroke-width="0.5"/>
<line x1="184.42" y1="530.1" x2="184.42" y2="533.6" stroke="#d83030" stroke-width="0.5"/>
<line x1="218.54" y1="530.1" x2="218.54" y2="533.6" stroke="#d83030" stroke-width="0.5"/>
<line x1="234.86" y1="530.1" x2="234.86" y2="533.6" stroke="#d83030" stroke-width="0.5"/>
<line x1="248.40" y1="530.1" x2="248.40" y2="533.6" stroke="#d83030" stroke-width="0.5"/>
<line x1="255.20" y1="530.1" x2="255.20" y2="533.6" stroke="#d83030" stroke-width="0.5"/>
<line x1="258.46" y1="530.1" x2="258.46" y2="533.6" stroke="#d83030" stroke-width="0.5"/>
<line x1="265.94" y1="530.1" x2="265.94" y2="533.6" stroke="#d83030" stroke-width="0.5"/>
<line x1="266.32" y1="530.1" x2="266.32" y2="533.6" stroke="#d83030" stroke-width="0.5"/>
<line x1="274.48" y1="530.1" x2="274.48" y2="533.6" stroke="#d83030" stroke-width="0.5"/>
<line x1="284.40" y1="530.1" x2="284.40" y2="533.6" stroke="#d83030" stroke-width="0.5"/>
<line x1="291.20" y1="530.1" x2="291.20" y2="533.6" stroke="#d83030" stroke-width="0.5"/>
<line x1="291.16" y1="530.1" x2="291.16" y2="533.6" stroke="#d83030" stroke-width="0.5"/>
<line x1="298.64" y1="530.1" x2="298.64" y2="533.6" stroke="#d83030" stroke-width="0.5"/>
<line x1="297.32" y1="530.1" x2="297.32" y2="533.6" stroke="#d83030" stroke-width="0.5"/>
<line x1="305.48" y1="530.1" x2="305.48" y2="533.6" stroke="#d83030" stroke-width="0.5"/>
<line x1="305.60" y1="530.1" x2="305.60" y2="533.6" stroke="#d83030" stroke-width="0.5"/>
<line x1="312.40" y1="530.1" x2="312.40" y2="533.6" stroke="#d83030" stroke-width="0.5"/>
<line x1="318.00" y1="530.1" x2="318.00" y2="533.6" stroke="#d83030" stroke-width="0.5"/>
<line x1="324.80" y1="530.1" x2="324.80" y2="533.6" stroke="#d83030" stroke-width="0.5"/>
<line x1="321.60" y1="530.1" x2="321.60" y2="533.6" stroke="#d83030" stroke-width="0.5"/>
<line x1="328.40" y1="530.1" x2="328.40" y2="533.6" stroke="#d83030" stroke-width="0.5"/>
<line x1="330.76" y1="530.1" x2="330.76" y2="533.6" stroke="#d83030" stroke-width="0.5"/>
<line x1="338.24" y1="530.1" x2="338.24" y2="533.6" stroke="#d83030" stroke-width="0.5"/>
<line x1="365.70" y1="530.1" x2="365.70" y2="533.6" stroke="#d83030" stroke-width="0.5"/>
<line x1="372.50" y1="530.1" x2="372.50" y2="533.6" stroke="#d83030" stroke-width="0.5"/>
<line x1="369.90" y1="530.1" x2="369.90" y2="533.6" stroke="#d83030" stroke-width="0.5"/>
<line x1="376.70" y1="530.1" x2="376.70" y2="533.6" stroke="#d83030" stroke-width="0.5"/>
<line x1="379.86" y1="530.1" x2="379.86" y2="533.6" stroke="#d83030" stroke-width="0.5"/>
<line x1="387.34" y1="530.1" x2="387.34" y2="533.6" stroke="#d83030" stroke-width="0.5"/>
<line x1="392.28" y1="530.1" x2="392.28" y2="533.6" stroke="#d83030" stroke-width="0.5"/>
<line x1="401.12" y1="530.1" x2="401.12" y2="533.6" stroke="#d83030" stroke-width="0.5"/>
<line x1="406.88" y1="530.1" x2="406.88" y2="533.6" stroke="#d83030" stroke-width="0.5"/>
<line x1="415.72" y1="530.1" x2="415.72" y2="533.6" stroke="#d83030" stroke-width="0.5"/>
<line x1="432.26" y1="530.1" x2="432.26" y2="533.6" stroke="#d83030" stroke-width="0.5"/>
<line x1="439.74" y1="530.1" x2="439.74" y2="533.6" stroke="#d83030" stroke-width="0.5"/>
<line x1="441.90" y1="530.1" x2="441.90" y2="533.6" stroke="#d83030" stroke-width="0.5"/>
<line x1="448.70" y1="530.1" x2="448.70" y2="533.6" stroke="#d83030" stroke-width="0.5"/>
<line x1="460.42" y1="530.1" x2="460.42" y2="533.6" stroke="#d83030" stroke-width="0.5"/>
<line x1="468.58" y1="530.1" x2="468.58" y2="533.6" stroke="#d83030" stroke-width="0.5"/>
<line x1="472.02" y1="530.1" x2="472.02" y2="533.6" stroke="#d83030" stroke-width="0.5"/>
<line x1="480.18" y1="530.1" x2="480.18" y2="533.6" stroke="#d83030" stroke-width="0.5"/>
<line x1="83.7" y1="536.2" x2="501" y2="536.2" stroke="#222" stroke-width="1.0"/>
<line x1="83.7" y1="405.5" x2="83.7" y2="536.2" stroke="#222" stroke-width="1.1"/>
<line x1="84.00" y1="536.2" x2="84.00" y2="538.0" stroke="#222" stroke-width="0.6"/>
<line x1="92.16" y1="536.2" x2="92.16" y2="538.0" stroke="#222" stroke-width="0.6"/>
<line x1="100.33" y1="536.2" x2="100.33" y2="538.0" stroke="#222" stroke-width="0.6"/>
<line x1="108.50" y1="536.2" x2="108.50" y2="538.0" stroke="#222" stroke-width="0.6"/>
<line x1="116.66" y1="536.2" x2="116.66" y2="538.0" stroke="#222" stroke-width="0.6"/>
<line x1="124.82" y1="536.2" x2="124.82" y2="538.0" stroke="#222" stroke-width="0.6"/>
<line x1="132.99" y1="536.2" x2="132.99" y2="538.0" stroke="#222" stroke-width="0.6"/>
<line x1="141.16" y1="536.2" x2="141.16" y2="538.0" stroke="#222" stroke-width="0.6"/>
<line x1="149.32" y1="536.2" x2="149.32" y2="538.0" stroke="#222" stroke-width="0.6"/>
<line x1="157.48" y1="536.2" x2="157.48" y2="538.0" stroke="#222" stroke-width="0.6"/>
<line x1="165.65" y1="536.2" x2="165.65" y2="538.0" stroke="#222" stroke-width="0.6"/>
<line x1="173.81" y1="536.2" x2="173.81" y2="538.0" stroke="#222" stroke-width="0.6"/>
<line x1="181.98" y1="536.2" x2="181.98" y2="538.0" stroke="#222" stroke-width="0.6"/>
<line x1="190.14" y1="536.2" x2="190.14" y2="538.0" stroke="#222" stroke-width="0.6"/>
<line x1="198.31" y1="536.2" x2="198.31" y2="538.0" stroke="#222" stroke-width="0.6"/>
<line x1="206.47" y1="536.2" x2="206.47" y2="538.0" stroke="#222" stroke-width="0.6"/>
<line x1="214.64" y1="536.2" x2="214.64" y2="538.0" stroke="#222" stroke-width="0.6"/>
<line x1="222.80" y1="536.2" x2="222.80" y2="538.0" stroke="#222" stroke-width="0.6"/>
<line x1="230.97" y1="536.2" x2="230.97" y2="538.0" stroke="#222" stroke-width="0.6"/>
<line x1="239.13" y1="536.2" x2="239.13" y2="538.0" stroke="#222" stroke-width="0.6"/>
<line x1="247.30" y1="536.2" x2="247.30" y2="538.0" stroke="#222" stroke-width="0.6"/>
<line x1="255.46" y1="536.2" x2="255.46" y2="538.0" stroke="#222" stroke-width="0.6"/>
<line x1="263.63" y1="536.2" x2="263.63" y2="538.0" stroke="#222" stroke-width="0.6"/>
<line x1="271.79" y1="536.2" x2="271.79" y2="538.0" stroke="#222" stroke-width="0.6"/>
<line x1="279.96" y1="536.2" x2="279.96" y2="538.0" stroke="#222" stroke-width="0.6"/>
<line x1="288.12" y1="536.2" x2="288.12" y2="538.0" stroke="#222" stroke-width="0.6"/>
<line x1="296.29" y1="536.2" x2="296.29" y2="538.0" stroke="#222" stroke-width="0.6"/>
<line x1="304.45" y1="536.2" x2="304.45" y2="538.0" stroke="#222" stroke-width="0.6"/>
<line x1="312.62" y1="536.2" x2="312.62" y2="538.0" stroke="#222" stroke-width="0.6"/>
<line x1="320.78" y1="536.2" x2="320.78" y2="538.0" stroke="#222" stroke-width="0.6"/>
<line x1="328.95" y1="536.2" x2="328.95" y2="538.0" stroke="#222" stroke-width="0.6"/>
<line x1="337.12" y1="536.2" x2="337.12" y2="538.0" stroke="#222" stroke-width="0.6"/>
<line x1="345.28" y1="536.2" x2="345.28" y2="538.0" stroke="#222" stroke-width="0.6"/>
<line x1="353.44" y1="536.2" x2="353.44" y2="538.0" stroke="#222" stroke-width="0.6"/>
<line x1="361.61" y1="536.2" x2="361.61" y2="538.0" stroke="#222" stroke-width="0.6"/>
<line x1="369.77" y1="536.2" x2="369.77" y2="538.0" stroke="#222" stroke-width="0.6"/>
<line x1="377.94" y1="536.2" x2="377.94" y2="538.0" stroke="#222" stroke-width="0.6"/>
<line x1="386.10" y1="536.2" x2="386.10" y2="538.0" stroke="#222" stroke-width="0.6"/>
<line x1="394.27" y1="536.2" x2="394.27" y2="538.0" stroke="#222" stroke-width="0.6"/>
<line x1="402.43" y1="536.2" x2="402.43" y2="538.0" stroke="#222" stroke-width="0.6"/>
<line x1="410.60" y1="536.2" x2="410.60" y2="538.0" stroke="#222" stroke-width="0.6"/>
<line x1="418.76" y1="536.2" x2="418.76" y2="538.0" stroke="#222" stroke-width="0.6"/>
<line x1="426.93" y1="536.2" x2="426.93" y2="538.0" stroke="#222" stroke-width="0.6"/>
<line x1="435.09" y1="536.2" x2="435.09" y2="538.0" stroke="#222" stroke-width="0.6"/>
<line x1="443.26" y1="536.2" x2="443.26" y2="538.0" stroke="#222" stroke-width="0.6"/>
<line x1="451.42" y1="536.2" x2="451.42" y2="538.0" stroke="#222" stroke-width="0.6"/>
<line x1="459.59" y1="536.2" x2="459.59" y2="538.0" stroke="#222" stroke-width="0.6"/>
<line x1="467.75" y1="536.2" x2="467.75" y2="538.0" stroke="#222" stroke-width="0.6"/>
<line x1="475.92" y1="536.2" x2="475.92" y2="538.0" stroke="#222" stroke-width="0.6"/>
<line x1="484.08" y1="536.2" x2="484.08" y2="538.0" stroke="#222" stroke-width="0.6"/>
<line x1="492.25" y1="536.2" x2="492.25" y2="538.0" stroke="#222" stroke-width="0.6"/>
<line x1="82.2" y1="533.60" x2="83.7" y2="533.60" stroke="#222" stroke-width="0.5"/>
<line x1="82.2" y1="525.35" x2="83.7" y2="525.35" stroke="#222" stroke-width="0.5"/>
<line x1="82.2" y1="517.10" x2="83.7" y2="517.10" stroke="#222" stroke-width="0.5"/>
<line x1="82.2" y1="508.85" x2="83.7" y2="508.85" stroke="#222" stroke-width="0.5"/>
<line x1="82.2" y1="500.60" x2="83.7" y2="500.60" stroke="#222" stroke-width="0.5"/>
<line x1="82.2" y1="492.35" x2="83.7" y2="492.35" stroke="#222" stroke-width="0.5"/>
<line x1="82.2" y1="484.10" x2="83.7" y2="484.10" stroke="#222" stroke-width="0.5"/>
<line x1="82.2" y1="475.85" x2="83.7" y2="475.85" stroke="#222" stroke-width="0.5"/>
<line x1="82.2" y1="467.60" x2="83.7" y2="467.60" stroke="#222" stroke-width="0.5"/>
<line x1="82.2" y1="459.35" x2="83.7" y2="459.35" stroke="#222" stroke-width="0.5"/>
<line x1="82.2" y1="451.10" x2="83.7" y2="451.10" stroke="#222" stroke-width="0.5"/>
<line x1="82.2" y1="442.85" x2="83.7" y2="442.85" stroke="#222" stroke-width="0.5"/>
<line x1="82.2" y1="434.60" x2="83.7" y2="434.60" stroke="#222" stroke-width="0.5"/>
<line x1="82.2" y1="426.35" x2="83.7" y2="426.35" stroke="#222" stroke-width="0.5"/>
<line x1="82.2" y1="418.10" x2="83.7" y2="418.10" stroke="#222" stroke-width="0.5"/>
<line x1="82.2" y1="409.85" x2="83.7" y2="409.85" stroke="#222" stroke-width="0.5"/>
<line x1="80.7" y1="533.60" x2="83.7" y2="533.60" stroke="#222" stroke-width="0.6"/>
<text x="80.2" y="535.9" font-size="6.6" text-anchor="end" fill="#444" font-family="'DejaVu Sans', 'Liberation Sans', sans-serif">0</text>
<line x1="80.7" y1="492.40" x2="83.7" y2="492.40" stroke="#222" stroke-width="0.6"/>
<text x="80.2" y="494.7" font-size="6.6" text-anchor="end" fill="#444" font-family="'DejaVu Sans', 'Liberation Sans', sans-serif">250</text>
<line x1="80.7" y1="451.10" x2="83.7" y2="451.10" stroke="#222" stroke-width="0.6"/>
<text x="80.2" y="453.4" font-size="6.6" text-anchor="end" fill="#444" font-family="'DejaVu Sans', 'Liberation Sans', sans-serif">500</text>
<line x1="80.7" y1="409.90" x2="83.7" y2="409.90" stroke="#222" stroke-width="0.6"/>
<text x="80.2" y="412.2" font-size="6.6" text-anchor="end" fill="#444" font-family="'DejaVu Sans', 'Liberation Sans', sans-serif">750</text>
<text x="84.0" y="545.7" font-size="6.6" text-anchor="middle" fill="#444" font-family="'DejaVu Sans', 'Liberation Sans', sans-serif">10</text>
<text x="124.8" y="545.7" font-size="6.6" text-anchor="middle" fill="#444" font-family="'DejaVu Sans', 'Liberation Sans', sans-serif">12.5</text>
<text x="165.6" y="545.7" font-size="6.6" text-anchor="middle" fill="#444" font-family="'DejaVu Sans', 'Liberation Sans', sans-serif">15</text>
<text x="206.5" y="545.7" font-size="6.6" text-anchor="middle" fill="#444" font-family="'DejaVu Sans', 'Liberation Sans', sans-serif">17.5</text>
<text x="247.3" y="545.7" font-size="6.6" text-anchor="middle" fill="#444" font-family="'DejaVu Sans', 'Liberation Sans', sans-serif">20</text>
<text x="288.1" y="545.7" font-size="6.6" text-anchor="middle" fill="#444" font-family="'DejaVu Sans', 'Liberation Sans', sans-serif">22.5</text>
<text x="328.9" y="545.7" font-size="6.6" text-anchor="middle" fill="#444" font-family="'DejaVu Sans', 'Liberation Sans', sans-serif">25</text>
<text x="369.8" y="545.7" font-size="6.6" text-anchor="middle" fill="#444" font-family="'DejaVu Sans', 'Liberation Sans', sans-serif">27.5</text>
<text x="410.6" y="545.7" font-size="6.6" text-anchor="middle" fill="#444" font-family="'DejaVu Sans', 'Liberation Sans', sans-serif">30</text>
<text x="451.4" y="545.7" font-size="6.6" text-anchor="middle" fill="#444" font-family="'DejaVu Sans', 'Liberation Sans', sans-serif">32.5</text>
<text x="492.2" y="545.7" font-size="6.6" text-anchor="middle" fill="#444" font-family="'DejaVu Sans', 'Liberation Sans', sans-serif">35</text>
<text x="292.9" y="557.3" font-size="6.8" text-anchor="middle" fill="#444" font-family="'DejaVu Sans', 'Liberation Sans', sans-serif" textLength="69" lengthAdjust="spacingAndGlyphs">Retention time [min]</text>
<text x="61.2" y="470.5" font-size="7.4" text-anchor="middle" fill="#444" font-family="'DejaVu Sans', 'Liberation Sans', sans-serif" textLength="16.8" lengthAdjust="spacingAndGlyphs" transform="rotate(-90 61.2 470.5)">Signal</text>
<line x1="105.9" y1="283.1" x2="118.1" y2="282.7" stroke="#333" stroke-width="0.6"/><text x="112.00" y="284.99" font-size="2.20" fill="#333" text-anchor="middle" font-family="'Liberation Sans', Arial, sans-serif" transform="rotate(-1.9 112.00 282.90)">&#945; 2</text><line x1="118.1" y1="282.7" x2="130.5" y2="287.8" stroke="#333" stroke-width="0.6"/><text x="124.30" y="287.34" font-size="2.20" fill="#333" text-anchor="middle" font-family="'Liberation Sans', Arial, sans-serif" transform="rotate(22.4 124.30 285.25)">&#945; 2</text><line x1="118.1" y1="293.3" x2="130.5" y2="287.8" stroke="#333" stroke-width="0.6"/><text x="124.30" y="292.64" font-size="2.20" fill="#333" text-anchor="middle" font-family="'Liberation Sans', Arial, sans-serif" transform="rotate(-23.9 124.30 290.55)">&#945; 2</text><line x1="130.5" y1="287.8" x2="142.8" y2="296" stroke="#333" stroke-width="0.6"/><text x="136.65" y="293.99" font-size="2.20" fill="#333" text-anchor="middle" font-family="'Liberation Sans', Arial, sans-serif" transform="rotate(33.7 136.65 291.90)">&#945; 2</text><line x1="93.2" y1="303.6" x2="105.9" y2="303.6" stroke="#333" stroke-width="0.6"/><text x="99.55" y="305.69" font-size="2.20" fill="#333" text-anchor="middle" font-family="'Liberation Sans', Arial, sans-serif" transform="rotate(0.0 99.55 303.60)">&#945; 2</text><line x1="105.9" y1="303.6" x2="118.1" y2="303.6" stroke="#333" stroke-width="0.6"/><text x="112.00" y="305.69" font-size="2.20" fill="#333" text-anchor="middle" font-family="'Liberation Sans', Arial, sans-serif" transform="rotate(0.0 112.00 303.60)">&#945; 2</text><line x1="118.1" y1="303.6" x2="130.5" y2="303.6" stroke="#333" stroke-width="0.6"/><text x="124.30" y="305.69" font-size="2.20" fill="#333" text-anchor="middle" font-family="'Liberation Sans', Arial, sans-serif" transform="rotate(0.0 124.30 303.60)">&#945; 2</text><line x1="130.5" y1="303.6" x2="142.8" y2="296" stroke="#333" stroke-width="0.6"/><text x="136.65" y="301.89" font-size="2.20" fill="#333" text-anchor="middle" font-family="'Liberation Sans', Arial, sans-serif" transform="rotate(-31.7 136.65 299.80)">&#945; 2</text><line x1="142.8" y1="296" x2="155" y2="296" stroke="#333" stroke-width="0.6"/><text x="148.90" y="298.09" font-size="2.20" fill="#333" text-anchor="middle" font-family="'Liberation Sans', Arial, sans-serif" transform="rotate(0.0 148.90 296.00)">&#946; 4</text><line x1="155" y1="296" x2="167.4" y2="296" stroke="#333" stroke-width="0.6"/><text x="161.20" y="298.09" font-size="2.20" fill="#333" text-anchor="middle" font-family="'Liberation Sans', Arial, sans-serif" transform="rotate(0.0 161.20 296.00)">&#946; 4</text><line x1="167.4" y1="296" x2="177.5" y2="296" stroke="#444" stroke-width="0.45"/><text x="177.8" y="297.0" font-size="3.0" fill="#333" font-family="'Liberation Sans', Arial, sans-serif">2AB</text><ellipse cx="105.9" cy="283.1" rx="2.46" ry="2.20" fill="#22cc22" stroke="#086008" stroke-width="0.45"/><ellipse cx="118.1" cy="282.7" rx="2.46" ry="2.20" fill="#22cc22" stroke="#086008" stroke-width="0.45"/><ellipse cx="130.5" cy="287.8" rx="2.46" ry="2.20" fill="#22cc22" stroke="#086008" stroke-width="0.45"/><ellipse cx="118.1" cy="293.3" rx="2.46" ry="2.20" fill="#22cc22" stroke="#086008" stroke-width="0.45"/><ellipse cx="142.8" cy="296" rx="2.46" ry="2.20" fill="#22cc22" stroke="#086008" stroke-width="0.45"/><ellipse cx="93.2" cy="303.6" rx="2.46" ry="2.20" fill="#22cc22" stroke="#086008" stroke-width="0.45"/><ellipse cx="105.9" cy="303.6" rx="2.46" ry="2.20" fill="#22cc22" stroke="#086008" stroke-width="0.45"/><ellipse cx="118.1" cy="303.6" rx="2.46" ry="2.20" fill="#22cc22" stroke="#086008" stroke-width="0.45"/><ellipse cx="130.5" cy="303.6" rx="2.46" ry="2.20" fill="#22cc22" stroke="#086008" stroke-width="0.45"/><rect x="152.50" y="293.88" width="5" height="4.25" fill="#0008e6" stroke="#00008a" stroke-width="0.3"/><rect x="164.90" y="293.88" width="5" height="4.25" fill="#0008e6" stroke="#00008a" stroke-width="0.3"/>
<line x1="241.9" y1="264.5" x2="258.6" y2="264.5" stroke="#333" stroke-width="0.6"/><text x="250.25" y="266.59" font-size="2.20" fill="#333" text-anchor="middle" font-family="'Liberation Sans', Arial, sans-serif" transform="rotate(0.0 250.25 264.50)">&#945; 2</text><line x1="258.6" y1="264.5" x2="269.5" y2="264.5" stroke="#333" stroke-width="0.6"/><text x="264.05" y="266.59" font-size="2.20" fill="#333" text-anchor="middle" font-family="'Liberation Sans', Arial, sans-serif" transform="rotate(0.0 264.05 264.50)">&#945; 2</text><line x1="269.5" y1="264.5" x2="280.8" y2="269" stroke="#333" stroke-width="0.6"/><text x="275.15" y="268.84" font-size="2.20" fill="#333" text-anchor="middle" font-family="'Liberation Sans', Arial, sans-serif" transform="rotate(21.7 275.15 266.75)">&#945; 2</text><line x1="269.5" y1="273.7" x2="280.8" y2="269" stroke="#333" stroke-width="0.6"/><text x="275.15" y="273.44" font-size="2.20" fill="#333" text-anchor="middle" font-family="'Liberation Sans', Arial, sans-serif" transform="rotate(-22.6 275.15 271.35)">&#945; 2</text><line x1="280.8" y1="269" x2="291.4" y2="276.3" stroke="#333" stroke-width="0.6"/><text x="286.10" y="274.74" font-size="2.20" fill="#333" text-anchor="middle" font-family="'Liberation Sans', Arial, sans-serif" transform="rotate(34.6 286.10 272.65)">&#945; 2</text><line x1="241.9" y1="283.2" x2="258.6" y2="283.2" stroke="#333" stroke-width="0.6"/><text x="250.25" y="285.29" font-size="2.20" fill="#333" text-anchor="middle" font-family="'Liberation Sans', Arial, sans-serif" transform="rotate(0.0 250.25 283.20)">&#945; 2</text><line x1="258.6" y1="283.2" x2="269.5" y2="283.2" stroke="#333" stroke-width="0.6"/><text x="264.05" y="285.29" font-size="2.20" fill="#333" text-anchor="middle" font-family="'Liberation Sans', Arial, sans-serif" transform="rotate(0.0 264.05 283.20)">&#945; 2</text><line x1="269.5" y1="283.2" x2="280.8" y2="283.2" stroke="#333" stroke-width="0.6"/><text x="275.15" y="285.29" font-size="2.20" fill="#333" text-anchor="middle" font-family="'Liberation Sans', Arial, sans-serif" transform="rotate(0.0 275.15 283.20)">&#945; 2</text><line x1="280.8" y1="283.2" x2="291.4" y2="276.3" stroke="#333" stroke-width="0.6"/><text x="286.10" y="281.84" font-size="2.20" fill="#333" text-anchor="middle" font-family="'Liberation Sans', Arial, sans-serif" transform="rotate(-33.1 286.10 279.75)">&#945; 2</text><line x1="291.4" y1="276.3" x2="301.9" y2="276.3" stroke="#333" stroke-width="0.6"/><text x="296.65" y="278.39" font-size="2.20" fill="#333" text-anchor="middle" font-family="'Liberation Sans', Arial, sans-serif" transform="rotate(0.0 296.65 276.30)">&#946; 4</text><line x1="301.9" y1="276.3" x2="312.8" y2="276.3" stroke="#333" stroke-width="0.6"/><text x="307.35" y="278.39" font-size="2.20" fill="#333" text-anchor="middle" font-family="'Liberation Sans', Arial, sans-serif" transform="rotate(0.0 307.35 276.30)">&#946; 4</text><line x1="312.8" y1="276.3" x2="321.5" y2="276.3" stroke="#444" stroke-width="0.45"/><text x="321.8" y="277.3" font-size="3.0" fill="#333" font-family="'Liberation Sans', Arial, sans-serif">2AB</text><ellipse cx="241.9" cy="264.5" rx="2.13" ry="1.90" fill="#22cc22" stroke="#086008" stroke-width="0.45"/><ellipse cx="258.6" cy="264.5" rx="2.13" ry="1.90" fill="#22cc22" stroke="#086008" stroke-width="0.45"/><ellipse cx="269.5" cy="264.5" rx="2.13" ry="1.90" fill="#22cc22" stroke="#086008" stroke-width="0.45"/><ellipse cx="280.8" cy="269" rx="2.13" ry="1.90" fill="#22cc22" stroke="#086008" stroke-width="0.45"/><ellipse cx="269.5" cy="273.7" rx="2.13" ry="1.90" fill="#22cc22" stroke="#086008" stroke-width="0.45"/><ellipse cx="291.4" cy="276.3" rx="2.13" ry="1.90" fill="#22cc22" stroke="#086008" stroke-width="0.45"/><ellipse cx="241.9" cy="283.2" rx="2.13" ry="1.90" fill="#22cc22" stroke="#086008" stroke-width="0.45"/><ellipse cx="258.6" cy="283.2" rx="2.13" ry="1.90" fill="#22cc22" stroke="#086008" stroke-width="0.45"/><ellipse cx="269.5" cy="283.2" rx="2.13" ry="1.90" fill="#22cc22" stroke="#086008" stroke-width="0.45"/><ellipse cx="280.8" cy="283.2" rx="2.13" ry="1.90" fill="#22cc22" stroke="#086008" stroke-width="0.45"/><rect x="299.70" y="274.43" width="4.4" height="3.74" fill="#0008e6" stroke="#00008a" stroke-width="0.3"/><rect x="310.60" y="274.43" width="4.4" height="3.74" fill="#0008e6" stroke="#00008a" stroke-width="0.3"/><text x="234" y="262.2" font-size="3.3" fill="#444" font-family="'Liberation Sans', Arial, sans-serif" textLength="12.3" lengthAdjust="spacingAndGlyphs">phosphate</text><text x="234" y="280.2" font-size="3.3" fill="#444" font-family="'Liberation Sans', Arial, sans-serif" textLength="12.3" lengthAdjust="spacingAndGlyphs">phosphate</text>
<line x1="234.5" y1="325.8" x2="245.5" y2="325.8" stroke="#333" stroke-width="0.6"/><text x="240.00" y="327.89" font-size="2.20" fill="#333" text-anchor="middle" font-family="'Liberation Sans', Arial, sans-serif" transform="rotate(0.0 240.00 325.80)">&#945; 2</text><line x1="245.5" y1="325.8" x2="256.4" y2="325.8" stroke="#333" stroke-width="0.6"/><text x="250.95" y="327.89" font-size="2.20" fill="#333" text-anchor="middle" font-family="'Liberation Sans', Arial, sans-serif" transform="rotate(0.0 250.95 325.80)">&#945; 2</text><line x1="256.4" y1="325.8" x2="266.9" y2="331.8" stroke="#333" stroke-width="0.6"/><text x="261.65" y="330.89" font-size="2.20" fill="#333" text-anchor="middle" font-family="'Liberation Sans', Arial, sans-serif" transform="rotate(29.7 261.65 328.80)">&#945; 2</text><line x1="266.9" y1="322.7" x2="277.8" y2="327.3" stroke="#333" stroke-width="0.6"/><text x="272.35" y="327.09" font-size="2.20" fill="#333" text-anchor="middle" font-family="'Liberation Sans', Arial, sans-serif" transform="rotate(22.9 272.35 325.00)">&#945; 2</text><line x1="266.9" y1="331.8" x2="277.8" y2="327.3" stroke="#333" stroke-width="0.6"/><text x="272.35" y="331.64" font-size="2.20" fill="#333" text-anchor="middle" font-family="'Liberation Sans', Arial, sans-serif" transform="rotate(-22.4 272.35 329.55)">&#945; 2</text><line x1="228.7" y1="338.5" x2="245.5" y2="338.5" stroke="#333" stroke-width="0.6"/><text x="237.10" y="340.59" font-size="2.20" fill="#333" text-anchor="middle" font-family="'Liberation Sans', Arial, sans-serif" transform="rotate(0.0 237.10 338.50)">&#945; 2</text><line x1="245.5" y1="338.5" x2="256.4" y2="338.5" stroke="#333" stroke-width="0.6"/><text x="250.95" y="340.59" font-size="2.20" fill="#333" text-anchor="middle" font-family="'Liberation Sans', Arial, sans-serif" transform="rotate(0.0 250.95 338.50)">&#945; 2</text><line x1="256.4" y1="338.5" x2="266.9" y2="331.8" stroke="#333" stroke-width="0.6"/><text x="261.65" y="337.24" font-size="2.20" fill="#333" text-anchor="middle" font-family="'Liberation Sans', Arial, sans-serif" transform="rotate(-32.5 261.65 335.15)">&#945; 2</text><line x1="277.8" y1="327.3" x2="288.2" y2="327.3" stroke="#333" stroke-width="0.6"/><text x="283.00" y="329.39" font-size="2.20" fill="#333" text-anchor="middle" font-family="'Liberation Sans', Arial, sans-serif" transform="rotate(0.0 283.00 327.30)">&#946; 4</text><line x1="288.2" y1="327.3" x2="298.7" y2="327.3" stroke="#333" stroke-width="0.6"/><text x="293.45" y="329.39" font-size="2.20" fill="#333" text-anchor="middle" font-family="'Liberation Sans', Arial, sans-serif" transform="rotate(0.0 293.45 327.30)">&#946; 4</text><line x1="298.7" y1="327.3" x2="309" y2="327.3" stroke="#444" stroke-width="0.45"/><text x="309.3" y="328.3" font-size="3.0" fill="#333" font-family="'Liberation Sans', Arial, sans-serif">2AB</text><ellipse cx="234.5" cy="325.8" rx="2.13" ry="1.90" fill="#22cc22" stroke="#086008" stroke-width="0.45"/><ellipse cx="245.5" cy="325.8" rx="2.13" ry="1.90" fill="#22cc22" stroke="#086008" stroke-width="0.45"/><ellipse cx="256.4" cy="325.8" rx="2.13" ry="1.90" fill="#22cc22" stroke="#086008" stroke-width="0.45"/><ellipse cx="266.9" cy="322.7" rx="2.13" ry="1.90" fill="#22cc22" stroke="#086008" stroke-width="0.45"/><ellipse cx="266.9" cy="331.8" rx="2.13" ry="1.90" fill="#22cc22" stroke="#086008" stroke-width="0.45"/><ellipse cx="277.8" cy="327.3" rx="2.13" ry="1.90" fill="#22cc22" stroke="#086008" stroke-width="0.45"/><ellipse cx="228.7" cy="338.5" rx="2.13" ry="1.90" fill="#22cc22" stroke="#086008" stroke-width="0.45"/><ellipse cx="245.5" cy="338.5" rx="2.13" ry="1.90" fill="#22cc22" stroke="#086008" stroke-width="0.45"/><ellipse cx="256.4" cy="338.5" rx="2.13" ry="1.90" fill="#22cc22" stroke="#086008" stroke-width="0.45"/><rect x="286.00" y="325.43" width="4.4" height="3.74" fill="#0008e6" stroke="#00008a" stroke-width="0.3"/><rect x="296.50" y="325.43" width="4.4" height="3.74" fill="#0008e6" stroke="#00008a" stroke-width="0.3"/><text x="220" y="335.6" font-size="3.3" fill="#444" font-family="'Liberation Sans', Arial, sans-serif" textLength="12.3" lengthAdjust="spacingAndGlyphs">phosphate</text>
<line x1="140.7" y1="411.3" x2="157.7" y2="418.5" stroke="#333" stroke-width="0.6"/><text x="149.20" y="417.40" font-size="2.63" fill="#333" text-anchor="middle" font-family="'Liberation Sans', Arial, sans-serif" transform="rotate(23.0 149.20 414.90)">&#945; 2</text><line x1="140.7" y1="426.2" x2="157.7" y2="418.5" stroke="#333" stroke-width="0.6"/><text x="149.20" y="424.85" font-size="2.63" fill="#333" text-anchor="middle" font-family="'Liberation Sans', Arial, sans-serif" transform="rotate(-24.4 149.20 422.35)">&#945; 2</text><line x1="157.7" y1="418.5" x2="174.7" y2="425.7" stroke="#333" stroke-width="0.6"/><text x="166.20" y="424.60" font-size="2.63" fill="#333" text-anchor="middle" font-family="'Liberation Sans', Arial, sans-serif" transform="rotate(23.0 166.20 422.10)">&#945; 2</text><line x1="157.3" y1="433.2" x2="174.7" y2="425.7" stroke="#333" stroke-width="0.6"/><text x="166.00" y="431.95" font-size="2.63" fill="#333" text-anchor="middle" font-family="'Liberation Sans', Arial, sans-serif" transform="rotate(-23.3 166.00 429.45)">&#945; 2</text><line x1="174.7" y1="425.7" x2="190.9" y2="425.7" stroke="#333" stroke-width="0.6"/><text x="182.80" y="428.20" font-size="2.63" fill="#333" text-anchor="middle" font-family="'Liberation Sans', Arial, sans-serif" transform="rotate(0.0 182.80 425.70)">&#946; 4</text><line x1="190.9" y1="425.7" x2="207.5" y2="425.7" stroke="#333" stroke-width="0.6"/><text x="199.20" y="428.20" font-size="2.63" fill="#333" text-anchor="middle" font-family="'Liberation Sans', Arial, sans-serif" transform="rotate(0.0 199.20 425.70)">&#946; 4</text><line x1="207.5" y1="425.7" x2="220" y2="425.7" stroke="#444" stroke-width="0.45"/><text x="220.3" y="426.7" font-size="3.1" fill="#333" font-family="'Liberation Sans', Arial, sans-serif">2AB</text><ellipse cx="140.7" cy="411.3" rx="3.47" ry="3.10" fill="#22cc22" stroke="#086008" stroke-width="0.45"/><ellipse cx="157.7" cy="418.5" rx="3.47" ry="3.10" fill="#22cc22" stroke="#086008" stroke-width="0.45"/><ellipse cx="140.7" cy="426.2" rx="3.47" ry="3.10" fill="#22cc22" stroke="#086008" stroke-width="0.45"/><ellipse cx="174.7" cy="425.7" rx="3.47" ry="3.10" fill="#22cc22" stroke="#086008" stroke-width="0.45"/><ellipse cx="157.3" cy="433.2" rx="3.47" ry="3.10" fill="#22cc22" stroke="#086008" stroke-width="0.45"/><rect x="187.60" y="422.89" width="6.6" height="5.61" fill="#0008e6" stroke="#00008a" stroke-width="0.3"/><rect x="204.20" y="422.89" width="6.6" height="5.61" fill="#0008e6" stroke="#00008a" stroke-width="0.3"/>
<line x1="164.3" y1="468.1" x2="178.5" y2="474.2" stroke="#333" stroke-width="0.6"/><text x="171.40" y="473.25" font-size="2.21" fill="#333" text-anchor="middle" font-family="'Liberation Sans', Arial, sans-serif" transform="rotate(23.2 171.40 471.15)">&#945; 2</text><line x1="150.1" y1="474.2" x2="164.3" y2="480.7" stroke="#333" stroke-width="0.6"/><text x="157.20" y="479.55" font-size="2.21" fill="#333" text-anchor="middle" font-family="'Liberation Sans', Arial, sans-serif" transform="rotate(24.6 157.20 477.45)">&#945; 2</text><line x1="164.3" y1="480.7" x2="178.5" y2="474.2" stroke="#333" stroke-width="0.6"/><text x="171.40" y="479.55" font-size="2.21" fill="#333" text-anchor="middle" font-family="'Liberation Sans', Arial, sans-serif" transform="rotate(-24.6 171.40 477.45)">&#945; 2</text><line x1="135.9" y1="486.6" x2="150.1" y2="486.6" stroke="#333" stroke-width="0.6"/><text x="143.00" y="488.70" font-size="2.21" fill="#333" text-anchor="middle" font-family="'Liberation Sans', Arial, sans-serif" transform="rotate(0.0 143.00 486.60)">&#945; 2</text><line x1="150.1" y1="486.6" x2="164.3" y2="480.7" stroke="#333" stroke-width="0.6"/><text x="157.20" y="485.75" font-size="2.21" fill="#333" text-anchor="middle" font-family="'Liberation Sans', Arial, sans-serif" transform="rotate(-22.6 157.20 483.65)">&#945; 2</text><line x1="178.5" y1="474.2" x2="193.1" y2="474.2" stroke="#333" stroke-width="0.6"/><text x="185.80" y="476.30" font-size="2.21" fill="#333" text-anchor="middle" font-family="'Liberation Sans', Arial, sans-serif" transform="rotate(0.0 185.80 474.20)">&#946; 4</text><line x1="193.1" y1="474.2" x2="207.3" y2="474.2" stroke="#333" stroke-width="0.6"/><text x="200.20" y="476.30" font-size="2.21" fill="#333" text-anchor="middle" font-family="'Liberation Sans', Arial, sans-serif" transform="rotate(0.0 200.20 474.20)">&#946; 4</text><line x1="207.3" y1="474.2" x2="218.5" y2="474.2" stroke="#444" stroke-width="0.45"/><text x="218.8" y="475.2" font-size="3.0" fill="#333" font-family="'Liberation Sans', Arial, sans-serif">2AB</text><ellipse cx="164.3" cy="468.1" rx="2.91" ry="2.60" fill="#22cc22" stroke="#086008" stroke-width="0.45"/><ellipse cx="150.1" cy="474.2" rx="2.91" ry="2.60" fill="#22cc22" stroke="#086008" stroke-width="0.45"/><ellipse cx="178.5" cy="474.2" rx="2.91" ry="2.60" fill="#22cc22" stroke="#086008" stroke-width="0.45"/><ellipse cx="164.3" cy="480.7" rx="2.91" ry="2.60" fill="#22cc22" stroke="#086008" stroke-width="0.45"/><ellipse cx="135.9" cy="486.6" rx="2.91" ry="2.60" fill="#22cc22" stroke="#086008" stroke-width="0.45"/><ellipse cx="150.1" cy="486.6" rx="2.91" ry="2.60" fill="#22cc22" stroke="#086008" stroke-width="0.45"/><rect x="190.20" y="471.74" width="5.8" height="4.93" fill="#0008e6" stroke="#00008a" stroke-width="0.3"/><rect x="204.40" y="471.74" width="5.8" height="4.93" fill="#0008e6" stroke="#00008a" stroke-width="0.3"/>
<line x1="276.4" y1="465.4" x2="288.2" y2="470.8" stroke="#333" stroke-width="0.6"/><text x="282.30" y="470.19" font-size="2.20" fill="#333" text-anchor="middle" font-family="'Liberation Sans', Arial, sans-serif" transform="rotate(24.6 282.30 468.10)">&#945; 2</text><line x1="276.4" y1="475.9" x2="288.2" y2="470.8" stroke="#333" stroke-width="0.6"/><text x="282.30" y="475.44" font-size="2.20" fill="#333" text-anchor="middle" font-family="'Liberation Sans', Arial, sans-serif" transform="rotate(-23.4 282.30 473.35)">&#945; 2</text><line x1="256.7" y1="475.9" x2="276.4" y2="475.9" stroke="#333" stroke-width="0.6"/><text x="266.55" y="477.99" font-size="2.20" fill="#333" text-anchor="middle" font-family="'Liberation Sans', Arial, sans-serif" transform="rotate(0.0 266.55 475.90)">&#945; 2</text><line x1="288.2" y1="470.8" x2="300.5" y2="478.3" stroke="#333" stroke-width="0.6"/><text x="294.35" y="476.64" font-size="2.20" fill="#333" text-anchor="middle" font-family="'Liberation Sans', Arial, sans-serif" transform="rotate(31.4 294.35 474.55)">&#945; 2</text><line x1="263.6" y1="486.3" x2="276.4" y2="486.3" stroke="#333" stroke-width="0.6"/><text x="270.00" y="488.39" font-size="2.20" fill="#333" text-anchor="middle" font-family="'Liberation Sans', Arial, sans-serif" transform="rotate(0.0 270.00 486.30)">&#945; 2</text><line x1="276.4" y1="486.3" x2="288.2" y2="486.3" stroke="#333" stroke-width="0.6"/><text x="282.30" y="488.39" font-size="2.20" fill="#333" text-anchor="middle" font-family="'Liberation Sans', Arial, sans-serif" transform="rotate(0.0 282.30 486.30)">&#945; 2</text><line x1="288.2" y1="486.3" x2="300.5" y2="478.3" stroke="#333" stroke-width="0.6"/><text x="294.35" y="484.39" font-size="2.20" fill="#333" text-anchor="middle" font-family="'Liberation Sans', Arial, sans-serif" transform="rotate(-33.0 294.35 482.30)">&#945; 2</text><line x1="300.5" y1="478.3" x2="312.7" y2="478.3" stroke="#333" stroke-width="0.6"/><text x="306.60" y="480.39" font-size="2.20" fill="#333" text-anchor="middle" font-family="'Liberation Sans', Arial, sans-serif" transform="rotate(0.0 306.60 478.30)">&#946; 4</text><line x1="312.7" y1="478.3" x2="324.9" y2="478.3" stroke="#333" stroke-width="0.6"/><text x="318.80" y="480.39" font-size="2.20" fill="#333" text-anchor="middle" font-family="'Liberation Sans', Arial, sans-serif" transform="rotate(0.0 318.80 478.30)">&#946; 4</text><line x1="324.9" y1="478.3" x2="334" y2="478.3" stroke="#444" stroke-width="0.45"/><text x="334.3" y="479.3" font-size="3.0" fill="#333" font-family="'Liberation Sans', Arial, sans-serif">2AB</text><ellipse cx="276.4" cy="465.4" rx="2.46" ry="2.20" fill="#22cc22" stroke="#086008" stroke-width="0.45"/><ellipse cx="288.2" cy="470.8" rx="2.46" ry="2.20" fill="#22cc22" stroke="#086008" stroke-width="0.45"/><ellipse cx="256.7" cy="475.9" rx="2.46" ry="2.20" fill="#22cc22" stroke="#086008" stroke-width="0.45"/><ellipse cx="276.4" cy="475.9" rx="2.46" ry="2.20" fill="#22cc22" stroke="#086008" stroke-width="0.45"/><ellipse cx="300.5" cy="478.3" rx="2.46" ry="2.20" fill="#22cc22" stroke="#086008" stroke-width="0.45"/><ellipse cx="263.6" cy="486.3" rx="2.46" ry="2.20" fill="#22cc22" stroke="#086008" stroke-width="0.45"/><ellipse cx="276.4" cy="486.3" rx="2.46" ry="2.20" fill="#22cc22" stroke="#086008" stroke-width="0.45"/><ellipse cx="288.2" cy="486.3" rx="2.46" ry="2.20" fill="#22cc22" stroke="#086008" stroke-width="0.45"/><rect x="310.20" y="476.18" width="5" height="4.25" fill="#0008e6" stroke="#00008a" stroke-width="0.3"/><rect x="322.40" y="476.18" width="5" height="4.25" fill="#0008e6" stroke="#00008a" stroke-width="0.3"/><text x="248" y="473" font-size="3.3" fill="#444" font-family="'Liberation Sans', Arial, sans-serif" textLength="14.3" lengthAdjust="spacingAndGlyphs">phosphate</text>
<line x1="392.7" y1="476.7" x2="410" y2="476.7" stroke="#333" stroke-width="0.6"/><text x="401.35" y="478.79" font-size="2.20" fill="#333" text-anchor="middle" font-family="'Liberation Sans', Arial, sans-serif" transform="rotate(0.0 401.35 476.70)">&#945; 2</text><line x1="410" y1="476.7" x2="421" y2="476.7" stroke="#333" stroke-width="0.6"/><text x="415.50" y="478.79" font-size="2.20" fill="#333" text-anchor="middle" font-family="'Liberation Sans', Arial, sans-serif" transform="rotate(0.0 415.50 476.70)">&#945; 2</text><line x1="421" y1="476.7" x2="431.8" y2="481.3" stroke="#333" stroke-width="0.6"/><text x="426.40" y="481.09" font-size="2.20" fill="#333" text-anchor="middle" font-family="'Liberation Sans', Arial, sans-serif" transform="rotate(23.1 426.40 479.00)">&#945; 2</text><line x1="410" y1="485.8" x2="421" y2="485.8" stroke="#333" stroke-width="0.6"/><text x="415.50" y="487.89" font-size="2.20" fill="#333" text-anchor="middle" font-family="'Liberation Sans', Arial, sans-serif" transform="rotate(0.0 415.50 485.80)">&#945; 2</text><line x1="421" y1="485.8" x2="431.8" y2="481.3" stroke="#333" stroke-width="0.6"/><text x="426.40" y="485.64" font-size="2.20" fill="#333" text-anchor="middle" font-family="'Liberation Sans', Arial, sans-serif" transform="rotate(-22.6 426.40 483.55)">&#945; 2</text><line x1="431.8" y1="481.3" x2="442.4" y2="488.2" stroke="#333" stroke-width="0.6"/><text x="437.10" y="486.84" font-size="2.20" fill="#333" text-anchor="middle" font-family="'Liberation Sans', Arial, sans-serif" transform="rotate(33.1 437.10 484.75)">&#945; 2</text><line x1="399" y1="494.9" x2="410" y2="494.9" stroke="#333" stroke-width="0.6"/><text x="404.50" y="496.99" font-size="2.20" fill="#333" text-anchor="middle" font-family="'Liberation Sans', Arial, sans-serif" transform="rotate(0.0 404.50 494.90)">&#945; 2</text><line x1="410" y1="494.9" x2="421" y2="494.9" stroke="#333" stroke-width="0.6"/><text x="415.50" y="496.99" font-size="2.20" fill="#333" text-anchor="middle" font-family="'Liberation Sans', Arial, sans-serif" transform="rotate(0.0 415.50 494.90)">&#945; 2</text><line x1="421" y1="494.9" x2="431.8" y2="494.9" stroke="#333" stroke-width="0.6"/><text x="426.40" y="496.99" font-size="2.20" fill="#333" text-anchor="middle" font-family="'Liberation Sans', Arial, sans-serif" transform="rotate(0.0 426.40 494.90)">&#945; 2</text><line x1="431.8" y1="494.9" x2="442.4" y2="488.2" stroke="#333" stroke-width="0.6"/><text x="437.10" y="493.64" font-size="2.20" fill="#333" text-anchor="middle" font-family="'Liberation Sans', Arial, sans-serif" transform="rotate(-32.3 437.10 491.55)">&#945; 2</text><line x1="442.4" y1="488.2" x2="453.3" y2="488.2" stroke="#333" stroke-width="0.6"/><text x="447.85" y="490.29" font-size="2.20" fill="#333" text-anchor="middle" font-family="'Liberation Sans', Arial, sans-serif" transform="rotate(0.0 447.85 488.20)">&#946; 4</text><line x1="453.3" y1="488.2" x2="464.2" y2="488.2" stroke="#333" stroke-width="0.6"/><text x="458.75" y="490.29" font-size="2.20" fill="#333" text-anchor="middle" font-family="'Liberation Sans', Arial, sans-serif" transform="rotate(0.0 458.75 488.20)">&#946; 4</text><line x1="464.2" y1="488.2" x2="473" y2="488.2" stroke="#444" stroke-width="0.45"/><text x="473.3" y="489.2" font-size="3.0" fill="#333" font-family="'Liberation Sans', Arial, sans-serif">2AB</text><ellipse cx="392.7" cy="476.7" rx="2.24" ry="2.00" fill="#22cc22" stroke="#086008" stroke-width="0.45"/><ellipse cx="410" cy="476.7" rx="2.24" ry="2.00" fill="#22cc22" stroke="#086008" stroke-width="0.45"/><ellipse cx="421" cy="476.7" rx="2.24" ry="2.00" fill="#22cc22" stroke="#086008" stroke-width="0.45"/><ellipse cx="431.8" cy="481.3" rx="2.24" ry="2.00" fill="#22cc22" stroke="#086008" stroke-width="0.45"/><ellipse cx="410" cy="485.8" rx="2.24" ry="2.00" fill="#22cc22" stroke="#086008" stroke-width="0.45"/><ellipse cx="421" cy="485.8" rx="2.24" ry="2.00" fill="#22cc22" stroke="#086008" stroke-width="0.45"/><ellipse cx="442.4" cy="488.2" rx="2.24" ry="2.00" fill="#22cc22" stroke="#086008" stroke-width="0.45"/><ellipse cx="399" cy="494.9" rx="2.24" ry="2.00" fill="#22cc22" stroke="#086008" stroke-width="0.45"/><ellipse cx="410" cy="494.9" rx="2.24" ry="2.00" fill="#22cc22" stroke="#086008" stroke-width="0.45"/><ellipse cx="421" cy="494.9" rx="2.24" ry="2.00" fill="#22cc22" stroke="#086008" stroke-width="0.45"/><ellipse cx="431.8" cy="494.9" rx="2.24" ry="2.00" fill="#22cc22" stroke="#086008" stroke-width="0.45"/><rect x="451.05" y="486.29" width="4.5" height="3.82" fill="#0008e6" stroke="#00008a" stroke-width="0.3"/><rect x="461.95" y="486.29" width="4.5" height="3.82" fill="#0008e6" stroke="#00008a" stroke-width="0.3"/><text x="384.5" y="474" font-size="3.3" fill="#444" font-family="'Liberation Sans', Arial, sans-serif" textLength="13.0" lengthAdjust="spacingAndGlyphs">phosphate</text>
<g fill="#3a86e6"><circle cx="116.90" cy="329.00" r="2.00"/><circle cx="121.10" cy="330.10" r="1.55"/><circle cx="114.10" cy="333.30" r="1.95"/><circle cx="119.60" cy="333.70" r="1.55"/></g><path d="M116.90,328.90 L121.10,330.00 M116.90,328.90 L114.00,333.30 M116.90,328.90 L119.60,333.60" stroke="#3a86e6" stroke-width="0.50"/>
<g fill="#3a86e6"><circle cx="165.20" cy="347.50" r="2.00"/><circle cx="169.40" cy="348.60" r="1.55"/><circle cx="162.40" cy="351.80" r="1.95"/><circle cx="167.90" cy="352.20" r="1.55"/></g><path d="M165.20,347.40 L169.40,348.50 M165.20,347.40 L162.30,351.80 M165.20,347.40 L167.90,352.10" stroke="#3a86e6" stroke-width="0.50"/>
<g fill="#3a86e6"><circle cx="201.20" cy="366.00" r="2.00"/><circle cx="205.40" cy="367.10" r="1.55"/><circle cx="198.40" cy="370.30" r="1.95"/><circle cx="203.90" cy="370.70" r="1.55"/></g><path d="M201.20,365.90 L205.40,367.00 M201.20,365.90 L198.30,370.30 M201.20,365.90 L203.90,370.60" stroke="#3a86e6" stroke-width="0.50"/>
<g fill="#3a86e6"><circle cx="234.80" cy="362.50" r="2.00"/><circle cx="239.00" cy="363.60" r="1.55"/><circle cx="232.00" cy="366.80" r="1.95"/><circle cx="237.50" cy="367.20" r="1.55"/></g><path d="M234.80,362.40 L239.00,363.50 M234.80,362.40 L231.90,366.80 M234.80,362.40 L237.50,367.10" stroke="#3a86e6" stroke-width="0.50"/>
<g fill="#3a86e6"><circle cx="260.70" cy="359.80" r="2.00"/><circle cx="264.90" cy="360.90" r="1.55"/><circle cx="257.90" cy="364.10" r="1.95"/><circle cx="263.40" cy="364.50" r="1.55"/></g><path d="M260.70,359.70 L264.90,360.80 M260.70,359.70 L257.80,364.10 M260.70,359.70 L263.40,364.40" stroke="#3a86e6" stroke-width="0.50"/>
<g fill="#3a86e6"><circle cx="288.40" cy="361.10" r="2.00"/><circle cx="292.60" cy="362.20" r="1.55"/><circle cx="285.60" cy="365.40" r="1.95"/><circle cx="291.10" cy="365.80" r="1.55"/></g><path d="M288.40,361.00 L292.60,362.10 M288.40,361.00 L285.50,365.40 M288.40,361.00 L291.10,365.70" stroke="#3a86e6" stroke-width="0.50"/>
<g fill="#3a86e6"><circle cx="312.20" cy="370.70" r="2.00"/><circle cx="316.40" cy="371.80" r="1.55"/><circle cx="309.40" cy="375.00" r="1.95"/><circle cx="314.90" cy="375.40" r="1.55"/></g><path d="M312.20,370.60 L316.40,371.70 M312.20,370.60 L309.30,375.00 M312.20,370.60 L314.90,375.30" stroke="#3a86e6" stroke-width="0.50"/>
<g fill="#3a86e6"><circle cx="323.90" cy="365.80" r="2.00"/><circle cx="328.10" cy="366.90" r="1.55"/><circle cx="321.10" cy="370.10" r="1.95"/><circle cx="326.60" cy="370.50" r="1.55"/></g><path d="M323.90,365.70 L328.10,366.80 M323.90,365.70 L321.00,370.10 M323.90,365.70 L326.60,370.40" stroke="#3a86e6" stroke-width="0.50"/>
<g fill="#3a86e6"><circle cx="353.20" cy="339.10" r="2.00"/><circle cx="357.40" cy="340.20" r="1.55"/><circle cx="350.40" cy="343.40" r="1.95"/><circle cx="355.90" cy="343.80" r="1.55"/></g><path d="M353.20,339.00 L357.40,340.10 M353.20,339.00 L350.30,343.40 M353.20,339.00 L355.90,343.70" stroke="#3a86e6" stroke-width="0.50"/>
<g fill="#3a86e6"><circle cx="350.40" cy="353.10" r="2.00"/><circle cx="354.60" cy="354.20" r="1.55"/><circle cx="347.60" cy="357.40" r="1.95"/><circle cx="353.10" cy="357.80" r="1.55"/></g><path d="M350.40,353.00 L354.60,354.10 M350.40,353.00 L347.50,357.40 M350.40,353.00 L353.10,357.70" stroke="#3a86e6" stroke-width="0.50"/>
<g fill="#3a86e6"><circle cx="378.40" cy="361.50" r="2.00"/><circle cx="382.60" cy="362.60" r="1.55"/><circle cx="375.60" cy="365.80" r="1.95"/><circle cx="381.10" cy="366.20" r="1.55"/></g><path d="M378.40,361.40 L382.60,362.50 M378.40,361.40 L375.50,365.80 M378.40,361.40 L381.10,366.10" stroke="#3a86e6" stroke-width="0.50"/>
<g fill="#3a86e6"><circle cx="389.90" cy="360.70" r="2.00"/><circle cx="394.10" cy="361.80" r="1.55"/><circle cx="387.10" cy="365.00" r="1.95"/><circle cx="392.60" cy="365.40" r="1.55"/></g><path d="M389.90,360.60 L394.10,361.70 M389.90,360.60 L387.00,365.00 M389.90,360.60 L392.60,365.30" stroke="#3a86e6" stroke-width="0.50"/>
<g fill="#3a86e6"><circle cx="402.10" cy="346.70" r="2.00"/><circle cx="406.30" cy="347.80" r="1.55"/><circle cx="399.30" cy="351.00" r="1.95"/><circle cx="404.80" cy="351.40" r="1.55"/></g><path d="M402.10,346.60 L406.30,347.70 M402.10,346.60 L399.20,351.00 M402.10,346.60 L404.80,351.30" stroke="#3a86e6" stroke-width="0.50"/>
<g fill="#3a86e6"><circle cx="417.40" cy="364.00" r="2.00"/><circle cx="421.60" cy="365.10" r="1.55"/><circle cx="414.60" cy="368.30" r="1.95"/><circle cx="420.10" cy="368.70" r="1.55"/></g><path d="M417.40,363.90 L421.60,365.00 M417.40,363.90 L414.50,368.30 M417.40,363.90 L420.10,368.60" stroke="#3a86e6" stroke-width="0.50"/>
<g fill="#3a86e6"><circle cx="437.90" cy="365.80" r="2.00"/><circle cx="442.10" cy="366.90" r="1.55"/><circle cx="435.10" cy="370.10" r="1.95"/><circle cx="440.60" cy="370.50" r="1.55"/></g><path d="M437.90,365.70 L442.10,366.80 M437.90,365.70 L435.00,370.10 M437.90,365.70 L440.60,370.40" stroke="#3a86e6" stroke-width="0.50"/>
<g fill="#3a86e6"><circle cx="450.70" cy="303.80" r="2.00"/><circle cx="454.90" cy="304.90" r="1.55"/><circle cx="447.90" cy="308.10" r="1.95"/><circle cx="453.40" cy="308.50" r="1.55"/></g><path d="M450.70,303.70 L454.90,304.80 M450.70,303.70 L447.80,308.10 M450.70,303.70 L453.40,308.40" stroke="#3a86e6" stroke-width="0.50"/>
<g fill="#3a86e6"><circle cx="472.80" cy="303.00" r="2.00"/><circle cx="477.00" cy="304.10" r="1.55"/><circle cx="470.00" cy="307.30" r="1.95"/><circle cx="475.50" cy="307.70" r="1.55"/></g><path d="M472.80,302.90 L477.00,304.00 M472.80,302.90 L469.90,307.30 M472.80,302.90 L475.50,307.60" stroke="#3a86e6" stroke-width="0.50"/>
<g fill="#3a86e6"><circle cx="407.20" cy="267.30" r="2.00"/><circle cx="411.40" cy="268.40" r="1.55"/><circle cx="404.40" cy="271.60" r="1.95"/><circle cx="409.90" cy="272.00" r="1.55"/></g><path d="M407.20,267.20 L411.40,268.30 M407.20,267.20 L404.30,271.60 M407.20,267.20 L409.90,271.90" stroke="#3a86e6" stroke-width="0.50"/>
<g fill="#3a86e6"><circle cx="226.70" cy="519.80" r="2.00"/><circle cx="230.90" cy="520.90" r="1.55"/><circle cx="223.90" cy="524.10" r="1.95"/><circle cx="229.40" cy="524.50" r="1.55"/></g><path d="M226.70,519.70 L230.90,520.80 M226.70,519.70 L223.80,524.10 M226.70,519.70 L229.40,524.40" stroke="#3a86e6" stroke-width="0.50"/>
<g fill="#3a86e6"><circle cx="261.60" cy="509.40" r="2.00"/><circle cx="265.80" cy="510.50" r="1.55"/><circle cx="258.80" cy="513.70" r="1.95"/><circle cx="264.30" cy="514.10" r="1.55"/></g><path d="M261.60,509.30 L265.80,510.40 M261.60,509.30 L258.70,513.70 M261.60,509.30 L264.30,514.00" stroke="#3a86e6" stroke-width="0.50"/>
<g fill="#3a86e6"><circle cx="275.20" cy="510.80" r="2.00"/><circle cx="279.40" cy="511.90" r="1.55"/><circle cx="272.40" cy="515.10" r="1.95"/><circle cx="277.90" cy="515.50" r="1.55"/></g><path d="M275.20,510.70 L279.40,511.80 M275.20,510.70 L272.30,515.10 M275.20,510.70 L277.90,515.40" stroke="#3a86e6" stroke-width="0.50"/>
<g fill="#3a86e6"><circle cx="287.20" cy="519.00" r="2.00"/><circle cx="291.40" cy="520.10" r="1.55"/><circle cx="284.40" cy="523.30" r="1.95"/><circle cx="289.90" cy="523.70" r="1.55"/></g><path d="M287.20,518.90 L291.40,520.00 M287.20,518.90 L284.30,523.30 M287.20,518.90 L289.90,523.60" stroke="#3a86e6" stroke-width="0.50"/>
<g fill="#3a86e6"><circle cx="301.70" cy="510.20" r="2.00"/><circle cx="305.90" cy="511.30" r="1.55"/><circle cx="298.90" cy="514.50" r="1.95"/><circle cx="304.40" cy="514.90" r="1.55"/></g><path d="M301.70,510.10 L305.90,511.20 M301.70,510.10 L298.80,514.50 M301.70,510.10 L304.40,514.80" stroke="#3a86e6" stroke-width="0.50"/>
<g fill="#3a86e6"><circle cx="312.60" cy="523.00" r="2.00"/><circle cx="316.80" cy="524.10" r="1.55"/><circle cx="309.80" cy="527.30" r="1.95"/><circle cx="315.30" cy="527.70" r="1.55"/></g><path d="M312.60,522.90 L316.80,524.00 M312.60,522.90 L309.70,527.30 M312.60,522.90 L315.30,527.60" stroke="#3a86e6" stroke-width="0.50"/>
<g fill="#3a86e6"><circle cx="333.90" cy="512.10" r="2.00"/><circle cx="338.10" cy="513.20" r="1.55"/><circle cx="331.10" cy="516.40" r="1.95"/><circle cx="336.60" cy="516.80" r="1.55"/></g><path d="M333.90,512.00 L338.10,513.10 M333.90,512.00 L331.00,516.40 M333.90,512.00 L336.60,516.70" stroke="#3a86e6" stroke-width="0.50"/>
<g fill="#3a86e6"><circle cx="358.30" cy="496.00" r="2.00"/><circle cx="362.50" cy="497.10" r="1.55"/><circle cx="355.50" cy="500.30" r="1.95"/><circle cx="361.00" cy="500.70" r="1.55"/></g><path d="M358.30,495.90 L362.50,497.00 M358.30,495.90 L355.40,500.30 M358.30,495.90 L361.00,500.60" stroke="#3a86e6" stroke-width="0.50"/>
<g fill="#3a86e6"><circle cx="358.30" cy="523.90" r="2.00"/><circle cx="362.50" cy="525.00" r="1.55"/><circle cx="355.50" cy="528.20" r="1.95"/><circle cx="361.00" cy="528.60" r="1.55"/></g><path d="M358.30,523.80 L362.50,524.90 M358.30,523.80 L355.40,528.20 M358.30,523.80 L361.00,528.50" stroke="#3a86e6" stroke-width="0.50"/>
<g fill="#3a86e6"><circle cx="396.10" cy="520.70" r="2.00"/><circle cx="400.30" cy="521.80" r="1.55"/><circle cx="393.30" cy="525.00" r="1.95"/><circle cx="398.80" cy="525.40" r="1.55"/></g><path d="M396.10,520.60 L400.30,521.70 M396.10,520.60 L393.20,525.00 M396.10,520.60 L398.80,525.30" stroke="#3a86e6" stroke-width="0.50"/>
<g fill="#3a86e6"><circle cx="414.40" cy="520.70" r="2.00"/><circle cx="418.60" cy="521.80" r="1.55"/><circle cx="411.60" cy="525.00" r="1.95"/><circle cx="417.10" cy="525.40" r="1.55"/></g><path d="M414.40,520.60 L418.60,521.70 M414.40,520.60 L411.50,525.00 M414.40,520.60 L417.10,525.30" stroke="#3a86e6" stroke-width="0.50"/>
<g fill="#3a86e6"><circle cx="435.40" cy="523.00" r="2.00"/><circle cx="439.60" cy="524.10" r="1.55"/><circle cx="432.60" cy="527.30" r="1.95"/><circle cx="438.10" cy="527.70" r="1.55"/></g><path d="M435.40,522.90 L439.60,524.00 M435.40,522.90 L432.50,527.30 M435.40,522.90 L438.10,527.60" stroke="#3a86e6" stroke-width="0.50"/>
<g fill="#3a86e6"><circle cx="449.40" cy="519.30" r="2.00"/><circle cx="453.60" cy="520.40" r="1.55"/><circle cx="446.60" cy="523.60" r="1.95"/><circle cx="452.10" cy="524.00" r="1.55"/></g><path d="M449.40,519.20 L453.60,520.30 M449.40,519.20 L446.50,523.60 M449.40,519.20 L452.10,523.90" stroke="#3a86e6" stroke-width="0.50"/>
<g fill="#3a86e6"><circle cx="463.90" cy="523.00" r="2.00"/><circle cx="468.10" cy="524.10" r="1.55"/><circle cx="461.10" cy="527.30" r="1.95"/><circle cx="466.60" cy="527.70" r="1.55"/></g><path d="M463.90,522.90 L468.10,524.00 M463.90,522.90 L461.00,527.30 M463.90,522.90 L466.60,527.60" stroke="#3a86e6" stroke-width="0.50"/>
<g fill="#3a86e6"><circle cx="475.50" cy="521.60" r="2.00"/><circle cx="479.70" cy="522.70" r="1.55"/><circle cx="472.70" cy="525.90" r="1.95"/><circle cx="478.20" cy="526.30" r="1.55"/></g><path d="M475.50,521.50 L479.70,522.60 M475.50,521.50 L472.60,525.90 M475.50,521.50 L478.20,526.20" stroke="#3a86e6" stroke-width="0.50"/>
<text x="117.9" y="342.3" font-size="6.4" text-anchor="middle" fill="#2a2a2a" font-family="'DejaVu Sans', 'Liberation Sans', sans-serif" textLength="10.4" lengthAdjust="spacingAndGlyphs">M8</text>
<text x="117.4" y="351.2" font-size="6.2" text-anchor="middle" fill="#2a2a2a" font-family="'DejaVu Sans', 'Liberation Sans', sans-serif">21.22</text>
<text x="166.2" y="361.3" font-size="6.4" text-anchor="middle" fill="#2a2a2a" font-family="'DejaVu Sans', 'Liberation Sans', sans-serif" textLength="10.9" lengthAdjust="spacingAndGlyphs">M9</text>
<text x="166.5" y="370.6" font-size="6.2" text-anchor="middle" fill="#2a2a2a" font-family="'DejaVu Sans', 'Liberation Sans', sans-serif">23.29</text>
<text x="138.0" y="314.3" font-size="6.4" text-anchor="middle" fill="#2a2a2a" font-family="'DejaVu Sans', 'Liberation Sans', sans-serif" textLength="23" lengthAdjust="spacingAndGlyphs">M9_iso</text>
<text x="138.7" y="322.6" font-size="6.2" text-anchor="middle" fill="#2a2a2a" font-family="'DejaVu Sans', 'Liberation Sans', sans-serif">23.69</text>
<text x="281.3" y="292.6" font-size="6.4" text-anchor="middle" fill="#2a2a2a" font-family="'DejaVu Sans', 'Liberation Sans', sans-serif" textLength="76.6" lengthAdjust="spacingAndGlyphs">M10_Phosphorylation2</text>
<text x="281.5" y="301.2" font-size="6.2" text-anchor="middle" fill="#2a2a2a" font-family="'DejaVu Sans', 'Liberation Sans', sans-serif">29.04</text>
<text x="268.2" y="348.1" font-size="6.4" text-anchor="middle" fill="#2a2a2a" font-family="'DejaVu Sans', 'Liberation Sans', sans-serif" textLength="81.7" lengthAdjust="spacingAndGlyphs">M9_Phosphorylation_iso</text>
<text x="267.7" y="356.3" font-size="6.2" text-anchor="middle" fill="#2a2a2a" font-family="'DejaVu Sans', 'Liberation Sans', sans-serif">24.67</text>
<text x="405.6" y="282.5" font-size="6.4" text-anchor="middle" fill="#2a2a2a" font-family="'DejaVu Sans', 'Liberation Sans', sans-serif" textLength="77.2" lengthAdjust="spacingAndGlyphs">M11_Phosphorylation2</text>
<text x="405.5" y="290.6" font-size="6.2" text-anchor="middle" fill="#2a2a2a" font-family="'DejaVu Sans', 'Liberation Sans', sans-serif">30.15</text>
<text x="185.0" y="444.1" font-size="6.4" text-anchor="middle" fill="#2a2a2a" font-family="'DejaVu Sans', 'Liberation Sans', sans-serif" textLength="10.9" lengthAdjust="spacingAndGlyphs">M5</text>
<text x="185.0" y="453.4" font-size="6.2" text-anchor="middle" fill="#2a2a2a" font-family="'DejaVu Sans', 'Liberation Sans', sans-serif">12.79</text>
<text x="181.0" y="496.9" font-size="6.4" text-anchor="middle" fill="#2a2a2a" font-family="'DejaVu Sans', 'Liberation Sans', sans-serif" textLength="10.9" lengthAdjust="spacingAndGlyphs">M6</text>
<text x="181.0" y="506.2" font-size="6.2" text-anchor="middle" fill="#2a2a2a" font-family="'DejaVu Sans', 'Liberation Sans', sans-serif">15.89</text>
<text x="295.0" y="496.5" font-size="6.4" text-anchor="middle" fill="#2a2a2a" font-family="'DejaVu Sans', 'Liberation Sans', sans-serif" textLength="82.8" lengthAdjust="spacingAndGlyphs">M8_Phosphorylation_iso</text>
<text x="295.5" y="505.0" font-size="6.2" text-anchor="middle" fill="#2a2a2a" font-family="'DejaVu Sans', 'Liberation Sans', sans-serif">22.92</text>
<text x="359.3" y="511.5" font-size="6.4" text-anchor="middle" fill="#2a2a2a" font-family="'DejaVu Sans', 'Liberation Sans', sans-serif" textLength="27.5" lengthAdjust="spacingAndGlyphs">M11_iso</text>
<text x="360.0" y="519.7" font-size="6.2" text-anchor="middle" fill="#2a2a2a" font-family="'DejaVu Sans', 'Liberation Sans', sans-serif">27.70</text>
<text x="432.3" y="505.8" font-size="6.4" text-anchor="middle" fill="#2a2a2a" font-family="'DejaVu Sans', 'Liberation Sans', sans-serif" textLength="73.5" lengthAdjust="spacingAndGlyphs">M11_Phosphorylation</text>
<text x="431.4" y="513.6" font-size="6.2" text-anchor="middle" fill="#2a2a2a" font-family="'DejaVu Sans', 'Liberation Sans', sans-serif">28.31</text>
<line x1="129.6" y1="408.2" x2="136" y2="410" stroke="#222" stroke-width="0.5"/>
<line x1="335.6" y1="261" x2="335.8" y2="258.5" stroke="#222" stroke-width="0.5"/>
<line x1="335.8" y1="258.5" x2="330" y2="259.8" stroke="#222" stroke-width="0.5"/>
<line x1="366" y1="297" x2="368.5" y2="292.5" stroke="#222" stroke-width="0.5"/>
<line x1="185.5" y1="328" x2="184" y2="324.5" stroke="#222" stroke-width="0.5"/>
<line x1="213.5" y1="339.5" x2="217" y2="339" stroke="#222" stroke-width="0.5"/>
<line x1="351.5" y1="367" x2="349" y2="363" stroke="#222" stroke-width="0.5"/>
<line x1="395.4" y1="357" x2="393" y2="354" stroke="#222" stroke-width="0.5"/>
<line x1="418.2" y1="370" x2="416.5" y2="367.5" stroke="#222" stroke-width="0.5"/>
<line x1="246" y1="362" x2="241" y2="361" stroke="#222" stroke-width="0.5"/>
<line x1="271.8" y1="360.5" x2="268" y2="359.5" stroke="#222" stroke-width="0.5"/>
<line x1="383.8" y1="521.5" x2="385.5" y2="517.5" stroke="#222" stroke-width="0.5"/>
<line x1="301.5" y1="527" x2="304.5" y2="520" stroke="#222" stroke-width="0.5"/>
<line x1="341.5" y1="362" x2="337" y2="361" stroke="#222" stroke-width="0.5"/>
<line x1="458" y1="365" x2="461" y2="365" stroke="#222" stroke-width="0.5"/>
<line x1="270.4" y1="523" x2="274" y2="516" stroke="#222" stroke-width="0.5"/>
<line x1="301" y1="521" x2="304" y2="521" stroke="#222" stroke-width="0.5"/>
<line x1="368.4" y1="528" x2="366" y2="524" stroke="#222" stroke-width="0.5"/>
<line x1="436.5" y1="530.5" x2="439" y2="527.5" stroke="#222" stroke-width="0.5"/>
<line x1="483.5" y1="378.5" x2="487" y2="378.5" stroke="#222" stroke-width="0.5"/>
</svg>
</body></html>
